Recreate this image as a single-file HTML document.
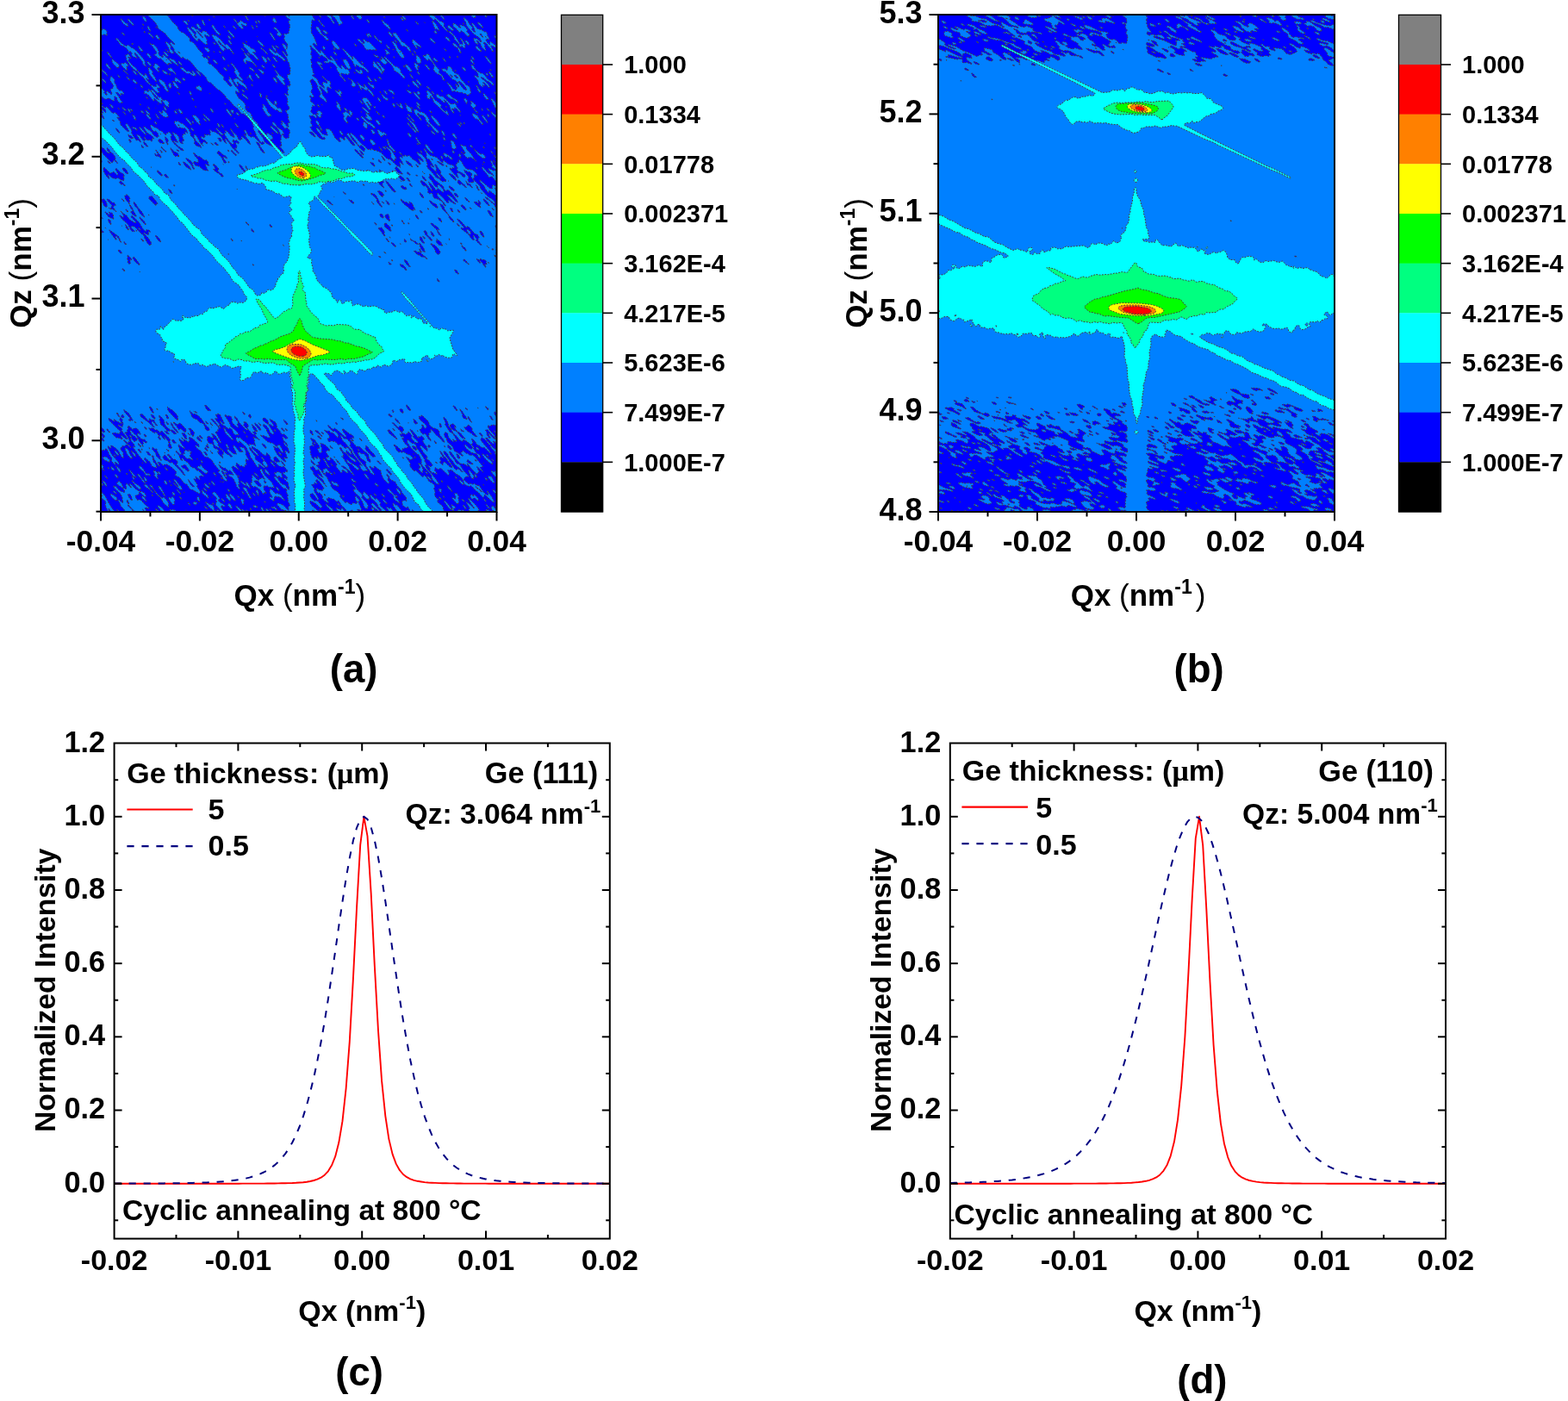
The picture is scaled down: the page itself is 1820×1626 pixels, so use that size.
<!DOCTYPE html><html><head><meta charset="utf-8"><style>html,body{margin:0;padding:0;background:#fff;}svg{display:block;}</style></head><body>
<svg width="1820" height="1626" viewBox="0 0 1820 1626">
<rect width="1820" height="1626" fill="#fff"/>
<rect x="117" y="17" width="459.5" height="577" fill="#0000FF"/>
<path fill="#0080FF" fill-rule="evenodd" stroke="#4a3c36" stroke-width="1" stroke-dasharray="1.8 1.5" d="M515.2 593.9l-33 .1-3.4-2.3-.8 .5 0 1.6-1.4 0-3.4-5.7-.4-.1-.6 1.5-.4 .1-4.2-2.8-.6-1.6-.2-3.9 1.4 0 1-.9 2.6 1.4-.4-4.6-4.8-5.4-1.4-3.7-4.4-4.7-2-4.2-5-2.2-1.2-1.2-1.4-3.7-2.4-1.9-.2 1 2.3 3-.1 1-1.1 .6 2.3 4.4-.8 1.1-1-.3-5.1-5.2-2.5-5.6-.6-4-3.9-2.4-2.9-2.7-1 .1 .1 2-1.1 .3-4.4-2.7-.3 .4 6.4 9.6-1.1 .1-4-2.5-.4-1.6-3.8-5-1.2-3 .5-2-1.1-1.6-5.3-3.4-3.8-6.6 2.5-.1 3 2 1-.6 1.2 .3 3 3.4 .8 3.7 2 2 1.6 .4 .6-1.1-2.3-4-.2-3-1.5-2-5.3-4-2.3-2.6-2.6-1.5-2.4 .3-7.3-8.2-.3-1.2 1.8 1.2 1.2 1.9 1 .4-.3-1.7-2.2-3 3.1 .5-.3-1.5-2.6-2.6-1.7-.3-7.4-5.8-1.5-.3 .8 3 3.8 5-.1 1.1-1 .4-10.6-9.2-2-1.2-1.4 1.3-1-.3-4.6-4.3-.6 .2 .6 1.6 5 5.1 2.6 .1 2.4 2 1.2 1.6 .1 2.6-.2 1-.5 0-5-5.2-3-.7-2-1.8-2 .3-3-1.4 .2 1.2 3.8 3.4 1.6 3.2-.1 1.4-2.2 1 .7 2.2 1.4 1.5 .6 .1 1-1.2 5 .8 1.4 .9 2.6 2.9 1 .1 .4-1 1 .1 6 5.2 .8-.6-.2-1.4 2.2 1 2.9 4 1.4 3.4-1.2 0-4.9-4.4-.7 1.4 .7 1.9 3.4 3.1 4.6 2.9 3.2 2.7 .1 1-1.7 .1-5-3.4-4.6-5.7-4.2-3-2.2-4.2-1-.6-.2 2.2 3.8 5.6-.1 3.4-.5 .3-1-.8-.1 .5 2.1 1.9 2.8 4.7 3.3 4 1.7 4.4 4.4 6-.2 .5-.6-.3-5-5.4-2.4-1.4-2.4-2.8-3.6-1.3-.5 .3 .3 .4 1.5 1.6 4.5 2.4 1.4 3-.2 .6-1 .1-5-3.7-.8 .6 .3 2.4-1.5 .3-5.2-6.3-.7-1.4 .1-.6 1.2-.4-.3-1-4.4-5.6-2.3-1.6-1.4-.4 1 2.6-2.6 .8-1.2-.8-1.8-2.6 .6-.5 3 .1-.4-1.6-2.3-3-.8-2 1.5-1.5 3.2 .5-1.5-3-4.7-4.1-4.6-1.9 .4 4 1.1 2.6-.7 1.4 .8 2.6-2.6 1.1-1.6-2.1-1.2-3.6 1.8 .8 .7-2.2-.5-1.6-3.6-4.3-1.5-2.7-1.5-.2-2.6-1.6-.4 .1-.2 .7 2.3 3.6-.3 2.4 1.9 2.6-.3 .4-2-1.4-2.1 1-.6 1 .1 2 .9 2-.4 2.4 2 6 2.7 2.6 .5-.6-.7-1.4 .2-1.3 1 .1 2 1.8 1-.1-.9-3.1 2.9 2.4 .9 2.2-.2 1.4-.3 .6-2 .4 0 .6 1.1 3-2.5-.2-.3 1.2 5.5 5.4 1.5 3 5.3 4.9 .8 2.7 3.3 5 .2 2.4 1.1 1.7 2.6 2.5 3.4 1.8 3.3 3.6 .5 1-.4 2 6.2 6.7 1 .3-.1-1 .5-.5 4.6 3.2 1.4-.1 1.6-1.9 3 1 1.4-.5 .7-.8-2.3-3.4-.5-3.6 1.1-.1 1.8 1.7 2.4 3-.1 1-1.1 0-.3 1 3.6 8-.2 1.4-.5 .3-3.9-1.7-.2 .4 1.2 2-.1 .7-4.6 .1-3-2-1.4 .6-1 1.4-3-.2-2.8-4-3.8-3.4-2.4-4.4-1.6-.8-1.4 1.1-3.6-3.2-2.4-.2-3-1.4-1 .2 0 1.1-.6 .2-1-.2-.1 1 2.3 3-.2 1-4.6-2.6-2.5-3 .7-2-1.6-2.1-2.4-2.4-1.6 .7-1.8-2.6-.2-3 .6-.3 2.4 2 2 .1 1.6 1 .6-.4-.2-1.5 2-.9-5.7-8-2.7-2.3-1 .6-.2 .7 1.6 4-3-1.6-.4 .1 0 2-2.6-.3-.5 .8 3.3 4.4-.4 2.6 4.8 8 .4 2.4-1.1 0-3.5-5.1-2.4-2.5-2.6 1-.6 1.2 2 3.4 2 2 1.6 1.2 2.6-.3 1.7 1.1 4.4 5.6-.1 1-1.6 .7-1-.4-4.3-4.3-4.7-2.7-2-.6-.7 1.3 2.5 4 6.5 5.4 .3 1.6-2 .1-3.6-2.1-.6 .4-.1 1.6-.7 .2-27 0-1.6-.9-6.6-1.9-4.8-5.3 0-1.7 2-.1 5.4 2.5 5 5.4 1.1 .2-.8-4 1.7-1.3 .3-1.1-2.4-4 .4-2-1-3 .9-2-1.8-3 .2-3.7-1-1-2-.2-1.8-1.1-8.5-9.6-1.5-2.4 .2-.6 1-.1 2.6 1.5 4.2 6.2 2.8 1.6 2.1 .4 2.9 4.6 1.9 .8-.2-3-1-2.4 .3-2-4.8-4.6-.5-1 .7-.5 3 1.8 .2-2.3-.9-1.4-3.7-3-.6-1 .6-.6 1.4 .6 1.6-1.8 2 .8-.4-2-3.6-4.2-1.6-.4-1 .9-4-1.7-4.4-4.5-3.6-1.9-1.1-1.2-.7-3.6-3.2-3.1-1-.4-.2 .5 .2 2.3-2-.1-2.4-1.4-4.6-4.4-7.4-4.3-.7 .5 .1 1.1 5.8 5.3 2.3 3.6-1.2 0-4.9-4.3-3.4-4.9-1-.4-.2 2 6.8 8.6-.3 2.4 .5 1 5.6 4.3 5.2 4.7-.2 .6-1 .1-5.4-4.2-.8 .5 .8 2.6-1.6 .4-1.4-1.2-4.4-7.2-2.8-3.6-1.2-4.4-1.8-2.6-1.8-4.1-7.6-7-.4-.3-.3 .4 .3 1.8-1.6-.5-2.1-2.7-.1-3 .8-.6 2 1 1.6-.4 3.4 3.2 3 2 4.4 4.6 0-1.8 .6-.6 2.4 1 1.6-.6 2.4 1.8 .7-.2-1.5-3.4 0-2.6-1.6-4.4 2.4 1.6 2.6 .7 1.4 1.3 1.1-.2-2.1-1.6-3-3.8 1.5-1.6-1.5-2.8-2.9 .8 2 2.6 .1 .4-.6 .1-2-.8-4.9-5.3-.8-2 1.3-1.4 0-1-2.2-3.3-3-1.3 .3 2.6-.8 1.4 1.1 1.8 3.8 3.2-.8 1.1-1.8-1.1-7-7.4-2.8-5.2-3-2.6-.4 .2 1.3 2.6 3.3 4-.1 1.4-1.1 1 1.6 3.6-.2 .4-2.4-1.2-3.4-3.1-1.2-1.7-.5-1 .4-2-1.1-3.4-2.2-1.2-1.4 .4-3.6-1.5-.6 .3 5.8 9 1.7 4.4 3.7 2.8 4.2 4.2 1.2 3-2.4-.7-1.7 .3-2.5-2.6-.7-3-1.5-1.4-1.6-1.1-1.6 1.1-4-3.2-4.2-2.4-2.1-3.4 1.5 .4 2.8 2.7 1-.1 .1-.6-4.9-10-2.6-1.2-.6 1.5-2.2-.3 2.4 4-.1 1-2.1-1-.5 .6 1.1 2.1 3.7 3.9 .1 2.4 1.6 2.6-1 0-5.7-7.6-2.7-2.7-1.6-.5-.1 .8 7.5 8 1.3 2-.1 1.4-1.2 .6 .7 2-3.1 .3-.3 .7 2 2.4 4.9 9.6-1 .1-1-.9-4.8-7.2-3.8-2.8-.5 .2 2.1 5-1 .2-5-2.4-.8 .8-.5 3 .6 2.4 1.4 2 1.3 .8 1.4-.3 1.7 1.1 1 1-.3 1.4 .9 1.6 1.3 1.1 1.6-.1 2.6 2.4 .3 1-1.5-.2-.5 .2 .2 .6 2 3 4.3 4 .2-.6-1.5-3.4 .3-.6 1.5 0 .1-2.4-3.2-3.9-2-1.3-3.4-1.2-2.2-2.2-1.5-5 .7-1.1 1.4 0 1.8 1.1 2.4 4-.4 1.6 .5 1 9.7 9.2 2.6 1.1 2.4 2.3 1-.1 .2-1.1-5.2-5.3-.7-2.1 1.7-.2 5.6 4.8 3.4 .9-.3-2.5-2.8-5-.3-2.6 1-.1 2 1.9 4.4 5.8 1.6-.6 2 .6 .2-.6-3.2-3.8-.8-1.6 4.8 .8 1.1 1.2 1.6 4-.4 2.4 3.7 6.6-.6 .5-2.4-1.4-.7 .3 .9 6.6-1.8-.1 0 2.1-1 .3-3-1.5-1.4 .3-3.4-3.1-1.2-.1-.1 3.1 3.1 3.8 0 .7-6.4-4.2-1 0-.8 1.1 2.1 5 4.3 5 2 5-.4 2.6 1.3 2-1.5 .4-.3 1 1.9 3.6-.2 1-1.4-.8-2.2-2.2-.7-3-2.7-5.7-2.4-2.5-2.6-.6-1.5-2.2 4.1-.1 2 .8 .1-.7-1.9-3-2.2-2-1.6 1-4-3.7-2 .2-5.3-4.1 1.3 2.7 3 3.4 1.6 .9 1.4-.1 2.2 2.1-.1 1-1.5-1-.7 .6 2.3 4-.1 1-.5 .1-1.4-1.1-1-3.6-.9-1.4-1.3-1.2-1 .1-.2 .5 6.4 9.6-.2 1.7-2.1-.7-2.1-2-1.2-3.2-4.6-4.7 0-.7 1.6 0 .2-1-6.2-7.3-2.6-4.3-1.8-1.8-3.6-2.3-2.6-.1-2.7-2.6-2-4-4.7-3.3-2.1-2.7 .1-.7 1-.4 2.4 1.7 1-.1-.4-2.2-6.6-6.6-3.4-1.9-1-.1-.8 .7 1.3 2.6-1.1 1-.4 1.7-3-2.4-2.4-.9-2.6-2.5-.6 .1 2.4 2.4 .8 1.6-.6 .9-5-3.7-.1 .8 3.4 6.4 2.9 3 .7 1.6-2.9-1.4-4.6-3.4-.5 .8 1.7 4 .2 2.4 1.8 2.6-.1 1.4-1.5 .2-3-3.2-1.9-1 .3 1.2 3.2 3.4 2.2 5.4 1.2 1.3 .8 .3-.6-2.6 .2-.7 .6 .1 3 3.4 3.2 1.8 3.2 4.5 2.6 1.6 2 .1 2.4 2.9 2.2 .3 6.1 6 .2 .6-.5 .2-3-1-1.4 .6-.3 1.6 .7 2.6-.4 .3-4.6-4-.4 .1 1 3-2.6-.5-.2 .5 4.3 6.6-.7 2 3.8 5.4-.6 3.1-8-4.7-3.2-.8-3.8-5.7-3-1.1-5-6.5-5.6-3-.2-.7 1.2-.9 .6-1.7-1.6-2.2-4.4-3.9-5-3.1-3 0-1 1.4-3.4-3.2-2.6-1.2-.6 .8 2.3 4-.3 .4-1.6-1-5-8-.3-1 .4-1-1.5-1.6-.4-.3-.3 .5 1.6 7.4 2.4 2 1.4 4-.1 1.1-5.2-2.1-2.6-5-5.8-5-.7 .6 .1 1.4 2.3 3 .2 1.6-.9-.3-4.2-4.3-4.8-5.8-5.6-8.2-.3-1 1.9 .6 .6-.6-1.9-3.4-2.3-2.6-1.1-2.4 .6-1.6-1.9-3 .6-.5 2 1.9-.3 2.2 3.3 3.7 1 0 1-1.3 1.7-.4-.1-1-2.6-3.1-4-2.3-2.1-4.6 .5-.3 1.7 .7 3.3 3.8 2.1 1.2 3.3 7 3.4 4 .8 2.5 .4-.1-.7-2.4 1-1.4-.8-3 4.1 2.5 .7-.5-.1-1-3-3-1.6 .2-1.6-.6-4.6-4.2-.4-2 1.6-.1 2 1.2 .5-.5-1.9-3.6-2.6-3.1-3.6 0-1 1.4-.4-.1-3-3.3-2-.7-.7 .4 .7 3-1.3 1.4 .3 2.6-2.6-.3-.1 .7 3.8 6 2 4.6-1.7-.1-.4 1.1-1 .1-3-2.8-1.6-.7 0 .4 2.4 3 4.2 2.7 2.4 2.7-1 .2-3-3-1.4-.8-1.6 1.9-2.4 .3-1-.5-.3 1.9-1.8 .6 .7 2.4 2.5 3 .4 6.6-2.1-1.4-3.8-7.2-3-3-4.6-3.1-1 .1-.1 .6 .5 2.2-1-.1-2.4-2-1 .3 5.3 10 7.3 8 .6 2-.2 1.3-4-3.4-.4 .1 .5 3-.7 .2-3-3.5-1-1.7 .8-1.4-.1-1-3.3-4.6-.7-2.4-2.1-3.8-1-.3-1 1.7-4.7-.2 0-11.4 .1-.5 .6 .2 2.4 1.8 .8-.5-1.8-3.3-2-1.3 0-2.9 2.6 3.6 1.4 0 .3-1.1-.7-1.7-3.8-3.9 .2-1.2 3 2 1-.2 .3-1-.7-1.7-3.6-3.9-.2-1 0-224 .2-1 2.6 1 .5-1-3.1-3.3-.2-1.1 .1-11.6 2.2 .6-2.2-3-.1-1 0-61 .2-.8 1 .3 .6-.5-1.8-2.6 .2-9.9 3.3 4.5 8.6 8.4 1.7 .6 .9-2.6 .5-.2 1 .5 2.6 2.9 .9-.2-3.1-4 .4-2.4-1.1-2-2.7-3.3-2.5-1.3-.3-1.4-2.2-2.8-1-.2-.1 1.4 1.1 2.2 1.6 1.4 .4 1.4-3.1-1.4-3.7-4.6-3.4-2 .1-34.4 .7-.2 2 1.8 1.4 .4-3.2-6 .2-.6 1.3 0 .1-.4-1.6-3.6 .9 0 3.3 3.2 .6 .1 .2-1.3-1-2.4-4.7-4 1.9 .3 2 1.8 1 .3 1.6-1.5 6.4 7.2 1 .5 2-.8 1 .4 4.2 4.8-.1 1-1.5-1.1-.6 .1-.1 1 3.7 5-.3 2 .5 1 6.8 6.7 2.4 1.5 .6-.8-4.3-7.4 1.3-1.2 1.4 .6 4.6 7-.2 3 5 8 1.6 1.1 1-1 2.6 2.6 .7-.1-.1-1-4.7-7 .1-.6 3.4 1.3 2.6 3.9 2 2 1.1-.2 1.2-1.4-2.1-2-.1-1 1.6 1 1.7 2.6 1.6 .6 1.4-.7 3 1.8 .8-.9-.8-2.4 2.7 0-2.7-3.3-5.7-3.7-3.9-6 .2-.6 1.4 0 3.4 3 2.6 1.3 2 2.1 2 3.2 3 2.1 1.6 .6 .4-.8 1-.2-.8-3.3-1.4-2-1.2-1-2.6 .2-2.1-2.6-1.6-3.6 .3-1 1-.2 3 2.4 4 1.7 2.4 2.3 2.7 .8 3.9 4.2 1 .1 .2-1.7 1.8-.3 .4-1.3 1.6 .3 2.6 3.3-.1 1-1.1 .4-.1 1 1 3.6 2.7 3.6 7.8 7.4 1.6 1 2-.2-.8-1.4-5.2-3.2-5.6-5.8 .2-1 4 2.2 .7-.2-6.3-11.4 .6-.1 4.7 2.5 2.4 3.6 .1 3.4 .7 2 3.1 1.8 .5-.2-1.1-3 2 .1 .4-.7-2.3-5.4 1-.6 .5-2 2.4 .5-.4-3 2.4 1.6 .6 0 0-.5-1.4-3-2.2-2.2-2.4 .3-3-1.1-1.6 .6-1.4-.9-3.2-4.3 0-2.4 .6-.4 2 .6 1.6-.4 3 2.3 2.4 .7 6.8 6.2 1.9 4.4 .2 3 3.4 3 1.4 2.6-.3 4 2.6 2.6 3 .7 2 1.4 .6-.3-.9-2-1.4-2-3.7-3.3-2.7-4.7 0-3 1.1-.2 2.3 2.2 4.6 8.6 2.9 2.4-1.4-2 1.6-3 4 2.6 .8 0-.1-.6-3-3.4-2.9-1-1.4-1.6-.4-1.4 1-.2 3 1.5 .8-1.3-.8-2.8 3 1 1.6-.8 2 .8 .4-.2-.2-4.6-.7-1.4 .5-.3 3 2.4 2.4 0 4 2.6 3.8 3.3 1.8 3.6 2.4 3.1 1.6 1-1.8-4.7 .2-.8 .6 .1 4 4.4 3.2 5.3 7.8 7.5 .5-.5-.4-1-4.6-5 2.6 0 .1-2-1.4-3 .1-1 1.1-.2 2 1.2 .7-.6-.1-1-2.6-2.5-2 .6-2.6-1.3-.1 2.2 1.3 2-.5 1-1.7-.3-2.4-1.9-5.2-7.2-1.4-3 .1-.6 2 0-1.4-3.4 3.3 2.2 3.9 4.8 4.1 2-.8-3.6-3.3-5-.8-2 .5-.1 3.2 4.7 3.8 3.3 1.8 4.1 1.2 1.3 1 .3 .4-1.1 1.8 .1-.9-2.6 .1-.7 .6 .1 4.4 3.4 3.3 4.2 1.7 1.3 .6-.3-1.9-4-5.9-7.4 1.9 1.4 .9 0 .1-1-2.3-4-.1-1 .7-.5 1.7 1.5 1.7 4 2 2 2.2 1.1 1.4-.8 2 .6 8 8.2 2.6 .2 .7-.7-.3-1.2-1.4-1.3-1 1.2-1.1-.3-5.1-7.4-1.2-4-2.7-4.6 .8-2-1.5-3.4 .2-1-3.7-5-6.7-5.7-2.6-.1-4.2-5.8-4.5-3.4-4.7-5.8-4-3-1.3-2.8-5.7-5.7-3.6-2-7.8-7.7-2.4-.6-1.9-2.4-.6-2.6-5.7-5.7-3.6-1.9-9-11.1-4-2.8-1.4 .2-1-.5-2.6-2.2-.4 .1-.4 1.5-.6 0-7.8-7.6-.9-1.4-.2-2-4.4-6 .2-1.6 1.1-.1 3.4 2.9 .6-.8-.6-1.1-7.2-6.9-3.2-4.2-8.5-6.2 0-1.6-3.1-5.1-8.6-8.3 .2-.7 20-.1 2.1 .8 1.9 1.4 4.2 6 6 5.6 .6 2.4 1.6 2.3 2.6 1.9 2.6 .8 6.6 6 .5 1-.7 2.2 4 1.7 2.7 2.7 4.3 6.1 4.6 4.3 .1 1-.8 1 1.1 1.8 1.4 1.2 1-1 3 2.9 .7 1.1-.4 2 .7 1.7 1 .7 1-.4 .6 .3 7.2 6.7 2.8 3.8 4.4 3.5 1 1.7-1 1 .3 1 3 2.6 3.3 4.2 2.4 1.5 .8-.7-.1-1.6-4-5 .1-.4 1.7-1-.9-2.9 2 1.6 4.3 8.3 4.3 5 1.6 3.4-.2 .5-4-2-.6 .5 .4 1.6 3.6 6.1 4.6 3.6 2.6 3.3 .6 2.4-.4 2.6 2 3 1.5 1.4 1.7 .4 1.4 1.5 2.4 6.1 5.4 5 .6 1-.4 1.6 .3 .4 8.7 9.8 1.4 .8 .1-2 1.1-.2 5 3 1.1 3.6-2.1 .4-.9 .6 .2 .6 8.4 9.4 6.7 5.6 .8-.6-1.1-2.4-4.4-5 .3-.5 1.4 .7 .6-.2-.4-4.6-1.2-2 1.3-1.4-.5-3 1.2-.5-.1-.5-2-2.6-.7-2.4-1.6-2.7-1.6-2-4.2-3.3-1-2 .8-1.1 1 .3 2 2.1 2 3.5 5.7 3.6 2.3 4-.6 .6-1-.7-1 .1 3 4.8 2 1 .6-.5 2.4-.6 .3-1.7-.5-2 .8-.4 .7-3-.6-2-3.1-3-1.6 1.4-1-.4-4.2-5.6 .2-.4 1.6 .7 .5-.3-1.7-2.4 .2-1 3.7 3.4 2.5 3.6 1.2 .6 .6-.2 .2-1-1-3 .2-.5 2-.4 .1-.5-1.8-3.6-.1-5-3.2-5 2 .1 2.6-2.1 .2-1-2.9-5 .9-2-.6-5-3.2-4.4 1-.2 2 1.8 1.6 .3-1.2-3.9 .9-2.6-.9-5 .6-.1 2 1.2 .7-1.5-.5-3.6-2.9-6 .4-3 1.9 .8 .7-.8 .5-7-1-3-.1-2.4-2.3-3.6-.2-2-5.9-8.4 .3-.6 1.4 .8 3.6 4.9 1 .3 .1-1.4-2-4-.1-1.6-2.7-3.4-1.6-3.6 .7-.8 2.8 1.8 1.4 2 .3 2.6 .5 .2 0-2.2 .7-2.6-.7-1.6-2.1-2.4-1.5-3.4 .9-2.6-1-2.4 .3-.8 2.4 .5 2.7-.7 1.8-9-1.6-3.6-.1-2 1.7-1-.8-1.4-1.7-.4-1.7-1.6-1.3-2.6 2.6 .4 2 1.7 .5-.1-.1-2 .6-.2 25 .2 3.7 6-.3 .8-2.4-1-1.2 .8 .3 2.4-.9 7 .5 2.6-.5 1.4 3.4 5.6 3.9 10-.7 0-3.4-2.8-1.2 .8 .6 1.4 2.9 4 4.7 4.8 .9 .2 .2-.4-.8-2 1.7 .3 7.6 8.9 2 1.4 2 0 1.8 .8-3-3.4-.5-1.6 1.7 .4 3.6 4.2 3.4 5.6 4 4.1 1 .2-.8-2.9 .2-1 .6-.1 4.4 4.7 2-.4 2.2 2.8 .5 1.4-2.1 2.8-2.6-1.4-1.4 .6-2-1.1-2.1 .1-.2 1 .6 1.6 4.8 5.4 .2 1.6-.3 .1-3.2-4.1-3.4-3 .2-2-3.3-4.6-.4-1 .4-1.4-1.6-2.6-3.3-3.1-3.4-1.4-.6 .1-.4 1.2-5.2-.2-.6-1 .2-.6 4.1-.4 .1-1-1.4-2-6.2-4.1-.6 .1 0 1.4-.4 .2-5.8-7.2-3.9-3-1.3-2.1-1-.6 1.7 7.3-1 2.4 1.5 3.6-.1 2-1.4 1.4 1.7 5.6-1.2 1.4 2.1 5-.2 2 2.1 3-.2 .6-2-.2-.2 1.2 5.4 4 2.2 5.6 6 4.9 .6-.5-2.2-4 .1-2.6 1.1-.1 3 1.4 1-.3 .2-1-.8-1.3-5.4-5.1 1-.2 4.6 4.6 3.4 1 1.2 3.6-1.2 .7-.2 .7 2 3-.1 .6-.7 .1-2.6-1.8-1.6 .1-.1 2 1 3 0 1.6-.7 .5-8-7.8-1-.3-.3 .6 2.9 5 .7 4 4.3 5.4 .9 3-.5 .6-4.4-4-3.3-2-.4-1.6 1.2-1 .2-2.4-3.5-6 .3-2-2.7-4.7-3.4-3.5-1 .1-.6 1.3-1.6 .2 2.3 5.6 .6 3.4-.2 1.6-1.2 1.4 0 1.6 3.2 5-.1 .5-2 .4-2.4-2.2-.2 1.3 1.4 3-.9 2.4 4.1 3.3 1.3 1.7-.2 1-.5 .1-2-1.3 0 1.8-1.3 1 .5 2.4-1.3 1-.1 1 3.2 3.7 2-.2 .4 .3 1.6 3.2-.6 .6-1-.4-3-2.3-2 .5-2-.4-.1 1 2.4 4.6-1 1.4 .1 1 1.9 3.6-.3 1-2 .4-.2 .6 3.5 5 4.5 4 1.2 2 3 2.1 2.6 1 1.4 0 1.6-1.1-1.6-1.6-1.4 .5-1.3-.9-2.7-4.2-2.7-2.8-1-2.6 .1-1.2 3.3 2.2 2.3 3.7 1.8 1.9 5.2 1.5 .5-.5-2.3-6.6 .8-.7 3.4 .6 2.7 2.1 4.1 8 4.8 4.2 1 .4 .7-.6-1.6-3.4 .2-1 1.7-.2 4.4 3.4-.3-3.8 .1-.4 .8-.2 1.4 1 5.8 7.6 3.2 2.1 .6-.5-.4-1.6-8.8-11 .5-1.4 1.1-.2 1.7 1.6 2.6 5.6 6.1 6 2.5 3.4 4.7 4.3 1 .2 1-2.5-1-1.6-2.6-2.5-1-.4-2 .7-2.3-2.2-1.7-3.1-5.6-6.9-1.1-2.4 .7-.6 4.8 4 5.5 6.6 3.3 3.2 2.4 1.5 3.6 4 2-.3 1.4 .8 .6-.2-.1-1.6 .5 0 2.6 2.2 2.4 .2 6 2.5 5.9 6.1 2.1 1.4 3 .5 7.4 7.1 4.2 2.1-1-6.5 4.3 3.4-1.2-3.4-2.8-4-.1-1.6 .2-.4 3 1.5-.4-2.5 3 .7 0-1.7 .4-.1 2.6 2.1 1.4-1.5 1 .3 4.6 4.9 2.1 .7 4.7 4.6 1.9 0-3.1-7 5.4 3.7 .4 .1 .4-.8-2.6-3.6-3.9-3.4-1.1-2.6 .2-.8 .6 .2 1.4 1.3 3 1.1 4.7 5.2 2.4 7-1.1 1.6 2.3 3.4 2.7 2.4 6.6 7.9 2.4 .6 3.4 3.1 1.6 .8 1-.6 2.6-.1 .1-1.1-6.3-7-.4-1 .7-2-3.3-4-2.4-4-1-.5-.5 .5 1.7 3.6-.2 4.8-6.1-5.8-.7-2.6 3.8 3.1 .6-.5-5.5-9-2.1-.4-1.1-1.2-.2-5.4-2.8-4.6 .1-.9 1.6 1.3 2.2 3.6 3.1 3 7.7 2.4 6 5.8 1.5 .4 0-2.6 .5-.1 5.4 4.3 6 1.6 1.6 2.8-2.6-.1-.4 1.3-2.6-.8-.5 .6 9.1 10.2 1 .3 .2-.5-1.7-4 .5-1.1 1-.2 2.6 1.3 3.4 3.7 1 .3 1.4-1.6-.7-1.4-5.3-3.2-1.4-.2-2.7-2.6 .1-.8 1.1-.8-2.6-4.4 1.6-.6 .5-2 2.2 0-.6-2 .1-.4 .7-.2 2.6 2 2.3 4.6 3 3.6 1.7 .7 5 .6 2.1 1.1 3.1 3 .9 1.6-.1 1.1-3-1.1-.6 .4 .7 2.6-1.4 1 .4 2 7.1 7 .6 2.4 1.2 1.7 5.7 6.3 2.1 2 4.8 3 2.5 2.6 .6 2-.7 .6-5-3.8-3.4-3.4-2.2-.4 1.4 2 3 1.4 3 3 2.6 1.7 3.3 5.9 0 18-.3 .8-1.4 .6-.1 .6 .5 1 1.1 .4 .2 1-.3 32.7-2.8-2.1 1.4 2.2 1.4 .4 .3 1.4 0 178-.3 1.2-2-1-.8 .8 1.2 3 1.9 2 0 9-.7 .8-4.6-.6-2.4 1.5-2.6-.5-.2 .8 2.2 4.1 5.6 6.2 1.1 2.7 1.4 1 .1 5-.6 .1-3-2.1-.3 .4 1 2.6-.7 .5-2.8-2.1-4.8-5.2-1.5-.2 1.1 3.3 4.2 4.1 1.5 2.6 3.1 3 1.6 .3 1.2 1.1-.2 6.3-1.7-1.7-.1-2.6-4.2-4.3-1.3-3.1-2.9-2.6-1.4-2.4-2.4-2.3-3-1.7-1.3 2 .7 2 9.2 10.8 2.8 5.2-8.7-8.6-2.7 .2-3.4-2.7-2.2-.5-2.4-4.1-3-2.9-.5 0-.2 1 1.5 3.6-1.3 1.4-.1 1 2.7 3-.9 1 2.8 4.7 1.6 1.5 2 .6 1.6 2.2-.2 2.8-1.4-1.1-2.7-4.1-6-1.6-5.9-4.8-2.2-3.6 .8-.6 1 .4 3.8 3.6 2.6 1.1 1.5-1.5-2.4-4-5.5-4.2-2.6-1-1-.1 0 1.7-.4 .1-3.6-1.8-2.7-3.7-4.7-4.2-2.3-4.8-2.9-3.6-.5-3-2.3-4.6-2.6-2.4-.7 .6 2.6 5.4-.5 2.6 5.4 8.4 3 1.6 1.2 1.2 3.7 6.2-.1 2.5-4-2.9-.2 1 1.5 2-2.3-.9-3.7-3.7-1-2-.2-2.4-1.1-1.6-2-.5-1.2 1.5 .5 3.6 2.3 2.4 .2 2 1 2 5.6 4.9 2 4.8 1.6 1.6 1.4 .2 7 5 .2-.9-2.8-3.6 1.6-.4 1-2 3.9 3.4 2.1 .4 2 1.9 2.6-.5 1.4 .6 2 1.5 9.2 11.1-.2 .5-2.4 .4-.4 .7 3 4 .4 1.3-7-6.6-.2 .7 2.7 5.6-1.6 .4-.5 1.6-1 .1-6.2-6.1-4.2-5.7-.7 .1 1 3-.3 .1-3.6-2.7-5-.6-4.4-4.6-6.3-8.6-.7-.7-1 .1-.2 1 1.5 3 4.3 5 1.8 3.7 2 1.5 1.6 .1 1.2 1.3 4.2 6.6 6.1 6.4-.1 .5-3.4-.3-2.2 2.2 0 2 5.6 4.7 2-.8 2.6 1.2 1.4-1.1 3.6 2.2 2.4 .2 4.8 7.2 3.2 3.1 2 .6 .8-1.3-1.8-3 0-.5 .7 .1 5 7 3.1 6-1.9 0-8.9-8.2-1-.1-.4 1.9-1 .8-.6-.2-5-5.5-3.4-2.5-3.3-3.8-2.3-1.6-1.4 1-4.7-1.8-1.7-2-.5-3-1.9-3-2.8-2.7-3.6-1.9-5.8-5-1.6 .6-2-.4-.6 .4 1.8 3.4-.6 2-.6 .3-8.4-8.1-3.6 1.4-3-2.3-.8 3.3 3 4-.2 .6-4-1.8-2-.1-2.5-3.3 .7-1.4-3.2-3.6 0-.3 4 1.8 1.7-1.5 0-1-3.7-4.7-3.6-2.3-.3-.4 1.5-.6 .1-1.4-4.1-4.4-4.4-7.2 .4-.9 1.4 .3 6.6 5.8 .6-.2-1.5-5.4-2.3-2.6-2-3.4 .5-1 1.6-1-.5-1.2-3-2.9-1.4 1.3-2-.2 .6 1.4-.6 .2-7.3-8.6-2.3-1.7-.1 1.1 4.2 6.6-1.2 1 5.4 5 .9 2-.6 .3-3-.7-4.2-4.6-.1-2 .7-1-3.4-4.3-.9-.3-.1 1-2.6 2-3.4-1.3-1.3-1.1 1.9-2 .1-1.6-.6-1.4-1.7-1.8-2.4-.4-1.6 1.7-4.8-5.1-1.6-1-.6 .6 10.8 11 .7 2.4-2.5-.5 .4 1.5 1.6 2 1-1.3 1.2 1.3 .4 1.8-2-1.1 .3 1.9 2.7 4.6 4 3.8-.1 .6-1.9 1.1-2-.2-1 1.3-1.6-.5-.2 2.3-.8 .5-5.4-5.3-3.6-2.2-.1 1 2.3 3 .2 2 3.2 3.1 2-.4 2 .8 1.4-1.1 5 3.2 2.6 .6 3 3.1 .4 1.7-1.4-.2-1 1.2-3.6-2.7-1.4-.8-.3 .5 4.4 6.4 .3 1-.6 2.6 3.2 4.1 1.4 1.5 2.7-.2 7.3 7.2 1-.1 1-1.5 .7 0 2 2 2.9 4.7 2 1.4 1.6 .3 2.8 2.9 .5 1.7-1.1 2.4 1.4 3-.4 5 2 3 2.8 1.6-.1 .4-1.6 .6-.1 1 1.4 2 3.8 2.7 1.6 2.3 .2 2.4 1 2-.4 .7zM288.8 23.3l-1 .1-1.6-1.5-2.2-4.7 .8 0 4 6.1zM307.8 18.5l-1.3-1.3 .9 0 .4 1.3zM388.2 27.3l-1 .1-.7-.6-3.3-5.2-3.5-2.8-.7-1.6 1.8-.1 3.7 2.1 .7 1.6-.1 1.4 2.8 3.6 .3 1.5zM393.8 29.7l-.9-2.5-4-6.4-3.8-3 .1-.7 6.6-.1 1.6 1.2 1.5 2.6-.3 1.4 .5 1 1.8 2 .6 1.6-.3 .5-2 .7-1.4 1.7zM410.8 22.7l-2.2-1.9-1.4-3.6 1.1 0 2.6 4.6-.1 .9zM418.8 22.3l-1 .1-3.3-2.6-.7-1.6 .4-.7 3-.5 1.8 1.2 1.3 2.6-1.5 1.5zM519.8 36.9l-3-2.4-10.6-11.5-1.4-.8-.6 0-.4 1.5-.6-.2-4.7-4.7-.5-1.6 1.2-.2 1.6 .9 2.4 .2 7.4 6.7 2.2 .3 1.4 .9 1.6 1.8-.8 1.4 .6 1.6 4.3 5.4-.1 .7zM515.2 22.8l-3.6-4-.2-1.6 .8 .3 2.7 2.7 .9 2-.6 .6zM551.8 20.3l-2.6 .1-2.2-2.2-.3-1 4.1-.1 1.1 1.1-.1 2.1zM564.8 20l-1.6-.6-1-2.2 1-.2 1 .6 .7 1.2-.1 1.2zM372.2 20.3l-1.6-1.5 .2-1.5 2 2.5-.6 .5zM223.8 19.1l-.8-.9 .8 .9zM471.2 22.8l-1 .1-1.8-1.1-1.3-2 .1-1.6 3.3 2.6 .7 2zM248.8 20.3l-1.1-1.1 .1-.9 1.3 1.9-.3 .1zM169.8 25.3l-1-.3-1.7-1.8-1.5-2.4 .2-1.6 1.6 0 2 2.6 .6 1.4-.2 2.1zM446.8 20.8l-1.3-.6-.1-1 1.1 .6 .3 1zM468.2 24l-1-.2-1.6-2-.4-2 2.6 2.1 .4 2.1zM320.8 26.4l-2.6-.5-1.6-2.1 0-1.6 1.2-1.9 1.1 .9 2 3.6 .3 1-.4 .6zM572.2 59.9l-1.4-1-1.4-2.7-3.2-3.3-1-1.8-3-2-1 .1 0 .6 1.7 3-.4 1.4 1.4 3-.1 1.8-4.6-4.1-1.3-3.7-3.4-4-1.4 0 1.8 3.6-.1 1-3-1.9-1.7-3.1-.3-2.6 4 .9 4.4 4 .7-.3-.5-2-2-3-6.2-4-7-7.9-2.1-3.1-.2-2.6-1.8-2.4-1.1-3 .8-.2 1.6 1.2 2.8 2.8 1.6 3.3 3.6 3.9-.8 2.4 3.2 3.3 .4 .2 .3-.5-.1-1-1.5-4.4-2.3-4 .2-1.1 1 .3 2.4 2.5 3 3.9 4.6 1.2 3.4 2.3 1.6-.2 .7 .5 .9 1.6 .2 2 2.4 4-.2 1-2.6-.7-1 .5-.1 1.2 1 2 3.1 3.1 .5-.1-.2-3 .7-.6 6.2 4.6 0 1.4-1.2 .8-2.4-1.8-2.1 0 2.7 5.6-.2 1.1zM148.2 30.8l-4.1-2.6-2.1-2-1.9-4 .1-.8 5.4 5.4 1.2 .6 1.4-.2-.1 1.6 .7 1.4-.6 .6zM282.2 33.3l-1.4 .1-4.3-3.6-1.9-3.6-2.5-2.4-.9-1.6 .2-.4 2.1 1.4 2.3 3.8 .4 0 .6-1.3 1.5-.5 .4-1.4 .5-.3 4.6 3.4 2.4 .2 0 3.2-3.4-.9-1.6-1.3-1-.1-.1 .8 2.3 3.4-.2 1.1zM154.8 29.3l-1.6-.8-4.5-4.7-.5-1.6 1.6 .3 4.7 4.7 .8 1.6-.5 .5zM243.2 23.9l-.9-1.7 1 .6 .4 1-.5 .1zM376.2 31.3l-2.4-1.9-1.7-2.6-2.5-2.6-.2-1.4 1.1 .4 1.9 3 4.1 4 .3 .9-.6 .2zM428.8 26.5l-1.6-.6-1.6-2.7 .2-.7 1.4 .6 1.7 2.7-.1 .7zM219.2 25.3l-1.4-1.4 0-.7 1.5 .6 .5 1-.6 .5zM238.2 29.3l-1 .1-1.1-1.2-1-1.4-.9-3.6 1-.1 .7 .7 2.3 5.5zM452.8 34.4l-7.3-6.2-2.7-5 1.4 .5 2.6 2.8 3.7 2.3 2.4 4 .2 1.4-.3 .2zM301.8 27l-2.6-2.1 0-1.4 1.7 .7 1 1.6-.1 1.2zM218.2 29l-1-.1-4-3.4-.5-1.3 3.1 0 2.6 4-.2 .8zM298.2 27.4l-1.6-1.2-.4-2 1 .4 1.2 1.6-.2 1.2zM509.8 35.5l-3-1.9-1.6 .5-.4-.6-3.5-9.3 1.6 .6 2.9 2.8 3.6 6.2 .4 1.7zM485.2 28.3l-1.4-.9-1.6-2.2 0-.5 3.3 2.5 .3 .9-.6 .2zM493.2 26.5l-.7-.7 .7 .7zM560.2 32.4l-5.2-4.6-.7-2 1.5 .3 2.7 2.1 1.9 3 .3 1-.5 .2zM538.8 28l-.6 .2-1.3-2 1.9 1.8zM544.2 42.3l-2.1-.5-3.9-4.3-3-1.8-.5 .1-.5 2-1-.3-4.4-5-2.6-1.6-.4-4.1 .4-.1 2.6 1.4 5 4.3 1-.1 0-.5-1.2-2 .2-1.1 5.4 1.8 3.6 4.3-1.1 1.4 .5 1.2 2.6 2.4-.6 2.5zM166.8 29.8l-1.6-1.6 0-.7 2 1.6-.4 .7zM232.8 33.8l-2-.9-1.8-1.7-1.2-3 1.4-.7 1.3 .7 2.8 5-.5 .6zM255.8 40.3l-1 .1-3.1-1.6-5.6-7.6-.3-2 1.4-.1 .8 .7 2.8 4.6 4.2 4.4 .8 1.5zM298.8 31.8l-1.6-.9-.3-1.7 1.9 1.4 0 1.2zM525.8 35.4l-1 0-5-3.5-.3-1.1 .8-.6 .5-1.2 5.6 5.2 .2 .6-.8 .6zM261.2 32.3l-1.4-1.4-.4-1.1 1.4 .8 .8 1.6-.4 .1zM273.8 33.9l-3.3-2.7-.3-1.5 1 .3 2.3 2.2 .6 1-.3 .7zM294.2 33.8l-1.1-1-1.3-3.4 .4-.1 1.2 1.5 1.1 2.4-.3 .6zM174.2 36.3l-2.6-3.1-.4-2.4 .6-.5 1 .8 1.1 2.1 .9 2.6-.6 .5zM182.2 32.2l-1.1-.4-.3-.9 1 .1 .4 1.2zM240.8 51.3l-2 .2-2-1.1-6-5.7-.8 .5-.2 2.6-1.7-.6-3.6-3.4-3.3-5.2-2.4-2.7-1.8-4.1 .8-.2 1.6 1.2 3.1 3 3.4 4-.4 1.4 .6 1.6 2.1 1.5 .2-1.1-1.9-3 1.3-1.4-.8-1.6-5.2-4.8 .4-1.3 2.6 .5 3 2.6 1.4-.5 3 3.3 1.6 .9 1-.1 .4-2.1 4.2 1.1 4.1 5-.7 .7-5-2.1-.7 .4 3.3 5.4-.6 2 1 3.1zM380.8 46.9l-2.2-.7-3.4-4.2-3.7-2.8-4.4-6-.3-1.4 .4-.8 1.6 .1 1.4 1.5 1.7 2.6 .7 2.6 2.2 2.7 3.4 1.6 1.8 1.7 1.3 2-.5 1.1zM165.8 33.3l-.9-1.1 .9 .6 0 .5zM324.8 42.3l-2-.9-1.6-1.5 0-.7 1.6-1.4-2-2.8-2.8-1.8-.3-1 1.5-.4 1.2 .4 5.5 6.6 1.1 2-2.2 1.5zM124.2 41.3l-3-1.5-1.4 .7-1.6-.1-1.1-1.2-.1-3 1.2-.7 1-1.9 2.6 .5 2.1 2.1 .4 1-.6 1.6 .7 1.4-.2 1.1zM473.2 36.3l-2-2.4 2 1.2 .4 1.1-.4 .1zM380.2 38.9l-2 .3-1.4-.9-1.7-2.1-.3-1.4 3.6 1.4 2 2-.2 .7zM271.8 44.2l-6-6.3-1.6-3.1 1.6 .7 4.4 4.6 1.7 2.1-.1 2zM235.5 43.2l-3-4-3.3-3.2-.8-.2 .4 1.1 3.7 4.3 2.3 2.2 .4 .3 .3-.5zM507.2 38.8l-1 .1-2-1.1-.1-1.6 .7-.7 1 .1 1.4 3.2zM168.2 38.2l-1.2-1-.2-1 1.4 .4 0 1.6zM539.8 55.8l-1.6-.4-2.4-2.3-.6 1.7-1.4-.8-.7-.8-.2-2-5.3-5.4-.8-3.2-1.9-2.4-3.4-2.4-.4-1 .7-.5 1.1 .5 5.6 5.4 5.7 9.1 3-.1-.3-2-2.7-4.4 0-.8 2 1.5 3.7 5.7-.1 4.6zM455.2 42.8l-3.4-2.9-1-2.7 1-.1 2 1.5 2 3.6-.6 .6zM144.8 40.8l-1.6-.3-2-2.6 .6-.2 2 1.3 1 1.8zM177.8 44.2l-5.3-5-.7-1.4 1.6 .4 3.1 3 1.4 2-.1 1zM319.2 46.8l-1-.5-1.6-2.1-3.5-5.4 .1-1.1 1 .3 2.2 2.8 3 5-.2 1zM476.8 60.3l-3.3-2.5-1.7-3.1-3-1.3-2 0-1.3-1.2-1.7-3.1-6.7-7.9-1-1.4 .1-1.6 3.2 0 7.3 10.6 2.7 1 3.2 3.4 2.6 1.9 1.2 2.7 .4 2.5zM560.8 43.2l-2-3.6-1.6-.8-.1 1 1.7 2.1 1.4 1.4 .6-.1zM427.8 43.3l-1.7-1.5-.7-2.6 1.4 .5 1-.9 1 .3 2.5 3.7-1.1 .1-2-1.8-.4 .1 .4 2-.4 .1zM271.2 62.8l-5.4-6.2-1.6 .8-3-3.4-3.4-2-3.6-4.5-1-.3-.1 1 1.9 3 3.8 2.8 3 3.2-.1 .6-1.6 0-.3 1.7-1-.5-2.6-2.6-2.8-4.6-5.8-7.6-1.5-3 .1-1 4.6 1.4 4.6 3.6 5.8 6.8 .6 .2 1-1 1.4 .8 3.2 3.8 3.5 5.4 .3 1.6zM185.2 46l-2.4-1.1-2-2-.2-1.1 .6-1.1 1.6 .1 2.6 4.4-.2 .8zM267.8 45.9l-2.7-2.1-.6-1.6 .3-1 1 .3 2.1 2.7-.1 1.7zM442.8 50.5l-7.3-6.3-1.4-2.4 .1-.8 1.8 1.2 2.5 3.6 1.7 1.1 2.3 .3 .5 1-.2 2.3zM576.2 44.5l-1.4-.6-1-2.2 1-.1 1.2 1.2 .5 1-.3 .7zM298.8 42.8l-.4-.6 .4 0 0 .6zM564.3 43.2l-1.4-1 .9 1.1 .5-.1zM522.2 48.3l-2.6-1.5-2.1-2-.5-1 .2-1.1 1.6 .4 2 1.5 1.6 2.6-.2 1.1zM504.8 50.3l-4.8-3.5-.9-1.6 .1-1 1.2 0 3.6 3.6 1.3 2-.5 .5zM169.2 77.3l-3.4-2.9-.3-2.6-7.7-9.8-1.6-.5-.2 .7 2.9 4.6-.1 1-2.6-1.7-1.4-.2-1.3-1.1-.8-1.6 .6-1.4-2.1-2.3-1-.2 .5 1.5-.9 0-1.9-3.6-1.7-1.7-3-1.9-3-1.1-3.4-4.9-1.7-1.4-.3-1.6 .4-.3 1.2 .5 3.6 4.4 4.8 3.7 1.4 .6 2.6-1.2 .4 .2 3.6 2.9 2.1 .8 3.9 3.3 8.1 9.3 1.5 3-.3 2.4 1.7 2.6-.6 .5zM436.8 58.5l-2.6-1-1.4 .5-4.6-.5-2.4 .5-2.2-2.2-2.6-4.6-3.2-2.2-2.6-2.6-.2-1.2 2.2 .4 3 3.4 2 1.4 1-.1 .1-.5-1.7-3 .1-1 .5-.3 4 3.3 1.6-.2 1 .5 6.4 6.5 1.7 2.2-.1 .7zM483.8 56.8l-5.2-7.6 .2-3.2 1 .1 2.1 1.7 7 6.4-.1 .8-.6 .1-5.4-2.9 1.5 4-.5 .6zM268.8 51.5l-1-.2-2.3-2.5-.7-2.1 1-.1 1.4 1 1.7 3.2-.1 .7zM306.8 53.8l-1 .1-2.6-1.4-4-4.1 0-1.6 1 .2 4 3.5 2.6 3.3zM460.8 49.8l-2.6-2.4 0-1.1 2 1.8 .6 1.7zM544.2 52.3l-1-.3-1.4-1.6-1.7-2.2-.3-1.4 2.4 .8 1.6 1.5 .9 2.1-.5 1.1zM286.2 49.3l-1.2-2.1 1.8 1.6-.6 .5zM393.8 57.4l-1 0-4-1.9-3.2-4.7-.4-3.1 2-.2 1 .6 5.7 7.1 .3 1.6-.4 .6zM468.2 67.4l-2-.5-2.1-2.1-3.5-5-1.7-4.6-4.1-7 2 .4 3.1 2.6 2.2 5 3.7 3.4 3.1 5.2 .4 1.4-1.1 1.2zM201.8 61.8l-2.6 .3-2-1.7-1.3-4.6-3.3-5.6-.4-1.5 1-.1 4 3.3 1.2 2.3-.7 2 3.5 3.9 .6 1.7zM250.2 51.4l-1.6-.2-1.4-2 2.2 .6 1 1-.2 .6zM299.8 69.8l-2.6-1.8-4-4.5-2-.6-2.2-1.7-2.5-4-3.4-3-.2-2-1.5-3 8.4 4.9 2 2.3 2 .2 1.7 1.2 1.4 2-.1 1-1 .1-2-1-.4 .9 5 5.4 1.9 3-.5 .6zM195.2 75.4l-3.4-2.4-5.6-5.4-2 .4-3-3-2.1-1.2-.3-.6 1.4-.1 1.6-1.3 .1-1-4.7-6.7-3.8-4.3 2.8 1.6 2 .2 3.6 3.5 2.6 4.7-.5 2.4 1.3 2.3 4 2.4 .4-.7-1.1-2 .3-.5 1-.1 7.8 7.2 1.9 3-.3 .5-4-1.3 .5 2.2-.5 .2zM154.2 51.8l-1.9-1 1.9-.6 .5 .6-.5 1zM535.2 61.5l-1-.1-1.1-1.2-2.2-5-3.1-1.3-1.3-1.1-.9-1.6 .2-1.1 1-.2 2.1 1.3 5.1 6 1.2 4.3zM413.8 53.5l-1.8-.7-.8-2 .7 0 1.6 1.4 .3 1.3zM452.2 57l-2.4-1.6-1.7-2.6 .1-1 3.6 3.3 .9 1.7-.5 .2zM330.8 71l-1.6-.6-2.8-2.6-4.6-3.2-2.6-.2-4.1-3.2-2.5-3-.4-2 1.7 .6 5.3 4.6 1.6 0 .4-1.2-3.4-2.8-2.3-4.2 .3-.5 1.1 .5 3 3.6 1.4 4 8.9 7.3 .8 1.7-.2 1.2zM323.2 56l-3.4-2.2-.1-1 2.1 .7 1.6 1.7 .3 .6-.5 .2zM165.8 59.4l-1.6 0-1.7-1.2-2.3-4.5 1-.1 1.8 1.6 2.9 3.6-.1 .6zM376.8 58l-1-.6-1.2-2.2 .2-1.5 1-.1 1.6 1.6-.6 2.8zM558.8 59.7l-3-.8-2.6-2.1-1.1-1.6 .1-1.1 1-.6 1 .5 4.3 4.8 .3 .9zM242.2 60.5l-1 0-2.7-2.7-1.3-2 .1-.6 3.9 .7 1 .7 1.3 2.2-1.3 1.7zM310.2 63l-2.2-1.8-2.2-2.8-2.7-1.6-.8-1.6 1.6 .6 5.3 4.7 1.5 2.3-.5 .2zM388.8 58l-1.8-1.2-.2-1 2 .7 0 1.5zM283.2 60l-3.4-3.8 1-.1 1.2 1.1 1.3 2-.1 .8zM517.8 59.2l-2-1.8-.4-1.2 2.4 1.9 0 1.1zM427.8 84l-1.2-.2-4.4-4.2-4.4-1.7-4-2.7-.8 .6 .3 2-1.1-.4-3.3-6.6-6.1-6.9-2.6-3.8-2.6-2.9 .2-.9 5.2 4.5 4.8 5.3 2 3.1-.8-3.4 .2-.6 1 .3 9 9.5 2.2 1.2 4.9 4.6 1.6 2-.1 1.2zM456.8 58l-1-.6 0-.7 1.1 .5 .3 .6-.4 .2zM195.8 61.3l-3.9-4.1 3.9 2.9 .3 1.1-.3 .1zM449.2 63.4l-1.1-.6 .3-2-1.7-3 .2-.6 2 1 3.5 3.6-.2 .6-2 .2-1 .8zM119.2 59.3l-.8-1.1 .9 .6-.1 .5zM482.2 61.8l-2.2-3 1.4 .4 1 1.6 .2 1-.4 0zM256.2 61.9l-1.6-1.1-.4-1.8 2.2 1.8-.2 1.1zM209 62.2l-1-2-1.1-.4 .6 1.4 1.5 1zM248.8 60.9l-1-1.4 .4-.2 .6 1.6zM129.8 66.8l-1.6-.8-3.4-4.1-.6-1.9 2.6 2.1 3 4.7zM195.2 65.3l-1 .1-2-1.4-2.4-3.8 1-.1 2.4 1.4 2.2 2.7-.2 1.1zM390.8 64.3l-2.3-1.1-1.5-3 .8-.1 1.7 1.1 1.4 2-.1 1.1zM465 60.8l-.8-.8-.4 .2 1 1 .2-.4zM297.8 77.8l-4-4.3-2-1.4-6-1.9-.5 .6 .9 3.4-.6 0-1.6-1.4-1.4-2-.1-1.6 1.1-1.4 1.7-.6 .2-1-2.3-5 .7 0 6.6 6.6 6.3 7.8 1.3 2.2-.3 0zM289.8 65l-2.8-2.2-.2-1.1 1-.1 .7 .6 1.3 2 0 .8zM175.2 67.8l-1-.3-2.7-2.7-1.2-2 .3-.6 1.6-.1 1.8 1.7 1.4 3-.2 1zM479.8 64.3l-1.7-1.5 .1-1 1.7 1.4 .2 1-.3 .1zM184.8 107.8l-2.6-.3-3.7-3.7-3.7-4.9-4.6-3.7-3.9-5.4-3.6-2.6-2.9-4.3-4.6-2.4-4.2-4.7-3.9-6-1.3-6.1 1.4 .3 1-1.5 1.6 1.1 2.5 4.2-.5 0-3-2.3-.1 .7 1.4 2.6-1.4 1.4 5.1 5.8 3.7 2.8 2.9 4 6.8 5.1 1.1-.1-.1-2.5 1 .3 3.7 6.6-.7 .4-2-1.5-1 .1 6 7.4 4 1.8 2 .1 .6-.7-.8-2 .8-.2 2.7 2.2 1.3 2.3-2.6-.4-.7 1.5 2.4 3.6-.1 1zM516.2 93.3l-2.4-.9-.9-3.2-2.1-2.2-3.6-1.6-2.6-2.2-1.6-3 1.4-3.4-2.4-4.6-4.2-3.6-.7 .2-.2 1.4-1.1-.2-4-4.1-.8-1.7 .2-.4 3 1.5 .5-2.1 1.1-.6 2 1 2.8 5.2 5.5 8 4.2 5-1.1 1 .4 1.4 4.2 3.9 2.4 5.2zM439.2 66.8l-2.6-.6-1.9-1.4-.9-1.9 2.4 1.5 2.2 .4 1.2 2-.4 0zM486.2 73.4l-1.5-.2-1.6-3 .1-6.7 3.3 2.7 1.9 3 .4 3.6-2.6 .6zM243.2 67.8l-1.7-1-1-2 2.3 .8 .4 2.2zM569.8 74.3l-3-2.9-3.2-4.6-.7-2 3.1 2.4 3.2 4.4 1.1 2.2-.5 .5zM261.2 70l-1.1-.2-1.9-2.4-.4-2.2 1 .3 1.4 1.6 1.2 1.7-.2 1.2zM308.8 73.3l-2.2-2.1-2.9-5.4 .1-.8 2.4 1.1 2.7 2.1 1.1 2.6-.8 2.4-.4 .1zM522.8 67.4l-1.6-1 0-1.2 1.7 1-.1 1.2zM531.8 66.8l-1.6-.8-.2-.8 1.2 0 .6 1.6zM550.2 69.8l-2.1-1.6-1-2 .1-1.2 2.2 1.8 1 2-.2 1zM322.2 71.8l-1 .1-2.2-2.1-2.4-3 .2-1.1 2.2 1.1 3.2 5zM446.8 74.8l-1-.3-3.6-3.5-1.8-2.8 2.8 1.3 .2-1.3-1.1-2.4 .9 .2 6.2 6.2-.5 1.6-2.1 1zM469.8 90.8l-1.2 0-6.2-6-5.2-3.3-.3-2.3-1.7-2.6-2-2.6-3.7-3.2-3.4-4-.1-1 1.2 .2 10.9 10.8 2.7 .8 3 2.2 1.1 1.4 .2 2.6 4.8 5.4-.1 1.6zM457.8 67.3l-1.2-1.1 .2-.9 1.1 .9 .2 1-.3 .1zM370.8 67.5l-1-.6 0-.7 1 .4 0 .9zM313.8 71l-2.6-2.1-1.1-1.7 .1-.7 1 .1 1 1 1.7 2.6-.1 .8zM517.2 71.7l-2-1.8-1.7-3.1 3.3 2.8 .7 1.6-.3 .5zM206.8 76.4l-9-6.3-1.2-1.9 .1-1 3.1 1.7 2.4 .6 4.7 6.3-.1 .6zM507.8 71.8l-3.3-1.6-1.4-1.4 .1-1.6 1-.1 .8 .7 2.8 2.8 0 1.2zM396.8 68.3l0-.6 0 .6zM137.2 78.8l-1.6-.6-4.5-4.4-1.1-2.6 .2-2.8 7.7 6.4 .4 1.4-1.1 2.6zM391.2 69.8l-1-1.3 1.1 .7-.1 .6zM407.2 79.8l-2 .2-2-.9-2.1-2.9-3.3-6.4 2.4-1.1 2 .9 2.7 4.2 2.3 6zM550.2 74.8l-4.1-4 .1-2.1 1 .3 1.2 1.2 2.2 4.6-.4 0zM193.5 69.8l-.7-.8 .7 .8zM252.2 74.3l-2.4-1.3-2.3-2.2-.3-1 1.6-.2 1.4 .9 2.2 2.7-.2 1.1zM210.8 75.8l-3.3-2.6-.7-2.2 1 .1 2.2 2.1 1.3 2-.5 .6zM443.8 86l-2.3-1.8-3.3-4.2-5-3.1 0-5.9 1.3 .8 8.1 10 1.3 3-.1 1.2zM175.2 76.5l-1.1-.3-3.1-3-.2-1.5 1-.1 2.7 2.2 .9 1.4-.2 1.3zM374.8 80.8l-1.6-.9-2.3-3.7-2.8-3-.3-1.5 1.4-.1 3.6 1.5 1.2 1.1 .2 .9-.4 .2-2-.8-.2 1.3 3.3 4-.1 1zM421.8 74.5l-1.3-.7-1.3-2.1 1.1 .1 1.5 2 0 .7zM445.2 83.7l-2.3-1.9-1-3.6-3.8-4.4-1-1.6 .1-.7 3 1.5 2.8 4.2 3.4 3 .1 1-.8 .6-.5 1.9zM147.8 81.3l-1 .1-4.3-3.6-1.9-3 .2-1.2 3 .2 1-1.1 1-.1 2.7 2.6 .5 1.6-2.2 .4 1 4.1zM485.2 81.8l-1.2-.6-2.4-3.4-.8-5.1 3.4 1.8 2.6 3.3-.6 .5-1.4-1.1-.6 .1 1.2 2.9-.2 1.6zM282.2 93.8l-1 .1-2.7-1.7-3.9-4-.7-2-2.2-3 1.3-1.4-.6-2-1.2-2.3-2.6-2.7-.2-1.6 2.6 2 4.9 6.6 2.4 4-1.1 1.4 4 4.4 1 2.2zM128.2 80.4l-1.6-.6-2.8-2.9-.8-1.7 .2-1.7 1.6 1.1 3.6 5.2-.2 .6zM184.8 83.3l-1.6-.3-5.5-5.8 .1-.4 1.5 0-.1-2.6 1.6-.2 1.4 .6 3.2 3.2-.2 1.1-2-.4-.7 .7 2.3 4.1zM319.2 78.8l-1.6-1-1.5-2.6 .1-.9 3.2 2.9-.2 1.6zM477.8 82.9l-.6 .3-2-.8-2.2-2.2-2.4-4-.3-1.4 2.5 .8 2.2 2.2 2.9 4-.1 1.1zM498.8 80.9l-.6 .3-1.2-1-3.8-4.8 .1-.6 1.9 .8 3.6 4.5 0 .8zM567.8 101.9l-5-5.4-2-1.2-.2 .9 1.8 2 .2 1.6-2.4-1.1 .6 2.1-.6 .5-3.4-2.9-1.2-1.6-.2-2-1-2-3.7-4 .1-.7 1-.4 3.4 2.3-.3-4.2-2.7-3.9-4.1-2.1-1.3-5 2.2 1 4.2 6.3 4.6 2.8 2.6 .3 3.1 3 2.7 3.8 3.7 2.2 2.3 2.4 1.1 1.6-.5 .8-1.7-.8-3.2-3-2.7-1.3-4-3.3-2-1-1 .2 .8 1.4 2.8 1.8 5 5.1 1.1 1.7 .2 2-.3 .1zM266.2 77.2l-1.4-.7-.6-1.3 1 .3 1 1.7zM307.2 79.3l-3.2-2.1-.2-1.7 1 .1 2.2 2.2 .2 1.5zM470.2 78.1l-1.4-.6-.8-1.3 1.2 .3 1 1.6zM543.2 111l-3-2.4-2.4-.1-2-1.8-1.6 .8-4-1.2-1.4 .1-2-1.4-1 1.3-1.6-.9-1.3-3.6-4.2-6 .7 0 3.8 3.2 2.4 3.8 3.2 1.6 1-.5 .7-1.7-2.1-5 1.6 1 2.2 3.1 .6-.5-.9-3-1.3-2.6-2.8-2.5-2-.2-9.6-9.9-1 .4-1-.5-1.5-2.3 .1-.5 1.4 .5 1.6-.7 3 2 .7-.7 .3-3.8 2 .1 2.2 1.7 1.2 3.1 3 3.1 4.3 1.8 3 6 2.3 1.8 3 3.9 3.4 1.5 1.7 2.8-.3 1.4 1.2 3-1.4 2-1.7 .6-.5 1.2zM227.2 87.8l-3.4 .1-4-2.8-2.6 .3-5.4-3.9-1.7-1.7-.9-1.9 3 .7 4.6 4.3 1 .1 1-.8 5 3.7 .2-.7-1-2.4 .2-.8 .6 .1 3.1 3.7 .3 2zM384.2 79.1l-.5-.3 .1-1 .8 .4-.4 .9zM181.2 94.8l-3.7-3.6-3.9-5-1.8-8 2 .8 3.1 3.8 .5 1-.1 .4-.6 0-.1 1 3.3 4.6 1.9 4.4-.6 .6zM263.2 82.3l-2.2-1.1-1.4-2 .2-1 2.2 1 1.4 2-.2 1.1zM295.2 83.3l-5-3.3-.6-.8 .1-1 3.1 1.3 2.1 2.3 .3 1.5zM540.2 82.3l-1-.3-2.2-2.2-.8-2 2.6 .8 1.2 1.2 .7 1.4-.5 1.1zM204.2 86.7l-4-3.6-2.4-.1-2.6-2.6-.2-1.2 2.2 .2 .6-.8 1 .4 5.4 6.6 0 1.1zM305.8 86.2l-3-2.2-3-3.8 1-.1 5 2.9 .4 .8-.4 2.4zM420.8 85.3l-3 .3-1.6-.7-3.4-3-.1-1.7 5.1 3.3-.2-2.3 1.2-.5 2.1 2.1-.1 2.5zM569.8 81.8l-1.1-1 .1-.6 1.5 1-.5 .6zM124.8 88.3l-6.3-6.1-.3-1.4 4.3 3 1.4 2 1.2 2.4-.3 .1zM194.8 86.3l-4-1-2.2-3.1 .1-1 5.1 2.8 1 2.3zM330.8 98.4l-.6 .3-1.4-.7-7.7-8.8-.8-1.4 1.9-.5 .1-.5-3.5-5.6 1.4 .3 4 5.5 5.7 4.2 .5 1.6-1.6 .4-.1 .6 2.2 3-.1 1.6zM529.2 83l-1.2-.8-.2-1 1 0 .4 1.8zM149.2 87l-6.4-5.2 1-.2 2.4 1.9 3 3.5zM159.2 87l-2.4-1-3.1-4.2 2.5 .7 3 3.6 0 .9zM232.8 88.3l-4-3.9-1.1-1.6 .2-.6 2.2 1 1.1 1.4 1.7 2.6 .2 1-.3 .1zM572.2 89.9l-1.4-.6-1.2-1.5-2-3.6-.2-1.4 1.6 1 2.9 4 .7 1.4-.4 .7zM486.8 86.8l-2.2-2-.4-1.6 1-.1 .7 .7 1.4 2.4-.5 .6zM411.8 85l-1-1.6 1.1 .8 .3 .6-.4 .2zM301.2 90.8l-1 .2-1.2-.8-2.4-3.4-.4-2.1 1 .3 1.8 1.8 1.9 2.4 .3 1.6zM566.2 87.9l-1-.5-1.1-1.6 .1-1.1 .7 .1 1.5 1.4-.2 1.7zM197.8 87l-1.1-.2-.7-1.6 1.5 .6 .3 1.2zM479.2 91.2l-2.4-2.8-1.4-2.6 1.4 .7 2 2.6 .7 1.7-.3 .4zM293.2 94.3l-5-5.5 .8-1 .2-1.3 1.2 .3 1.4 2-.2 1.4 1.8 3 .2 1-.4 .1zM525.3 89.2l-.8-1.4-1.7-1.3-.1 .7 1.1 1.7 1 .6 .5-.3zM531.3 90.8l.1-1-2.2-2.3-2-.7 .4 1.4 1.9 2 .7 .7 1.1-.1zM138.8 90.1l-1.7-1.3-.3-2 2.1 2 .3 1-.4 .3zM431.2 95l-2-1.5-2-2.6-.8-2.7 2.8 2.4 2.2 3.2-.2 1.2zM141.8 119.3l-1-.3-1.6 .5-1-.5-2.5-3.2 .5-1.7-3-2.4-.5 .5 .3 4.6-1.8 .2-4.4-2.9-2.6 .4-1.4 .8-2.2-1.1-3.5-3.4 .1-8.8 4 3.6 .3 1.2-.8 1 3.1 3 .5-.6-.8-2.4 .3-2.1 1 .3 4 3.4 1 0 .4-.6-2.2-5 3.2-1.5-.1-1.5 .9-1-3.9-6-.4-2 1.1-3.1 1 .3 3.1 3.2 .3 1-.6 1.6 .5 1.4 1.8 2.6 .7 3 1.2 1.6 2.4 2.3 1-.8 1 .2 2.7 3.1-.1 1-.6 .1-2.9-1.1 .5 2.6-.6 0-4-3.7-1.5 .1 .4 1.6 2.1 2.3 2.9 5.1 2.2 2.6-.5 .5zM150.2 93.3l-2.4-2.4-1.1-1.7 .2-.4 2.3 1.8 1.6 2.2-.6 .5zM442.8 92.2l-3-1.7-.6-1.5 2.6 1 1 2.2zM287.2 90.8l-.5-.6 .5-.5 .6 .5-.6 .6zM321.8 96.3l-1.3-.5-2.9-3.6-.6-1.4 .2-1.1 2 .9 1.7 1.6 .9 4.1zM210.2 96.5l-1-.1-3.4-2.2-1.6 .8-.6-.2-.8-1.6 .4-3 1-.1 2 1.4 3.8 3.7 .2 1.3zM214.8 93.3l-1 .2-1.6-.7-.5-2 1.1-.3 1.4 .7 .7 1-.1 1.1zM410.2 100.8l-1.2-.6-1.4-2 1.4-2-1.1-2.4-1.1-1.5-2.2-.5-.6-1 .2-.5 2 1.9 2 .3 4.2 4.7 .6 1.6-.2 1-2.6 1zM287.2 104.5l-4.4-4.5-3.7-1.8-3.9-3.5-.2 .5 1.4 3.6-.2 1.4-1-.2-4.1-6.2-.3-1.7 1.4-.2 1-.8 2.7 .1 8.6 7 1.4 2 1.3 4.3zM437.2 94.5l-1-.1-1.2-1.2-.8-1.9 .7-.1 2.1 2 .2 1.3zM122.8 96.4l-3-2.5-1.2-1.7 .2-.7 1.1 .3 2.3 2.3 .9 1.7-.3 .6zM159.2 96.8l-1.4 .1-2.7-1.7-1-1.4 .1-1.2 .6-.4 1 .3 2.7 2.7 .7 1.6zM195.2 106.3l-1.4-.4-2.3-2.1-1.7-3.7-3.6-3.2-2.1-3.7 .5-1 1.2-.1 5 3.5 4.6 9.6-.2 1.1zM304.2 93l-.2-.2 .2 .2zM488.8 99.3l-1-.3-3.8-3.8-1.2-2.5 1.4-.1 2.3 2.2 1.9 2.4 .4 2.1zM207.2 102.8l-1.4-.4-4-3.5-1.4-5.1 .8 .2 3 3.1 2.7 3.7 .3 2zM485.8 102.3l-5.6-4.4-1.6-2.7 .2-1.5 1.4 .3 4.6 5.1 1.5 2.7-.5 .5zM544.2 95.7l-1.3-1.9 1.3 .8 0 1.1zM540.9 104.8l.9-1.6-4.3-5.4-3.7-3.2-2.6 .1 7.3 9.1 2.4 1zM433.8 112.2l-7.6-8.5-.7 1.1-.7 .1-5-3.5-.5 .4 .6 2.4-.7 .2-4.8-9.2 4.8 4.2 4 2 .5-.2-.3-1-1.5-2.4 1.9 .7 3.2 4.3 3.2 2.4 1.6 1.9 2.1 3.7-.1 1.4zM434.2 102.8l-2.1-1-4.3-4.3-.7-.7 .1-1 1 .2 3 2.8 1-.6 1 .4 1.3 2.6-.3 1.6zM198.8 101.8l-1 .4-1-.4-1.2-2 0-1.6 1.2-1.6 1 0 .6 .6 .4 4.6zM293.2 100.2l-1.6-1.4 .2-1.1 1.6 1.1-.2 1.4zM165.8 102l-1.8-.8-1.2-2.5 1-.1 .7 .6 1.4 2-.1 .8zM474.8 100.8l-1.6-2.1 1-.1 .7 .6 .4 1-.5 .6zM557.8 107.5l-1.6-.5-2-2.8 .2-2-2.2-3 .2-.4 2.5 2 .7 2 2.3 3-.1 1.7zM233.8 105.8l-5.6-2.5-.7-1.5 .2-1 3.5-1.3 1 .5 2.2 2.8-.6 3zM499.2 103.8l-2.4-1.3-1.6-1.7 0-.8 2 1 2.2 2.2-.2 .6zM157.2 102.5l-.4-.5 .4 .5zM195.8 124.3l-3.3-1.5-4.7-6.8-.6 0-.2 .8 1 3-.8 .5-3.1-1.5-4.9-4.7-.6 .1 .4 2.6-.9 .4-5.7-7-3.2-1.6-1.4 .2-.6-.4 .5-3.2 1.1-.1 4 1.7 .1-1.6-.9-1.4 .2-.5 .6 .3 2.3 2.2 3.9 6 3.1 3 2 1 .2-.6-1.3-2-7.6-7.4-.2-1.6 1.7 0 2.6 2.6 4.6 6 1.1 .2 1-.4 2.6 3.3 1.4 .6 2-.6 3.3 2.3 .9 1.6-.9 2 .8 2-.5 .5zM283.8 106.8l-1.6-.3-1.1-1.3-.3-1.4 .4-.1 1 .8 1.6 1.6 0 .7zM395.8 112.3l-1.8-1.1-4.8-5.8 0-.7 4 2.3 .6-.2-1-2.9 3 2.2 1.3 2.1-.1 .6-1.2-.1-.3 .5 .3 3.1zM457.8 109.9l-5.6-3.9-1.1-1.2 .1-1 4.6 1.7 2.1 3.3-.1 1.1zM477.2 108.4l-1 .2-2.1-1.4-2.3-2.8 4.1 1.4 1.5 1.4-.2 1.2zM449.8 109.3l-1 .1-2.3-2.2-.9-1.4 .1-1 2.3 1.4 1.8 3.1zM513.8 106.7l-1.7-1.5 .1-.9 1.7 1.5-.1 .9zM520.2 133.8l-6.4-4.8-2.8-3.2-7.5-7-1.1-4-2.6-3.6-.7 0 .1 3.6-1 .1-2-1-1-2.7 1.2-2-1.3-2.4 .1-1.1 1-.6 1 .4 4 4.1 1.4 3.2 2.4 3.4 3.9 2.6 3.1 3 .4 1-1.2 1 .4 1 4.2 4.2 1.4 .7 .6-1.7 1 .6 2 4.6-.6 .6zM221.8 110.3l-1.7-1.5-.3-3.3 1.2 .7 .9 1.6 .4 2-.5 .5zM314.8 106.3l-.3-.5 .3 .5zM441.8 107.8l-1.4-2 .9 .4 .8 1.6-.3 0zM503.8 109.7l-2-1.8-1-2.1 1 .3 2 2.5 0 1.1zM486.8 109.9l-1 0-1.2-1.1-.6-1.6 .8-1.2 1 0 1.1 1.2 .6 1.6-.7 1.1zM416.8 107.3l-.5-.5 .5-.3 .4 .3-.4 .5zM487.2 115.4l-1-.4-4.7-4.8-1.7-3.5 1.1 .1 3.6 3.4 2.4 3 .7 1.6-.4 .6zM576.2 109.5l-1-.3-1.5-2 .2-.4 2.1 1.4 .2 1.3zM208.2 109.8l-2.4-2.9 2.2 1.3 .6 1.6-.4 0zM303.8 112.8l-1 .1-1.2-1.1-.2-4 1.9 1.4 .5 3.6zM566.8 115.3l-1.6 .2-1.2-.7-2.4-3.6-.7-3 .9 .3 3.7 3.7 1.4 2-.1 1.1zM243.8 108.9l-.6-.4 .6-.2 0 .6zM287.8 115.2l-5.7-4-1.6-2 1.3-.1 4.6 3.1 1.6 2-.2 1zM450.2 116.3l-1 .1-3.4-1.9-1.2-1.3-1.8-4 1 .3 3.4 3.4 2 .6 1.2 1.3-.2 1.5zM526.8 131.3l-1-.3-1.7-2.2-1.5-3-.7-3-4.4-5.6-2.1-1.4-.2 .4 1.7 2.6-1.7 .1-5.3-4.7-1.7-.2-2.1-2.8 .7-2 1.4 .4 3 2.3 2-.2 1.6 .9 8 7.8 2 .6 3-1 1.2 .8 1.1 3 3.8 4.4 .5 2-.6 .2-4-4.4-2-1.1-.6 2.2-2.4-1.4-.6 .5 2.7 4-.1 1.1zM531.2 119.4l-4.4-3.8-4-1.2-4.2-3.2-.6-1 1.2 0 1-1.2 1.6 .7 3.3 3.5 4.7 2.4 1.6 2.6 .3 1-.5 .2zM310.2 112.5l-1.4-.6 0-1.2 1.2 .5 .2 1.3zM171.8 114.6l-1.8-.8-.6-1.6 1.4 .8 1 1.6zM456.8 114.2l-1.2-1 .2-.9 1.1 .9-.1 1zM327.2 130.5l-2.4-.8-.8 .5-1.2-2.2-3.6-.6-5-3.9-2.6-3.3-3.4-6.9 .6-.2 2.4 1.9 5.4 5.8 2.2 .6 3.4 4.1 1 .3 1-.6 1.6 .8 1.6 2.8-.2 1.7zM441.2 118.3l-2.6-3.1-.4-2 1 .3 2.2 2.3 .4 2-.6 .5zM224.8 116.5l-1.8-1.3-.8-1.5 .6-.2 1 .6 1 1.7 0 .7zM430.2 127.3l-2-.1-6.6-9.4-1.1-2 .7-2.1 3-.2 1.6 .6 3.1 3.7 2.9 5-2.2 0-3.1-4.6-.7-.5-.6 .5 4.7 7.6 .3 1.5zM541.8 120.7l-3.2-4.9 .2-1.6 1.6 0 2 2.6-.6 3.9zM396.8 115.3l-.3-.5 .3 .5zM576.2 125.8l-1.6-1-4.8-10.1 1-.1 1.4 .9 4.2 4.7-.2 5.6zM395.2 117l-.2-.2 .2 .2zM421.2 121l-3-2.6-.7-1.6 .3-.5 2.4 2.3 1.1 1.6-.1 .8zM320.8 121.8l-2-1.3-.6-2.8 1.6-.6 1.1 .7 .4 3.4-.5 .6zM554.2 131.3l-3.2-3.1-.9-2-3.5-3.4-.5-1.6 1.4-1-1.6-3 1.9 .8 4 3.2 1 1.6-2 1.8-.4 1.6 3.4 3.4 .8 1.6-.4 .1zM395.8 128.5l-1.6-.5-3.6-4.2 0-1.6 1-1-1.4-3 .6-.2 1 .6 2.6 3.6 1.4 6.3zM487.2 122.9l-1 0-1-.7-1.6-2-.4-1.5 1-.1 2.8 2.6 .6 1-.4 .7zM118.8 120.8l-1.3-1.6 1.3 1 0 .6zM261.8 121.3l-1.2-1.1 .2-.9 1.5 1.5-.5 .5zM458.2 124.3l-1-.4-1.6-2.7 .2-1.5 1 .3 1.6 2.2-.2 2.1zM467.8 125.8l-1 .1-4-2.6-2.2-2.5-.4-1.4 3.6 3.6 .4 0 .3-.8-.7-2.4 1.6 .4 1.5 2.6 .9 3zM478.2 130.5l-4-1.1-1-1-1.8-3.6 .1-2.6-1.3-2 0-.9 1.7 2.5 4.9 3.6 1.1 2.4 .3 2.7zM163.2 122l-.5-.2-.5-1.7 1.1 1.1-.1 .8zM183.8 121l-.6-.5 .6 .5zM131.2 125.5l-1.1-.3-1.9-2.3-.7-1.7 .3-.4 3 2.3 .6 1.1-.2 1.3zM312.2 135.3l-1-.3-2-2.1-4.6-7.1-.1-1 1.3-.6-1-3 1-.1 1 1 3.1 4.7 .7 3 4.3 4-.1 1-1.6-.5-1 1zM374.2 122.2l-.9-1 .9 0 0 1zM370.2 124.3l-2.2-2.5 1.2-.2 .8 .6 .8 1.6-.6 .5zM487.2 126.8l-3-2.9-.7-1.7 1.3 .2 2.4 2.7 .6 1.1-.6 .6zM192.8 128.3l-1.7-1.1-1.3-4.2 2.6 2.2 1 2-.6 1.1zM227.8 124.9l-2-1.7 1.4 .3 .7 .7-.1 .7zM518.2 124.7l-1.4-1.5 1.1 0 .6 1-.3 .5zM173.8 127l-2-1.6-.4-1.6 2.4 1.8 0 1.4zM435.2 125.8l-1.8-2 1.8-.5 .5 .5 .1 1.4-.6 .6zM288.2 124.8l-.4-.8 .5 .2-.1 .6zM146.2 128.5l-2.1-.7-2.6-3 .7-.2 2.7 1.6 1.5 1.6-.2 .7zM428.8 131.8l-2-.2-7-6.8 1.4-.2 2.2 1.2 4.6 4 .8 2zM478.8 126.1l-1.8-1.3 .2-.5 1.6 1.8zM138.8 127.1l-2.4-1.9 1.5 .6 .9 1.3zM180.8 125.3l0-.4 0 .4zM403.8 128.8l-1 .1-2.2-1.1-1.4-2.6 2.2 .6 2.4 3zM247.8 130.3l-1 .1-1.6-1.5-1.1-2.1 .1-1.1 1 .3 1.6 1.6 1 2.7zM560.2 128.4l-1.1-.6-.3-2 .4-.1 1.2 1.5-.2 1.2zM568.2 129.2l-3-2.3 0-1.6 2.6 2.3 .4 1.6zM151.2 130.9l-2.6-2.7-.4-2 1-.1 1.3 1.1 1.2 3.6-.5 .1zM211.8 131.8l-2-.4-1.6-1.5-1.1-2.1 .1-1.6 1 .3 2.6 2.6 1.1 1.7-.1 1zM153.8 129.2l-2.8-2 .2-.6 1-.1 1.3 1.3 .3 1.4zM268.8 134.9l-1.6-.9-3.4-4.1-1.2-2.1 .2-1.2 1-.1 1.4 1.6 3.2 4.7 .7 1.4-.3 .7zM205.2 127.9l-.5-.1 .1-1 .6 .4-.2 .7zM508.8 154.3l-1.6-.4-3.4-2.9-4.3-5.8-4-3.4-1.4-2.6-.2-2-1.7-2.2-2.4-1.4-2-.2-2-1.8-1.5-.4 .8 2.6 2.7 2.8 1.5 2.6-.2 .6-.9-.3-2.7-3.7-2.5-2-1.4-2-1.4-4.6 3-.3 3.6 3 2.4 .2 3.6 1.4 2.4 2.6 3.2 4.7-.7 2 .9 1.4 10.2 9.9 .6 1.1-.6 1.1zM173.8 133.3l-2.6-1.2-1.2-1.3-1.2-3 1 .2 4.2 4.2 .2 .9-.4 .2zM195.2 135.8l-4 .1-1-.5-4-3.4-2-2.8 1-.1 2.6 2.3 1 .1-.3-3.3 .7-.5 4 3.4 1.7 2.7 .3 2zM270.8 132l-2.7-2.2-.3-2.1 2.4-.1 1 1-.4 3.4zM408.8 133.8l-1.3 0-1.7-1.7-.6-4.4 1 .3 2.7 2.8-.1 3zM371.8 136.4l-1.2-.2-3.5-3.4 .1-.6 1-.1 1.6 .9-2.1-3.2 .5-.6 1 .3 .6-1.3 2.1 1 2.2 2.6-.3 .9-1 0-.5 .5 .5 2.6-1 .6zM501.2 131l-2.1-1.2-.9-1.6 1.6 .3 1.4 2.5zM167.2 131.5l-3-1.1-1-1.6 1-.3 1.6 .6 1.4 2.4zM205.2 132.3l-2.2-1.5-.8-2.1 1-.1 1.6 1 .7 1.6-.3 1.1zM419.8 130.5l-.9-1.3 1 .6 .3 .4-.4 .3zM440.8 133.1l-1.6-.6-3-3.5 2 1 2.6 3.1zM145.8 133.3l-3.3-3.5 .9 0 2.1 2 .6 1.4-.3 .1zM403.8 142.8l-1.6-.3-3.7-4.7 1-2.6-1.8-4 3.5-1.6 2 .9 3.4 3.3 .7 1.4-.5 .6-3.6-1.7-.3 2.1-1.4 1 2.3 5.6zM576.2 137.5l-5.2-5.3-1.2-2.4 2.1 1 2.3 2.5 1-.4 1.1 .3-.1 4.3zM277.8 133.8l-1 .1-1.7-1.1-1-1-.1-1 1.9 0 1.9 3zM431.2 139.4l-3.4-.5-3.3-2.7-.3-1.2 2 .2-1.6-3 .2-1 1 .2 5 5.2 .9 2.2-.5 .6zM560.8 144.3l-1.6-.1-4.8-6-1.6 0-2-1.3-2.7-3.7 .7-1.8 5.5 2.8 2.3 4.6 3.9 4.4 .3 1.1zM184.2 137.8l-2.1-2-1.7-3.6 .8 .4 2.7 3.2 .9 1.4-.6 .6zM480.8 141.5l-1.8-1.3-1.9-3-2.9-2.8-1-1.6 .2-.6 1.6 1 1.9 3 2.9 2.9 1 1.7 0 .7zM175.2 138.3l-1 .1-1.4-.9-3.2-3.7-.1-1 1.7-.3 3.7 4.3 .3 1.5zM243.8 140.3l-1.6-.4-1.7-1.7-4.3-4.8 0-1.1 7.3 6.5 .3 1.5zM567.8 135.8l-1-.3-1.2-1.7 0-1 .6-.5 1.7 1.9-.1 1.6zM157.2 139.4l-1.6-1.6-1.8-4.6 3.2 2 .7 4-.5 .2zM232.8 144.8l-1.2 0-3.8-3.9-4.2-6.1 .1-1 3.1 .3 4 4 .7 1.7 .1 2.4 1.2 2.6zM446.2 136.8l-2.4-1.9 .3-1.1 1.3 .4 1 1.6-.2 1zM534.2 134.3l-.5-.5 .5-.5 .4 .9-.4 .1zM565.8 142.8l-5.2-6-1-2 .2-1.1 1.2 .5 2.9 3.6 2.4 4.4-.5 .6zM510.8 146.3l-2.6-.9-1.7-1.6-5.4-7-.9-2.6 1.2 0 6.1 5.6 2.9 4.4 .6 1.6-.2 .5zM435.2 148.8l-1 .1-4.8-4.1-2.2-.8-7.2-6.8-.9-1.4 .1-1 1 .2 6.9 6.2 2.1 .9 4.6 3.4 1.6 2.3-.2 1zM485.8 153.5l-2.4-1.7-4.6-7.2-6.6-7.7 .2-.7 .8 .3 3.6 4 4 3.1 1.6 2.2 3.5 7-.1 .7zM221.8 145.3l-4.7-5.1-1.5-2.4 .2-1.1 1.2 .5 4.4 5 .9 2.6-.5 .5zM416.8 139.8l-1 .1-1.6-1.4-.6-.7 .2-1.1 2 .5 1 2.6zM272.2 138.3l-.5-.5 .5-.6 .6 .6-.6 .5zM239.2 140.8l-1.4-.8-2-2.2 1-.2 2 1.4 1 1.2-.6 .6zM132.9 140.8l-1.7-1.7-.9 .1 1.5 1.7 1.1-.1zM441.2 144.9l-1.4 0-1.8-1.7-1.9-3 .1-1 2 .4 1.8 1.6 1.4 2.6-.2 1.1zM373.8 151.7l-1.6-1.3-1.3-3.2-3.8-4.4-.6-2 .7-1 2.2 1.4 1 2 .2 2 3.3 5.6-.1 .9zM224.8 143.3l-1.2-.5-.6-1.6 .2-.9 1.2 .9 .4 2.1zM181.8 144.3l-2-1.4-.6-1.9 1.6 .6 1.1 1.6-.1 1.1zM425.8 149.3l-1-.3-3.2-2.8-.1-2.4 .7-2.6 1 .3 2.7 2.7 .5 2-.6 3.1zM539.2 143.9l-1.1-.7-.2-1.4 1.5 1-.2 1.1zM483.2 154l-1-.1-1.7-1.7-2.3-3.3-5-5-.4-1.6 1 .2 3.4 4.7 5.9 5 .1 1.8zM536.2 144.3l-1.4-.3-1.2-1.2 .2-.8 1.4 .5 1 1.8zM534.8 146.9l-1.6-.9-2.8-3.2 3.4 1.7 1.1 1.3 .3 1-.4 .1zM255.2 147.3l-1 .1-.7-.6-1.7-3.6 1-.1 1.7 1.7 .9 1.4-.2 1.1zM276.8 148l-1.8-.8-2.7-4 .9-.1 1.8 1.7 1.9 2.4-.1 .8zM208.1 146.2l-.3-1.1-1.3-.9 .7 1.7 .9 .3zM259.8 147.8l-.6 .1-1.4-1.5-.9-2.2 1.3 .9 1.6 2.7zM497.8 147.3l-2.2-2.1 .1-1 1.7 1 .9 1.6-.5 .5zM322.8 155l-1-.1-3.6-2.9-4-4.1-.4-1.6 1.6 .5 4.8 4.2 2.7 3.2-.1 .8zM159.2 151.5l-3-1.9-1.6-.4-1.4-1.8 4 .7 1.7 1.7 .3 1.7zM169.2 156.7l-5-4.8-2.6-3.7 .2-1 1.2 .6 4.8 5.3 1.6 2.7-.2 .9zM224.8 151.9l-2.1-1.1-1.1-1.6 .2-.7 1 .1 1.7 1.6 .6 1-.3 .7zM258.8 156.8l-1.6-.4-2.2-1.6-4.2-5.4 0-.7 1 0 1.8 2.5 4.4 3.6 .9 1-.1 1zM138.6 154.2l.2-.4-1.4-2.6-2.6-2.4 0 1.6 3 3.6 .8 .2zM434.2 155.5l-1 0-1.1-1.3-1.5-3 .2-1 1.4 .4 2.2 2.2 .9 1.4-1.1 1.3zM443.2 159l-2.4-2-1.2-1.8-1.5-4 .7-1 5 3.8 .4 .2 1-1 3.2 2.6 .4 1-.6 .2-2.4-1-.6 1.3-1.5-.1-.5 1.8zM316 169.2l-3.2-4.6-8.4-8.8-2.4-3.6-1.2-1.2-1 .1-.2 1.7 5.8 7.4 1.8 4.6 4 2.6 4 2 .8-.2zM398.2 157l-1.4-.6-1.6-1.5-1.1-1.7 .1-1.5 1.6 .5 2.1 3 .3 1.8zM504.8 156.4l-3.8-2.6-.7-2 1.6 .4 2.6 2.6 .6 1-.3 .6zM516.2 157.8l-1-.4-1.6-2.2-1.6-3.4 1.8 .3 1.4 1.5 1.2 3.2-.2 1zM365.8 159.2l.1-1.4-2.7-3.8-3-1.2-1 .4 .6 1.6 6 4.4zM316.8 155.3l-1.6-1.9 1.6 1.4 0 .5zM291.2 155.7l-1-1.8 .6-.1 .4 .8 0 1.1zM476.8 159l-.6 .2-1-.8-2.1-3.2 .1-.7 2 .6 2 2 .2 1.1-.6 .8zM529.8 161.3l-3.7-3.1-1.1-2 .2-1.5 1.6 .4 1.6 1.7 1.9 4-.5 .5zM187 156.2l-1.2-1.2 1.2 1.2zM569.8 157.5l-1.6-1.1-.2-1.2 1.2 .4 .6 1.9zM304.2 156.8l-.4 .1-.6-.7 .6-.1 .4 .7zM154.3 160.8l.1-1-2-2-3.6-1.3 .3 1.7 2.5 2.6 2.7 0zM422.8 163.3l-1-.3-3.6-4.1-.6-1.1 .5-1 1.1-.2 1.2 .6 2.4 2.9 0 3.2zM195 167.8l-.5-2.6 .9-2.4-.9-1.6-2.7-2.4-.2 2 2 6 .6 1 .8 0zM487.8 167.3l-1.6-.8-3.6-5.7 .2-1.6 1 .4 .8 2.2 3.7 5-.5 .5zM516.8 162.8l-.7 0-1.5-1.6-.4-2 1 .3 1.6 1.6 0 1.7zM256.8 164.2l.2-2-.8-1.2-1.4-.9-2 .1 2.2 3.6 .8 .6 1-.2zM151.4 165.2l.9-1-.4-1.4-2.5-1.6 1.3 4 .7 0zM458.8 176.5l-2-1-4.7-4.7-2-4-1.3-5.5 .4-.1 1.2 1.6 1.7 5 6.1 6.8 .6 1.9zM190.3 166.8l.1-1-3.2-3.8-2.4-.4-1 .5 .3 2.1 1.5 1.6 4.7 1zM433.8 168.8l-1-.3-2.7-3.3-.7-2.4 .8-1.1 2 .8 3.7 4.3-.1 .7-1.6 .2-.4 1.1zM546.2 162l-.4 .2 0-.9 .4 .7zM526.2 172.9l-1-.5-1.1-2.2-.1-3-1.1-4.4 3.6 1.4 2.9 6-.2 2.1-3 .6zM172 170.2l-2.5-3.4-1.7-1.8-1-.3-.3 1.1 .5 1 3.2 3.1 1.8 .3zM307 177.8l-.6-2-4.3-5.6-.9-3.2-1.4-1.4-2-.9 .3 2.1 1.8 2 2.7 5.4 3.2 3.3 1.2 .3zM253.2 168.8l-.2-1-2.2-2.3-1.7-.3-.3 .6 1.3 2 3.1 1zM247.4 168.2l-1.2-1.7-1.3-.7 1.3 2.2 1.2 .2zM485.2 167.8l-1.1-.6-.3-1 1.7 .6 .4 .4-.7 .6zM562.8 166.7l0-.9 0 .9zM503.2 178.1l-3-1.2-2.5-2.1-3.1-3.6-.8-2 0-1.5 1-.1 2.2 2.2 2.2 3.6 3.8 3.8 .2 .9zM552.8 187.3l-2.7-2.5-3.9-2.2-2.4 .1-.6 1.5-4.7-4.4-.7-1.4 2 .4 .1-2-4.8-7.6-.3-1.4 .4-.1 2.6 1.7 3 .4 .8 3.4 5.2 5.4 3.6 5.6 2.4 2.6 0 .5zM166.3 171.8l.1-1-1-1.6-1.5-1 .7 2.6 1.7 1zM515.2 169.7l-.8-1.5 .9 .6-.1 .9zM548.8 170.8l-1 .1-2.5-1.1-.1-.6 1.6-1 2 2.6zM458.2 186.9l-2.7-2.1-1.4-2-.5-1 .4-2.6-1.1-3.4-4.7-4.9-1.2-.7-.2-.9 6.2 3.9 2.4 2.6 4.9 8.4-2.1-.2 0 2.9zM192.8 176.2l-.3-1-3.1-2.4-1.4-2-1.3-.6 .3 1 4.5 4.6 1.3 .4zM443.2 175.3l-3.7-5.1 3.3 2.9 .8 2.1-.4 .1zM447.8 173.7l-3-2.2-.6-1.4 2.3 .7 1.4 2-.1 .9zM562.2 172l-1.6-1.2 .2-1 1.4 1.3 0 .9zM575.8 172.8l-.6 .2-1.2-.8-.3-1.4 1.3 .4 .8 1.6zM207.7 181.8l-.3-2-.9-1.6-1.3-1.1-2.6-.9-4.8-4.7-.1 .7 4.3 8 1.8 1.6 1.4-.9 2.5 .9zM562.2 183.9l-2-.5-5.4-3.9-4.9-6.7 6.9 5.6 1.4 .6 2-.4 2 1.6 1.5 2.6-1.5 1.1zM207.3 175.8l.1-1-.6-.8-1.6-.3 .8 1.5 1.3 .6zM421.8 183.2l-1.8-3-2.8-2.2-3.4-4-1-.5-1.1 .3 .3 1 8.2 8.2 1.6 .2zM186.9 182.8l-.5-2.6-2.2-1.8-2.4-3.8-.9-.4-.2 .6 1.3 1.4 1.1 3-.1 .6-.8 .1-2.4-1.6-.4 .5 .7 1.4 1.7 1.2 2-.2 2.4 1.9 .7-.3zM188.1 177.2l-.3-1.6-1.9-1.4 1.3 2.7 .9 .3zM265.8 175.2l-1-1.1-1 .1 1 1.2 1 .2 0-.4zM274.3 180.2l-.3-1-2.2-1.7-2-2.5-1.6-.8 0 1.2 4.3 4.4 .7 .6 1.1-.2zM421.8 179.8l.1-1-1.1-1.7-3-2.6-.2 .7 1.6 2.7 1.6 1.6 1 .3zM489.8 177.3l-1-.4-1.1-1.7 .2-.4 1.9 1.3 0 1.2zM527.2 177.8l-1 .1-.6-.7-.6-1.4 .2-1.1 1.1 .1 1.1 2-.2 1zM262 189.2l.8-1-3.2-4-.6-2 1.2-.1 3 2.1 0-1.6-1.4-1.5-3-1.6-4.6-4.3-2 1-.1 1.6 4.7 4.4 3.4 6.7 1 .6 .8-.3zM571.8 178.4l-2.1-2.6 .1-.8 .6 .2 1.4 2 .4 1-.4 .2zM536.8 177.3l-1 0-.8-1.5 1.8 1.5zM465.8 179.4l-2.5-2.6 .9-.2 1.3 1.2 .7 1.4-.4 .2zM241.5 198.2l-3.4-7.4 .7-.2 3 1.8 1-.1-1.2-2.5-.1-2-2.3-2.2-2 .3-5-3.8-1-.5-1.4 .2-4.6-4.3-.8-.3 1.7 3.6 3.9 4.4 .2 3.6-4-1.3-1.5 .3-.1 1 1.6 2.6 1.6 1 3.4 .7 5 4.3 5.3 .8zM525.2 184.8l-1 .2-1.4-.6-3-2.8-1 .1-.6 1.1-.6 0-2.5-3-.3-2.3 2 .6 6.4 4 1.8 1.7 .2 1zM534.8 183.3l-2.2-2.1 .2-2.5 1-.1 1.1 1.2-.3 2 .5 1.4-.3 .1zM576.2 184.5l-3.3-4.7 3.5 3-.2 1.7zM446.9 186.2l-.5-1.4-3.2-4-.1 1 2 3.4 1.1 1.2 .7-.2zM513.8 185.1l-1.7-1.9-.3-2 1-.1 .6 .7 .5 1-.1 2.3zM225.4 196.2l0-1-1.3-2-.7-4-2.2-2.7-5-3.1-.4 .4 .4 1.1 5.6 6.2 2.2 4.7 .8 .6 .6-.2zM433.6 185.2l.2-.6-1.6-1.3 0 1.1 1.4 .8zM502.1 185.8l.2-.6-.9-1-1.1 0 1.8 1.6zM442.7 188.8l-1.5-2.3-2-1.3-.2 1 .8 1.3 2 1.4 .9-.1zM574.2 188.3l-2.2-2.5 2.3 2-.1 .5zM478.7 193.8l-1.3-3-1.2-1.3-3.4-2.4-1.6-.3 .4 1.4 2 2.6 5.1 3zM515 192.2l-.1-1-1.1-1.1-6.4-3.3 .7 1.4 4 3 2.1 1.2 .8-.2zM576.2 197l-5.2-3.2-.3-.6 .7-1 0-1.4-2.2-4.1 1.6 .1 1.1 1.4 .2 2 4.3 4.6-.2 2.2zM128.3 189.8l-1.1-1.8-2-1.2-.1 1 1.1 1.2 2.1 .8zM265.9 188.8l0-1-1.1-.8 .4 1.8 .7 0zM562.2 189l-1-.6-.3-1.2 1.3 .9 0 .9zM221.6 197.2l-.7-2.4-1.9-2.6-5.2-4.2-1-.2 .3 2 2.4 3.4 6.1 4zM209.7 191.8l-.8-2-1.7-1.8-.1 1.2 1 2 1.1 .9 .5-.3zM435 192.8l-.6-2-1.6-1.8-2.8-.8 .1 1 2.1 2.3 2 1.4 .8-.1zM453.2 191.2l.1-.4-1.1-1.8-1.7-.2 1.1 2 1.6 .4zM576.2 191.2l-.9-1.4 1 .4-.1 1zM258.9 205.2l.2-1-1.3-2.1-3-1.7-1.7-1.6-.4-1.6 1.5-.4-.2-.6-3.8-4.5-2.9-1.5 .3 1.6 2.3 3.4-.7 1.2-1.4-.1-.2 .5 3.5 3 3.7 2.2 2.8 3.2 1.3 0zM259.3 190.8l-.5-.3 .5 .3zM485.5 193.8l-.5-1.6-2.1-1.4-.2 .4 1.3 2 1.2 1 .3-.4zM560.8 191.3l-.6-.8 .6 .3 0 .5zM284.9 199.2l-.1-1-2-1.8-2.3-3.6-1.3-1.2-1.4-.4-.2 1 2.9 4 3.3 3.3 1.1-.3zM519 193.2l-.8-1.2-1-.1 1 1.5 .6 .3 .2-.5zM287.6 196.8l-1.7-3.6-1-.4-.2 .4 1.4 2.6 1.5 1zM175.6 194.2l-.6-.4 .6 .4zM467.2 202.2l-.2-1-5-6-1.8-1.6-1.1 .2-.5 2 1.8 3 1.8 1.6 5 1.8zM143.3 209.8l1-2.6-1.7-3 1.6 .2 .2-1.2-2.2-2.1-2-.6-4.8-4.7-1.2-.2-.3 .6 3 5.6-.1 1.5-1.6-.8-3.4-3.3-3 1.7-1 0-6.6-6.4-1-.3-.1 4 2.5 5 3.2 3.7 1 .4 .2-.5-1.8-4 .6-.3 4.4 3.9 3.6 1 3.4-.8 2.6 1.8 3.5 1.4zM553.8 196.3l-1.6-1.4 0-.7 1.1 0 1 1.6-.5 .5zM576.2 210.5l-1.2-.7-3.8-4.7-2-.1-1 1-.7-.2-2.3-3.7-5-5.7-.9-2.2 .5-.4 1.1 .4 4.9 5.8 2 1.4 2.4 .7 2.6 2.1 0-1.1-5-5.2-1.1-2.1 1.1-.2 5.4 2.7 1.6-.6 1.4 1 0 11.8zM148.3 201.8l.1-1.6-2.2-3.6-2-1.5-1.4-.4-.5 1.5 .5 1.2 4.3 4.4 1.2 0zM442.1 199.2l-.2-1.4-1.5-1 .2 1.4 1.5 1zM426.9 197.8l-.4-.6-.2 .6 .6 0zM548.5 211.8l1.7-1-.6-2-2.5-3-.3-2.5 1.4-.1 .1-.4-.9-1.6-2.2-1.6-2-.2-4.4-2.2 .3 2 4.8 6 .1 1.6-1 1.4 .6 2.6 1.2 1 3.7 0zM188.3 203.8l-.5-1.7-3.3-3.3-1.7-1.1-.6 .1 .9 2.4 2.9 3 1.2 .8 1.1-.2zM456.3 199.2l-.3-1-.8-.2 0 1.2 1.1 0zM437.7 199.2l-1.5-.7 .6 .8 .9-.1zM493 201.8l-2.8-2.8 2.8 2.8zM475.8 203.2l.1-1-.7-.7-1.4-1.4-1.5-.3-.1 .4 1.3 2 2.3 1zM451.4 200.2l-.6 0 .6 0zM511.2 206.9l-2.6-2.1-2-3 .2-1.4 3.6 3.8 1.2 2-.4 .7zM529.3 209.2l-.4-2.4-2.1-2.8-2-1.4-3.9-1.4 2.3 3.3 5 4.5 1.1 .2zM195.4 206.2l-1.4-2.4-1.8-1.8-1 .1-.4 1.1 .8 1.6 2.6 1.6 1.2-.2zM517.3 238.8l-1.3-2.6-8.2-8.8-.5-3.2 .9-.2 6 5.5 5 5.9 1 .1 .8-.7-1-2 .2-.7 8 4.9 .6-.2-.3-1-3.3-2.3-6-6.7 0-.8 .6 .1 4.4 2.5 5 5.4 2 .8-.3-1.6-6.7-9.2-3.4-3.4-1.6 0-1.4 .8-1-.4-1.2-1.2-1.1-3.6-9.7-7.2-2.6-3.9-3-3-.7 .1 .2 2-1 2 3.5 3.9 3 5.3 3 2.1 .8-.7-.2-2.6 2.1 .6 4.5 5 .6 1.4-.2 2.1-1-.3-5-4.1-1 .1-1 1.8-.7 0-3.9-5.2-4-4.1-.8-.3 1.2 3.6 2.8 5 .4 2.4-8-9.7-3.6-2.4-2-.6-.1 1.3 1.9 3.4 1.8 1.7 2-.3 1.6 1.6 1.5 3-.4 2.6 .7 1.2 1.6 1.1 .4-.1 .6-1.3 1 .3 1.6 1.8 .7 3 1.1 1.2 4 1.1 3.9 2.1 1.7 1.7 1.7 3.3 .7 .7 1.1-.1zM484.8 204.2l-1-1.1-1.4-.3 1.4 1.6 1-.2zM469.4 209.8l.5-1-1-1.6-4.1-3.1-1.6 .5 0 1.3 3 3.1 1.6 .9 1.6-.1zM494.7 209.8l.1-.6-2.6-3.6-2-1.4-.2 1 .8 1.7 2.3 2.3 1.6 .6zM476 210.8l-1-2.6-2.1-2-.9 0 .1 1 2.4 3 1.5 .6zM541.5 217.8l-2-3-2.7-2-3.6-3.8-1-.2-1.3 2.4 1.9 2.8 1 .3 2-.7 4.8 4.2 .9 0zM576.2 227.5l-8-6.3-.7 .6 .3 1.5-1 .1-.8-.6-2.9-4-.9-2.7-5.1-5.3-.3-2.3 10.8 9.3 2.2 1.1 1.6-.1 .1-3.6 .7-.7 4.1 2.3-.1 1.7-2.1-.3 2.4 4-.3 5.3zM466 210.8l-1.2-1.4 1.2 1.4zM548.4 217.8l-1.9-3-1.3-1.2-2-.6-2.8-3.2 1.2 2 .4 2.4 3.2 1.4 2.6 2.3 .6-.1zM145.1 215.8l-.1-1-4.2-4.3-1-.4-1.1 .7-.1 1 1.6 2.2 1.6-.2 3.3 2zM445.7 217.8l-2.2-4 1.9-2.6-.4-1-.8-.3-4.4 1.3-.2 1 .9 1.6 4.7 4.1 .5-.1zM459.2 222.8l-.4-1.2-8.8-10.4-2.2-1.4 .3 1.4 3 4.6 4.9 6 2.2 1.3 1-.3zM520.8 210.2l-.6-.2 .6 .2zM478.1 216.8l.2-.6-1.5-2.6-1.6-.6 .6 1.9 2.3 1.9zM423.2 215.2l-2-1.9 .3 1.5 .7 .6 1-.2zM202.9 215.8l-.7-1.3-1-.1 1 1.5 .7-.1zM556.3 220.8l-2.4-5-1.5-1 1.7 4.4 1.1 1.6 1.1 0zM470.5 219.8l1.7-.5-1-1.8-2-.6-2.4-1.7-1 .4-.2 1.6 1.2 1.3 2.4 1.4 1.3-.1zM527.2 221.2l-.3-1.4-1.7-1.8-3-1.9-1.4-.2 1 2 2.4 2.6 2 1.1 1-.4zM275.6 219.8l-.6-.6 .6 .6zM199.8 224.8l-.6-2.2-1.4-1.9-2-1.2-.1 .7 2.1 3.7 2 .9zM448.3 222.2l-.9-1.4-.6 .1 .4 1.1 1.1 .2zM444.1 228.8l.1-1.8 1.6-.2-1.6-2.7-1.4-1.5-4-1.4-.2 1 2.6 4.2 2.9 2.4zM401.7 225.2l-2.8-2.4-.7 .1 1.6 2 1.9 .3zM559.5 224.8l-1.6-1.6 1.6 1.6zM491.4 229.8l.3-.6-.8-2.4-3.7-3.5-.1 1.5 1 2 2.1 2.7 1.2 .3zM443.3 240.2l-.4-1.4-2.3-3-1.2-3.6-3.2-5.6-2-1.5-4-.9 .6 1.3 2.1 1.3 2.9 2.8 1.7 2.2-.3 2.1 5 6 1.1 .3zM531.4 228.8l.5-1-.9-1.6-2.2-2.1-1.2 .1-.5 1 .9 1.6 2.8 2 .6 0zM158.2 251.2l-.3-1.4-2.8-4.6-1.2-3.4-4.1-5.6 .9-2.4-1-2.6 .1-.4 1 0 .1-1-2.7-3.3-1.5-.7-.5 1.2-1.4 .2 .3 2.6 1.1 2.1 3.3 3.9 2.1 5.4 2.4 3 .1 .6-1.9 .4-.1 1.6 1.1 1.5 3.6 2.6 1.4 .3zM181.1 238.2l.1-1.4 1.6 0 .2-.6-1.8-2.6-5-6-3 .6-.6 1.6 .6 1.1 7 7.1 .9 .2zM388 228.8l-.2-.3 .2 .3zM576.2 230.7l-1.1-.9 .1-1.3 1.2 .7-.2 1.5zM545 234.2l-3.8-4.2-1.4-.7 .3 1.5 2.1 2.2 2 1.3 .8-.1zM123.3 240.2l1.2-1-1.1-5-2.5-3-2.1-.5-.7 1.1 0 1.4 3.1 6.2 2.1 .8zM144 233.2l-1.8-2.2-1-.2 2 2.6 .6 .3 .2-.5zM479.6 244.8l.2-2.3 2 1.3 .2-.6-2.4-4-.7-2.4-1.7-1.8-2.2-.8 .3 2-.5 .6-3-2.2-2-.2-4.9-3.6 1.3 3.1 4.6 4.6 2.1 1.3 3.3 3.1 3.4 1.9zM135 245.8l-3.8-5.6 1.6-1.8 1.6-.2-1.2-2.1-1-1-2-.2-3-2.8-2-1-1 .1 .6 1.7 5.5 5.9-1.1 1-.4 2.1-2.6-.7 1.6 1.6 1.4-.3 3 1.1 2.8 2.2zM568.3 238.8l-2.1-3.8-3.8-3.8-1.4 0 .1 1 2.7 3.3 2.4 2.4 2.1 .9zM410.7 235.8l-.5-1.2-1.8-1.8-3.5-1 3.3 3.6 2 .8 .5-.4zM386.3 237.8l-4.1-4.3-2.5-1.3-.1 1 1.2 1.3 4 2.9 1.5 .4zM451.4 237.8l.5-.6-.1-1.1-3-3.1-1-.2 2.3 4.4 1.3 .6zM507.9 241.2l0-1.4-2.1-3.3-2.6-.6-3.8-3.1-.8 0 .5 2 3.1 3.2 4.6 3.4 1.1-.2zM557.9 240.8l-1.2-3.6 1.5-.4 .1-.6-2.1-3.2-1-.3-.2 .5 .8 3-3.6-2.1-1.5 .1 .1 1.2 3 3.1 3.4 2.4 .7-.1zM445.6 236.2l-.1-1-2.1-1.4 .6 1.4 1.6 1zM434.3 237.2l-3.1-3.2 1.6 2.4 1 .9 .5-.1zM167.8 251.8l-3-5.7-4.6-5.2-3-4.8-2-1.8-.1 1.5 1.5 3.4 2.8 2.6 2.8 5.6 2.9 2.8 2.1 1.6 .6 0zM458.1 237.2l-.9-1.4 0 1 .9 .4zM526.8 257.8l-.4-2-5.5-6-4.8-7-1.3-3.7-2.6-2-1.7-.3 3.3 6.1 6.8 6.9 .5 2.4 1.1 1.7 3.6 3.6 1 .3zM540.8 243.8l.1-1.6-.9-1.4-2.8-2.7-2-.4-.1 1.1 .9 1.4 3.1 3 1.7 .6zM547.3 242.8l-1.4-2-.9 0 1.8 2 .5 0zM525.8 246.2l-.9-4-2.1-1-.2 1 1.5 3 1.7 1zM497.8 242.8l-1.6-1.5-.2 .5 .6 1 1.2 .3 0-.3zM573.4 243.8l-2.2-2.5 .3 1.5 1.3 1.1 .6-.1zM148.5 245.8l-.3-1.2-2-1.8-.1 1 1.1 1.6 1.3 .4zM533.8 246.8l-.6-2.2-1.4-1-1 .1 1 1.8 2 1.3zM572.2 251.8l.1-.6-3.1-5.6-2-1.5-1 .1-.1 1 2.7 4.7 3.4 1.9zM174.3 284.2l1.5-1-.4-2-2.9-4.4-6.2-6.6 .9-.1 3 1.8 2.6 .5-.8-3.2 .8-.5 1.9 .5-.5-1.1-2-1.3-2-.1-.4 .1 0 1.7-1-.1-3-3-4.3-7.2-7.3-7.2-1.4-.5-.6 .3-.1 1 5.9 6 .2 .8-2-.2-6-3.6-3.2-4.6-4-2.4-3-3 2.9 4.4 .9 3-1.6-.3-2.4-1.8-.8 .1 .1 .6 2.7 3.7 6.4 5.6 3.8 7.1 1.8 1.6 2.4-.1-.2-.9-3.2-2.9-.8-1.7 .2-.5 1.6-.2 2.6 .7 7.4 7.8 3.2 2.2 .6 2.6 3.5 6.4 2.1 2.2 1.1-.2zM490.2 247.2l-1-2.5-2.2 .1 1.6 2 1.6 .4zM131.8 254.2l-.4-5-1.6-2.2-3.5-.8 1 2.6-.5 .5-4-3.2-1 .1 4.3 5.6 5.7 2.4zM444.9 252.8l.1-1.6-.8-1.6-1.4-1.5-1.2 .1-.9 1 .5 1.7 2.6 2.1 1.1-.2zM452.4 256.2l-1-6.4-1.6-1.5-3 1.9-.1 .6 1.5 2.6 2.6 2.6 1 .6 .6-.4zM173.3 249.8l-.9-.6 .4 1 .5-.4zM486 254.2l-.8-2.1-2-2.6-.8-.3 .2 2 1.2 1.7 1.4 1.5 .8-.2zM169.1 260.8l-.2-1.6-1.7-2.6-5.4-5.1 .3 1.7 2.1 2.7 3.6 4.1 1.3 .8zM512.6 257.8l-.2-2-1.6-2.6-2-.5 .4 2.2 2.6 2.6 .8 .3zM475.5 254.2l-.5-.4 .5 .4zM558.9 284.2l-4.2-5.4 .4-2 1-1-1.1-2.6-1.8-1.5-2-.2-7.4-8.4-1.6-.4-.1 1.5-.9-.2-6-7-3-2.4-1.4-.4 .2 1 7.8 9-.6 .6-3-.3-.4 .3 .7 1 8.1 6 3.4 5 2.8 2.2 .5-.8-1.3-5 .2-.4 .6 .3 3.5 4.1-.8 1.6 .5 1 4.6 4.4 1.2 .5 .1-.5zM128.9 260.2l-.5-4-1.6-1.6-1 0-.4 1.2 1.2 2.4 1.6 2.2 .7-.2zM469.4 259.8l-2.2-3.7-1-.6-.4 .2 2.8 4.1 .8 0zM288.8 261.2l-.6-1.2-3.2-2.8 1 2 2.1 2 .7 0zM437 260.8l-1.2-2.2-1-.3 .7 1.9 1.3 1 .2-.4zM454 268.2l-1.2-4.6-4.4-4.4-1.6-.5-.8 2.5 .8 2.2 5 4 1.4 1 .8-.2zM474.9 259.8l-.7-1.2-1 .1 1 1.2 .7-.1zM511.6 273.8l.2-.6-4.3-6.4 .7-.6 1.6 .5-.6-1.6-2.3-2.3-2.7-1.4-2.4-2.3-1.6 0 0 1.1 6.9 6.6 1.7 4.6 2.8 2.4zM533.1 262.8l-.2-1.6-2.1-1.8-.5 .4 .3 1 2.5 2zM149.3 266.8l-.4-2-2.7-3.7-.8-.3 1.2 4 1.6 1.7 1.1 .3zM315.7 263.8l-.7-2-1.2-1.1-.7 .1-.3 .4 .7 1.6 2.2 1zM455.6 262.2l-.1-1-1.3-.7 .3 1.3 1.1 .4zM141.5 262.2l-.5-.4 .5 .4zM446.9 273.8l-1.1-3.6 .5-1.4-2.5-3.7-1.6-1.4-1 1.1-2-.6-.1 1 3.1 3.4 2.6 3.8 1.4 1.5 .7-.1zM123 265.2l-1-1 1 1zM162.8 267.3l-2.2-2.1 .2-1 1.6 1 .9 1.6-.5 .5zM294.7 269.2l-.9-2.1-2-1.6-.2 1.3 .6 1.1 1.6 1.6 .9-.3zM140.6 281.2l-2.8-6.6-10.9-7.8-.2 .4 1.4 2.6 5.4 7.4 1.7 1.3 .2-.7-1.7-3 .5-.8 1 .1 2.7 3.1 1.3 3.2 1.4 .8zM545.8 272.3l-1.9-1.1-2.6-4.4 1.9-.5 2.6 2.3 .8 2.2-.8 1.5zM158.6 268.2l.2-.4-1-1-.2 1 1 .4zM501.3 279.2l.1-1-1.2-1.6-4.1-3.8-.9-3.7-2-1.5-1 .1-.1 1.1 1.7 3.6 3.7 3.4 2.1 3 1.7 .4zM561.8 275.2l-.4-2.4-1.6-3.2-2-1.5-1 .1 1 3.2 3 3.6 1 .2zM503.8 274.2l.1-1-1.1-2.1-2.6-2.5-.4 .2 1.4 4.1 1 1 1.6 .3zM475.6 272.8l-.4-1.1-.9 .1 1.3 1zM186.5 280.8l-.7-2.7-4-4.6-1-.3-.2 1 2.6 4.2 2.4 2.4 .9 0zM493.4 276.8l-.6-1.3-2-1.5 .7 2.2 1.3 .9 .6-.3zM492.4 282.2l0-1-2.2-3 .2-1.4-2.6-2.4-.6 2.4 .4 1.4 2.6 3.3 1.6 .9 .6-.2zM453.1 276.2l-.9-1.4 0 1 .9 .4zM451.7 280.8l-1.7-3-2.2-1.6 1.2 2.6 2.2 2.1 .5-.1zM485.4 283.2l-3.2-3.1-2.4-.5-3.8-2.8 1.2 2.2 2.6 .9 3.3 3.3 2.1 .4 .2-.4zM166.8 280.2l-1-2.1-2-.9-.1 .6 .8 1 1.7 1.5 .6-.1zM270.1 279.8l-.2-1.6-1.7-1.4 .4 2 1.5 1zM513.9 285.2l-2.4-4.4-4.7-3.6 .9 2-1.5 0-.2 .6 1 2 2.8 2.6 4.1 .8zM521.9 278.2l-.7-1.4-.4 .1 .4 1.5 .7-.2zM471.3 281.2l.1-2-1.2-1.2-1-.3-.1 2.1 1.5 1.4 .7 0zM125.6 278.2l-.4-.3 .4 .3zM280.8 279.8l-.9-.6 .3 .6 .6 0zM146.8 283.8l-1.6-2.3-1-.8-.4 .1 .3 1.4 1.1 1.3 1.6 .3zM459.3 286.2l-.4-1.4-2.1-2.3-1.6-.9-1 .2 .3 1 3.3 3.2 1.5 .2zM541.1 291.2l-.8-3-4-3-.5-2.7-.6-.8-1 0 2 3.1 0 1.6 3.6 4.1 1.3 .7zM493.1 292.8l-.2-2-1.5-3.6-4.6-5.4-.2 1.4 2 5.6 2.2 2.7 2.3 1.3zM465.3 283.2l-.9-.4 .4 .5 .5-.1zM509.4 295.2l1.9-2.4-3.1-4.7-3-3-5-2.5-.7 .2 4.9 6 1.4 4.1 2.4 2.5 1.2-.2zM518.6 283.8l-1.1-1 1.1 1zM329.5 285.2l-1.5-1.4 1.5 1.4zM567.5 287.8l-2.5-2.6 2.5 2.6zM572.8 290.2l-.6-1.6-1-.4 0 1.7 1.6 .3zM489.2 292.8l-1-2.8-1-.9-.7 .1 1.3 2.8 1 1 .4-.2zM141.3 294.2l-.5-2.1-1.9-1.9-1.1-.4-.5 .4 .5 1.7 2 2 1.5 .3zM495.6 300.8l.2-.7-2.3-2.3-2.4-1.6-3.3-3.2-1.6-.8-1.4 .6-2.6-1.7-1.9 .1 3.9 4.2 2.6 .7 3 2.3 2-.3 1 .5 2.8 2.2zM448.1 294.2l-2.3-2.3 .8 1.9 1.5 .4zM265.3 295.2l-.1-.7 0 1.1 .1-.4zM150.5 306.2l1-1-1-4 2.3 .2 .3-.6-4.9-4.8-.5 .2 .6 2-.6 1.6 .8 3-.3 2 1.4 1.4 .9 0zM441.8 299.2l-.3-1.4-1.7-.8 .2 1.2 1.8 1zM162 307.2l-.1-1-4.7-6.1-1.8-1.9-.8 0-.5 1 2.1 3.7 2.9 2.9 2.1 1.6 .8-.2zM557.4 305.2l-.8-3-3.2-2 .4 1.7 3 3.5 .6-.2zM564 309.8l-1.5-3 2.7 .3-1-2.3 .3-1.6-1.7-1.6-3-.2-2.7-1.2-.2 2 2.9 2.9 2.2 3.7 1.8 1.4 .2-.4zM455.8 302.8l-.9-1.6-.7 0 .6 1.3 1 .3zM544.3 306.8l-4.5-5.3-1-.5-1.1 .2 .1 1.1 6 4.5 .5 0zM476.2 309.8l.1-.6-1.7-2-1.6-3.4-1.8-1.7-2-.4 .4 1.5 1.9 3 3.1 3 1.6 .6zM453.8 307.2l.1-1-.7-.7-2-1.3-.4 .2 1.4 2.6 1.6 .2zM567.7 305.2l-1.5-.8 .6 .9 .9-.1zM294.5 307.8l-1.3-1.5 0 1.1 1 .8 .3-.4zM471.9 313.8l-.7-2.7-3.7-3.9-3.3-.4 .4 1.4 1.9 2 1.7 .3 3 3.4 .7-.1zM144.9 314.2l-1.7-2.2-1-.2-.1 1 1.1 1.2 1 .6 .7-.4zM532.4 317.8l-2-3.6-1.6-1.1-1.1 .1 .9 2.6 1.2 1.2 2 1.1 .6-.3zM162.5 315.8l-.5-.6 .5 .6zM510 327.2l-.5-2-1.7-1.6-.8 .2 1.5 3 1.5 .4zM244.3 476.8l-.1-1.2-4.4-4.6-1-.9-1 .1 .8 3 1.9 2.6 .7 .6 3.1 .4zM476.4 476.2l.1-1-2.5-3.4-1.8-1.7-1 .1 1.8 4 2.2 2.2 1.2-.2zM530.8 476.2l-1.8-3.4-1.8-1.7-1-.1-.1 .8 2.9 4 .8 .6 1-.2zM178.4 479.2l-2-5.4-2.6-2.3-.2 1.7 2 4 2.2 2.2 .6-.2zM566.9 475.2l-.4-1.4-3.3-2.4 2 3.5 1 .7 .7-.4zM206.4 487.2l0-4-2.2-3.1-4.3-4.3-2.1-.9-3.4-2.7 .2 3 1.6 2.7 8 8.6 1.6 1 .6-.3zM542.3 475.8l-.1-1.2-1.8-1.4 .4 1.7 1.5 .9zM555.3 473.8l-.8-.6 .3 .6 .5 0zM183.3 475.2l-2.1-1.3 .6 .9 1.5 .4zM467.9 479.2l.1-2-.6-1.4-1.2-1.2-1.4-.1-.8 1.3 .6 1.4 2.2 2.2 1.1-.2zM541.8 486.8l.1-1-1-2-2.8-3.6-1.2-2.4-2.7-2.8-.8-.2 3 5.4 .8 4.2 1 1 3.6 1.4zM151.3 488.8l.5-1.4 2 .9 .5-.5-4.8-8-5.7-4.3-.2 .7 1.6 2.7 5.7 6.3 .3 1.1-1.9 .5 .7 1.4 1.3 .6zM456.4 478.8l.6-1-.7-2-.5-.1-.8 1.1 1.4 2zM242.4 499.8l.6-1-.1-1.6-4.1-3.8-4.8-7.2-3.8-3.6-3.4-2-2.6-.2-4-3.6-.1 1 1.3 2 1.4 4.1 3 2 2.4 .7 4 3.8 3.6 1.1 1.6 2.7 1.1 4 2.3 1.7 1.6-.1zM228.5 479.2l-1.3-1.7-1-.2-.2 .5 1.8 1.6 .4 .3 .3-.5zM225.3 477.8l-.5-.3 .5 .3zM284.3 480.8l-.3-1-2.2-1.8 .2 1.8 1.2 1.1 1.1-.1zM138.7 483.8l-1.3-3-1.2-1.7-.8-.3 .7 2.4 1.7 2.2 .9 .4zM179.2 495.8l-3.1-4.6-.1-1.4 .8-1 2.2 2 2.2 3 1.5 .4-.5-1.1-2.1-2.3-1.3-3.3-1-.5-2 .4-1.6-1.3-1-.1 .1 2.2-1.1 .2-6-6.9-2-1.3-1 .4-.6 1.6 1.2 1.8 8.1 5.8 6.2 6 1.1 0zM455 483.8l-.1-1-1-1-2.7-1.6-.4 .1 .3 1.5 1.5 1.4 1.2 .7 1.2-.1zM143 484.8l.9-.6 .1-1-1.6-2-1.2 0 .2 1-1.2 1 1.6 1.7 1.2-.1zM179.8 486.2l.2-1.4-.5-1-2.3-2.2-2-.4 .4 1.6 1.9 2.4 2.3 1zM195.4 485.8l.1-1.6-.6-1.4-1.7-1.7-1-.1 1.4 4.2 1.2 1 .6-.4zM291 484.8l.4-2-.5-1-.7-.7-1.4-.1-.2 2.2 1.6 1.8 .6 .2 .2-.4zM204.3 503.8l-.1-1.2-3.3-3.4-3.1-.1-4.8-3.9-1.9-3-.7-4.4-3.6-4.3-2.4-1.3-.2 .6 1.7 3-1 1.4 1 2 .3 3 4.8 4 2.8 3.8 2 .5 2-1 3.4 3.4 1.6 1 1.5-.1zM515.8 513.2l-.4-2-5.3-7-.2-3-1.1-2.1-2.6-1.5-4-1.2-2.4-1.9-1.2-1.3-1.4-4.1-7.4-7-.6-.2-.4 1.6-2.6-.3 .4 2.6 1.2 1.6 6.2 5.4 1.3 2.4-1.5 2.2-1.7-1.6-1.3-2.7-1-.6 .1 4.3-2.9 2 2.2 3.7 2 1.8 1.6-1 1.6 .9 2.8 5.2 3 2.4 .2-1-3.2-4.6 .8-1.4-.3-2 2.7-1.6-.7-2.4 .5-.6 2.8 2.6 2.6 3.4 6.4 5.6 2.1 3 1.7 .4zM572.1 487.8l-.2-1.6-1.7-2.6-1-1-.7 .2 1.7 3.6 1.9 1.4zM547.5 490.2l-3.1-6-1.6-.7 .3 1.7 3.1 4.2 1.3 .8zM147.9 509.8l0-1-7.1-9.6 1-.4 .1-1-2-2-1.7-.8-1.2-1.8 .2-.4 .6 .1 3 2 1.6 .3 .1-2.4 .9-.6-1.7-3.4 .6-1-.3-1-2.1-2-.8 0 0 3 2.5 4-.4 0-6.4-3.4-2-1.8-.5 .2 .7 2-.2 .5-6-3.7-.8 .2 .5 2 10.3 10.2 3.5 2.8-1.2 1-.3 1.4-.6 .3-4.4-1.2-3 .3-.3 1.2 4.7 4.5 2-.2 5 1.8 .2-.7-2.2-3.4 .6-.6 5.4 4.2 1.7 .4zM311.5 491.8l-.3-3.2-2.8-2.8-2.2-1.1-1.4 2.1 .4 1.1 5 4 1 .3 .3-.4zM398.4 486.8l-1-1.6-1.7-.4 1.4 2 1.1 .4 .2-.4zM464.1 491.8l-1.6-3-3.7-3.4-.4 .8 1.6 2.6 4.1 3zM331.8 535.8l-2.3-4.6 .3-.5 3 1.6 .7-.5-2.8-8.6 1.1-.1 3.4 2.8 1.1-.1-2.4-6.6-3.7-2.8-1-3.1 1 .1 3 4 .6-.6-.4-1-.9-1.6-3.4-3-1.4-4 .5-.5 4 2.9 1.9-1.4-.2-.4-3.7-3.8-2.4-.1-1.6-1-1.4-2.8-3.7-3.9 .3-2.4-1.6-3.7-6.6-3.9 .4 2 3.3 4 .9 2.5-1.6-.3-3-2.2-1.4 .6 .1 .4 5.5 8.6 .5 2-1.1 .3-2-1.1-1.7-1.8-1.2-3.4-1.9-2.6-1.8-1.6-2.4-1.1-.6 .7 .9 2 3.3 3.6 .2 1.4 3.9 7-.7 .8-1-.1-6-2.3-2.6 0-1.3-.8 8.7 8 4.2 1.4 1.4-.1 5 4.3 .5-.2 .1-1.2 2.4-.8 .8 .6 2.9 5.4 .9 3-.6 .3-1.2-.7-3.6-5-1.2-.5-1 .8-3.8-2.3 1 2 .2 2 3.6 6.1 6.6 6.6 2 1.4 1-.1zM484.3 491.8l.1-1-1.4-2-1.8-1.7-1.4-.6 1.2 4.7 1.2 .8 2.1-.2zM333.9 492.8l-.4-2-4.3-3.8 .4 1.8 3.2 4.1 1.1-.1zM368 489.2l-.8-1.5-.9 .1 1.7 1.4zM158 490.8l-1.8-2 .3 1.4 1.5 .6zM165.6 491.8l-.8-2-.9-.6 .8 2 .9 .6zM241.7 492.2l-.7-1.4-2.2-2-.2 1 1.2 1.6 1.9 .8zM195.8 492.8l-1-2.1-1.6-1-.4 .2 1.4 2.6 1.6 .3zM215.4 501.2l.7-2-.2-1-6.1-6.7-1.6-.5-.4 .8-2 1-4.6-3.3 .4 1.7 3.2 3.4 2.8 4.2 .6 0 .6-1.1 1-.1 4.4 3.8 1.2-.2zM390.8 492.8l.4-.1 .2-.9-1.1-1.6-.5 .1-.2 .9 1.2 1.6zM206.9 502.2l-1.1-2.1-4.7-5.3-.9-2.7-2-1.4 .4 2.1 3.2 5.1 4.4 4.5 .7-.2zM247 494.2l-1.5-2.4-1.7-1.4 .7 1.8 2.5 2zM474.3 490.8l-.6 0 .6 0zM302.8 499.2l-.4-2-2.4-3-3.6-3-.9 0 .7 1.7 4.8 5.9 .8 .6 1-.2zM302.8 493.8l-.3-1-2.3-2 .3 1.4 1.7 1.6 .6 0zM511.8 496.2l.6-1 0-1.4-1.2-2.2-1-.6-.1 3.8 1.7 1.4zM540 509.2l-5.8-6.7-2.8-1.3-1.2-1.1-3-4.3 .6-.6 1.4 1 .2-1-3.2-3.2-2 0-1 1.3-1.5-.1 2.2 4 1.9 1.7 4.4 2 4.9 6.3 1.7 1.2 3.2 .8zM298.8 500.8l-2-4.2-3.6-3.6-.9-.2 1.5 4.6 2.4 2.7 2.6 .7zM553.8 506.8l-5.7-7-.2-3-3-3-1.7-.6-2 2.6-2.4-.1 .7 1.5 3.6 3.6 4.1 2.3 2.6 2.3 3 1.5 1-.1zM170.2 498.2l-.7-2-1.7-.7-.2 .7 1.1 1.6 1.5 .4zM245.5 495.8l-.3-.3 .3 .3zM270.2 510.8l-1.4-.8-7-7.1-2.4-6.7 1.6 1 1.8 3.2 3.4 3.7 4.6 6.1-.6 .6zM199.1 520.2l.3-1-2.6-6.4 .7-1.6-.6-2-8.7-8.7-1.6-.3-.5 1 .3 1-.6 .1-3-3.2-2.6-.2-3-2.3-1.4 .6-3.1-.4 1.4 2.4 5.1 3.6 .6-.1 0-1.5 2 .9 2.7 3.7-1 1.4 .1 1 2.2 2.2 1-.2-2-4 .9-1.4 1.1 0 2 3.1 2.4 2.3 .2-1.4-1.2-2.7 5.2 6.1 .6 2-.9 3 .5 1.6 1.6 1.6 1.9-.2zM224.4 506.2l1.3-3.4-.3-1-3.5-4-2.7-1.1-.1 1.1 1.8 2.4 .2 2.6 1 2 1.5 1.4 .8 0zM330.4 500.2l-2.6-3.2-1.6-.2 .3 1 2.3 2.2 1 .6 .6-.4zM333.4 499.8l-.9-2-1.3-.6 .3 1.6 1.3 1.1 .6-.1zM458.3 499.8l-1.5-2.3-1-.2 1 2.2 1.5 .3zM127.7 501.8l-3.5-4.5-.1 1.5 .7 1.1 2 2 .9-.1zM538.5 500.8l-4.1-3 1.7 3 2.4 0zM320.2 500.7l-1.6-.9-.3-1 .5-.4 1.1 .8 .3 1.5zM460.6 509.8l.2-.6-1-1.6-5.8-6.8-1.8-1.7-2-.4-.1 1.1 1.7 3.1 8.8 6.9zM574.9 509.8l-.4-2-4.5-4-3.8-4.8-1-.5-1.7 .7 1.8 3-.6 1.6 2.9 4.4 1.2 .6 .5-.6-2.6-5 .5-.5 6.6 6.8 1.1 .3zM363.3 504.8l-.9-4-2.2-1.8-.5 2.8 2.5 2.7 1.1 .3zM374 506.2l-5.2-6-1-.6-2 .3 .3 .9 3.9 2.4 3.2 3.2 .6 .3 .2-.5zM576.2 503l-2.7-2.2-.1-1 2.6 2 .2 1.2zM196.3 503.8l-2.5-3.4-2.8-.2 2.2 2.7 2.6 1.1 .5-.2zM284.8 503.3l-2-1.9-.6-1.5 2.6 2.2 .3 1.1-.3 .1zM485.1 500.8l-.3-1-.6 .2 .9 .8zM375.3 503.8l-.1-1.2-1.8-1.4-.2 .6 1 1.6 1.1 .4zM560.3 506.2l-1.1-2.2-1.4-1.4-1.5-.4-.1 .6 1.6 2.2 1.4 1.4 1.1-.2zM216.8 509.8l-.4-3.6-1.6-2.6-1.6-1-2 .1 .4 1.5 3.6 5.2 1.6 .4zM220.5 505.2l-1.3-2.1-1-.6 .3 1.3 2 1.4zM169.9 506.8l-1-2.6-1.7 0-.1 1 1.1 1.3 1 .6 .7-.3zM235.2 508.8l-2-2.8-2-.8-.1 1 1.1 1.3 2 1.4 1-.1zM426.2 546.8l-2-.8-2 .9-3-2.5-2-4.6 1-.2 2 1.2 .1-.6-10.2-13-1-1.4-.9-3.2-4.2-4.4-2.5-3.4-3.7-3.4-3-6.2 1.4 .3 3 3.4 1.6 .6 1.4-.4 4.3 4.1 .4 1-.8 3 .5 1 2.3 2.6 2.2 5 5.5 8 7.3 8 2.5 4-.2 1zM287.2 507.8l-1.5-1.6 .1-.7 1.1 .7 .3 1.6zM372.8 509.8l-.3-1.6-2.6-2.4-1.1-.3 .2 1.7 3.8 2.6zM233.8 512.8l.1-1-3.7-4.8-.4-.2-1.6 1 1.4 2.4 4.2 2.6zM420 511.2l-1.8-2.2-1-.1 2 2.5 .6 .3 .2-.5zM204.4 514.2l-2.5-3.4-1.1-.7-1 .5 .3 2.2 1 1 1.7 .7 1.6-.3zM509.2 562.3l-2.6-1.1-4.1-4-1.4-2.4-.2-2.6-1.5-2.4-9.3-9.6-1.1-3 .4-3-3-6-3.2-2.2-6.4-6.6-4.2-6.2 .2-2.7 1.1 .3 4.3 3.6 3 .7 1.6 1.5 .6 3.2 3 3.4 6.5 10 .2 2.6 2 3 0 .4-1.5 .6 .5 2 2.4 3.4 3.5 3.6 6.2 7.8 3.2 4.6-.2 1.1zM506.3 514.8l-.4-2-1.7-1.1 .4 2.1 1.7 1zM366.2 516l-1.4-1-.8-1.2 .8-.3 1 .6 .4 1.9zM163.4 518.2l-.6-1.6-2.6-2.3-.2 .5 .8 1.6 2 2.1 .4 .2 .2-.5zM242.4 519.8l-2.2-5.5 0 .9 1 1-.2 .6-1.8 .4-.1 1 2.1 1.7 1.2-.1zM308.8 520.2l.1-1.4-.9-1.6-1.8-1.6-2-.6 0 .9 3.3 3.9 1.3 .4zM265.8 520.3l-1 .1-1.6-1.5-1.1-2.1 .1-1.1 1-.1 1 1 1.6 3.7zM498.3 519.2l1.2-1-.2-1-1.5-.6-1.3 .6 .5 1.6 1.3 .4zM523.5 521.8l.8-.6-.3-1-2.8-3.2-1.4-.3-.3 2.1 2.7 2.7 1.3 .3zM386.1 520.8l-.1-1-3.1-2.6-.2 .6 1.1 1.6 2.3 1.4zM435.3 530.2l.1-1-1.2-2.1-4-3.7-3.7-5.2-1.7-1-.8 3.6 .8 1.6 7.8 7.8 2.7 0zM516.6 518.8l-.4-1.2-.8-.4 .1 1 1.1 .6zM483.3 522.2l-.2-2.4-2.9-2.2-1.5 .2-.1 1 1.6 2.2 2 1.4 1.1-.2zM187.5 534.2l-1.4-2.4-.2-2-3.7-6.6 0-1.6-1.4-1.1-.6 1.3-2.4-2.3-1-.3-.2 2 4.3 5 .1 2.6 5.8 5.6 .4 .3 .3-.5zM241.2 523.2l-1.2-2.4-1.6-1.6-.6 0-.2 1 .9 1.6 1.3 1.1 1.4 .3zM555.8 522.4l-2.6-.9-.8-1.3 .2-1 1.2-.1 1.4 .9 1 1.8-.4 .6zM153.2 532.3l-2-.8-3.6-4.3-2.5-6 .1-1.5 1.7 .5 2.5 2.6 1.2 4 2.8 4-.2 1.5zM173.6 520.8l.2-.6-1-.9-.2 .9 1 .6zM165.1 522.2l-.3-1.1-.9-.3 .3 1.1 .9 .3zM416.8 523.3l-1.6-1.4-.3-1.1 1.9 1.3 .3 1.1-.3 .1zM164 525.2l-1.5-3-1.3-1.1-1-.1-.1 .8 1.4 2 1.7 1.6 .8-.2zM196 523.8l-.6-1.6-2.2-.8 1.6 2.1 1.2 .3zM223.2 533.9l-3-1.8-3.4 .2-4.6-4.9 .1-.6 2.1 0-.7-2.6 1.1-1 .4-1.3 4 2.3-.4-2.5 3.5 3.1-.1 .3-1.6-.3 .7 2.4-1.1 1.6 .8 1.4 1.9 1.6 .8 2-.5 .1zM137.8 528.3l-1 .1-2.6-2.5-1.1-2.1 .1-1.3 1.6 1 3 3.6 0 1.2zM157.8 529.8l-1 .1-1.8-1.7-3-5.4 5 4 .8 3zM247.2 526.2l-3-3 .8 2 1.2 1.2 1-.2zM174.8 528.2l-2-3.2-2.6-1.2-.1 1 1.9 3 1.2 .7 1.6-.3zM524.8 542.2l-1.4-3-3.6-4.3-2-3.4-2.3-1.7-3.3-5.2-1.4-1.1 .3 1.7 4.2 7-3.1-1.6-1.4 .1-.2 1.5 1.2 3-.1 .6-1.5 0 .3 1 2.1 2 1.6 .7 .2-2.3 1.4-1.5 6.8 6.5 1.6 .5 .6-.5zM537.2 547.8l-3.4-4.3-2.2-1.3-4.4-3.8-1-2.3-5.1-5.9-1.6-3.4-3.1-3-1.2-.1-.2 1.5 .6 1.6 4.8 6 2.2 4 5.4 7.4 1.8 1.3 1.4-1.3 1-.1 3.9 3.7 1.1 0zM240.3 528.8l-.1-2.2-2-2-1.4-.4-.1 .6 2.1 3.1 1.5 .9zM326.8 528.6l-2.3-1.4-1.3-2.8 .6-.1 2.2 2.5 .8 1.8zM191.8 525.8l-.9-.6 .3 .6 .6 0zM480.2 527.4l-.4-.9 .4 .9zM533.8 531.8l-.4-2-2.2-2.8-1-.4-.2 1.2 1.1 3.4 1.1 1 1.6-.4zM571.8 538.8l-4.2-2-4.8-4.8-2.7-3.8-.3-1.4 1.6 .4 4.8 4.8 3.6 2.5 2.1 3.3-.1 1zM134.2 530l-1.7-1.2-.7-1.9 2.6 2.3 .3 .6-.5 .2zM214.8 551.8l-3-5.2-6.7-7.4-.1-1 1.5-1-1.1-2.4-2.6-1.7-2-.1-3.8-4.8-1.8-1.1-1 .1 0 .6 4 4.8 0 1.2-1 .1-2-1.4-3.4-4.4-1 .1-.6 1.1-1 .5-.2 1 .6 1.4 2.2 2.3 2 0 4 2.9 1.4-.9 .7 .3 8.6 8.4 4.5 5.6 1.2 1 .6 0zM566.8 530.4l-2.5-2.6 .9-.2 1.3 1.2 .6 1.4-.3 .2zM202.8 528.2l-.6-.2 .6 .2zM482.2 531.6l-1.4-1.2 .1-.6 .9 .3 .4 1.5zM127.2 536.5l-6-2.6-2-2.7 .6-.6 3.4-.5 4.2 3.7-.2 2.7zM310.8 541.8l-1.6 .2-1.4-.6-2.7-3.2-.4-1.4 1.5-2.6-2.6-2.4-.4-1.8 2.8 2.2 1 2.6 2.4 2.4 1.5 3.6-.1 1zM324.3 536.2l.1-1.4-3.6-4.3-1.6-.5-1 .6-.4 2.2 .3 1.4 1.1 1.4 1.6 .6 3.5 0zM388.6 531.2l-.8-1.4-.1 1 .9 .4zM468.4 531.8l-1.4-1.6 1.2 2 .2-.4zM229.2 533.3l-.4-1.2 .4 1.2zM382.2 542.8l-2.6-2-1.2-3-3.6-5.6 1.4 .5 2.2 2.5 2.2 4.6 1.8 2-.2 1zM572.8 535.3l-2-1.9 0-.9 2.4 2.1-.4 .7zM394.6 538.8l-1.6-3-3.1-2.6 1.6 3 3.1 2.6zM553.3 535.2l-.8-1.4-1.3-.5 .9 1.9 1.2 0zM416.2 545.3l-1 .1-3.1-2.2-3.9-4.1-4-1.6-1.1-1.3-.9-2.4 1-.2 3.4 3.2 6.6 3.7 3.5 3.3-.5 1.5zM549 538.8l-.8-1.3-4.8-3.7-1.2 0-.1 2 1 1 2.7 1.6 3.2 .4zM234.8 537.3l-1.2-1.1-.4-1.9 .6-.1 1.1 1.6 .4 1-.5 .5zM365.8 539.8l-.3-1.6-4.7-4.4 .3 2 1.9 2.4 2.8 1.6zM442.4 538.8l-3.2-3.8-1.4-.5 .4 1.5 3.6 2.9 .6-.1zM331 540.2l-2.5-3.4-2.3-2-.1 1 2.4 3 1.7 1.7 .6 .2 .2-.5zM319.2 542.3l-4.7-4.5-.7-2 1.4 .3 1.3 1.1 2.4 3.6 .3 1.5zM507.6 537.8l-1.4-1.8-.8-.2 .7 1.4 1.5 .6zM255.8 537.2l-.4-1-1.2-.2 .4 1.2 1.2 0zM165.8 538l-.9-1.2 .9 .3 0 .9zM490.2 548.8l-2.4-1.9-1.7-2.7 .1-1 1.6 .1 .2-.5-2.3-5 .2-.6 2.5 2 2.9 6-.8 1 .3 2-.6 .6zM386.2 540.8l-2-1.9-.3-1.1 1.3 .8 1 2.2zM561.8 538.1l-.6-.7 .6 .7zM120.8 546.3l-3.2-3.5-.4-3.6 1.7 .6 1 1.4-.3 2 1.2 3.1zM218.9 546.8l.5-1-.5-1-3.7-5.3-1-.3-1 .8-2.4 .4-.2 .8 1.2 1.8 2 .5 4 3.4 1.1-.1zM239.8 549.9l-3.6-2-4-3.3-2.1-.8-1-1 .1-1.2 1-.6 2 .3 .2-2.1 .8 .3 3.6 4.5 4.6 3.2-.1 1-1.1 .6-.4 1.1zM139.8 548l-1.2-.2-1.8-2.4-2.5-4.6 .5-.2 4.4 4 .8 2.2-.2 1.2zM174.2 552.3l-2.4-1-1.6 .7-1-.5-2.2-3.7-4.4-3.6-1-1.4 .1-2 1.5 .3 2.8 2.7 3.2 5.2 1.6 1 1.4-.3 1 .4 1.2 1.1-.2 1.1zM379.1 564.8l-1.2-1.6-3.1-6.4-4.3-3.6-1.9-3 .2-.5 4.3 3.5 2 1-5.1-9-1.2-.5-.6 1.1-1 .1-4-5.1-1 1.5-2.2-.1 .6 2 2.8 3 .2 2 1.4 2.6 7.8 6.2 6.3 6.8zM131.8 545.9l-1.6-.6-1.1-1.5-.3-2.3 1.1 .3 3 3 .1 .4-1.2 .7zM194.8 545.8l-1 .1-1.3-1.1-1.6-3 3.1 2.4 .8 1.6zM126.2 544.3l-1.1-1.1 .1-1.4 1.6 2-.6 .5zM385.8 551l-1.6-.6-2-1.8-1.4 .1-2-1.1-1.1 .6 .4 2.6-.3 .1-2.7-2.7 .1-4 2 .3 .6-.9 1-.1 3.4 4 3.3 2.3 .3 1.2zM306.2 573.5l-1-.3-2.8-4.4-5.2-3.7-2-.6-.4 1-.6-.1-2.4-2.5-1.1-2.1 .1-.6 1.4 .1 .3-.5-.2-4.6 .7-1.4-.7-2.6 1.9 .8 5 5.2 1.6-.3 1-1.3 1.4-.3 1-1.1 3 2.3 .1-.7-5.2-9-.2-1.6 .9-1.2 1.6 1.2 .2 1.6 2.6 4.6 8 8.2 3.3 6.2-.7 .5-2-.8-3.6-.1-2.4-1.8-1.6 .7-2-.6 0 4.1 3.3 5-2.7-1.3-.6 .3 0 1.7zM157.8 554.3l-3.6-2.2-4.7-7.3 2.3 1.7 3.7 4.3 2.4 3-.1 .5zM312.8 551.8l-5-3.9-.6-3.4 1.2 .3 2.8 2.8 2.1 3.6-.5 .6zM454.4 550.8l-.6-1.7-3.8-3.9-.8-.6-1 .1 .3 1.1 4 4.4 1.3 .9 .6-.3zM549.8 555.8l-2-.5-1.2-1.5-3-7.6 .2-.7 1.4 .6 4.8 6.1-.2 3.6zM183.2 555.9l-2.4-1.9-2.2-2.8 1.4-.4-.1-.6-1.8-3 .1-1 2 .4 3 2.2-.7 4 1.1 2.4-.4 .7zM280.2 547.3l-1-.4-.2-.7 .9 0 .3 1.1zM576.2 553.8l-1-.3-3-3.1-2.1-3.2 .1-1 2.6 1.3 1-.2 .4-.7 1 1 1.3 3.2-.3 3zM185.8 550.8l-2.5-1.6 .5-2 .6 0 1.5 1.6 .4 1.4-.5 .6zM495.8 550.3l-2.1-2.5 .1-.6 1.5 .6 1 2-.5 .5zM327.8 555l-4.6-2.9-.4 .1 .4 1.6-1 .1-3-3.5-1-2 2.6 .6 .4-1.3 1.6-.2 3.1 1.3 1 1 .9 5.2zM388.8 550.3l-1.8-2.5 1.9 1.4 .2 1-.3 .1zM250.8 552.5l-2.7-2.3-.3-2 .6 0 1.5 1.6 .9 2.7zM299.8 553.8l-4.3-3.6-.3-1.5 2.8 1.5 2.1 3.6-.3 0zM147.8 550.8l-1.6-1 0-.8 1.8 .8 .2 .8-.4 .2zM427.8 556.4l-3.6-3.5-1.5-2.7 .1-.4 1.4 .3 1.6 1.5 2.1 3.6 .3 1-.4 .2zM553.8 553.8l-1.6 .1-1.2-1.1-.2-3.1 1.4 .8 1.6 3.3zM168.8 561.3l-3.6-2.9-1.3-2.6-3.8-4-.3-1.8 1 .1 1.4 1.5 2.4 3.6 2.8 3 1.7 3-.3 .1zM137.2 554.4l-.4 .3-1.6-.7-1.6-1.8-.4-1.4 1-.2 2 1.4 1 2.4zM124.8 555.5l-1.6-1.1-2-3 2.6 2.2 1 1.9zM277.2 553l-.9-1.2 1.1 .4 .3 .6-.5 .2zM156.2 556.3l-1 .1-.7-.6-1.2-3 .9 .1 1.3 1.3 .7 2.1zM500.2 557.8l-3.4-2.9-.7-1.1 .1-1.1 1 .3 3 3.1 .6 1.1-.6 .6zM573.8 560.3l-1 .1-1.8-1.2-3.8-4.3-1-2.2 2.6-.2 2 1.1 3.1 5.6-.1 1.1zM529.8 555.8l-2-2.6 1-.1 1 1 .5 1.1-.5 .6zM170.2 558.8l-1-.3-1.4-1.6-1-3.4 1.1 .3 2.5 2.4-.2 2.6zM258.2 555.8l-1-.4-1-1.9 1.7 1.3 .3 1zM565.2 557.5l-1.7-1.3-.7-1.5 .4-.2 1.6 .7 .6 1-.2 1.3zM412.8 559.8l-3-.8-1.7-1.8-.3-1.7 1 .1 2.3 2.2 1.7 .7 .5 .7-.5 .6zM211.2 568.4l-2.6-.6-6.8-6.4-.4-1.2 .4 0 4 4.4 1 .2 .1-1-4.8-6-.3-1.6 2.2 1 4 5.6 1.8 1.3 1.6 3.1-.2 1.2zM225.3 565.2l-.3-1.4-4-4-1.8-2.7-1-.4 3 5.7 2.6 2.5 1.5 .3zM163.2 567.8l-1.4 .2-3.8-3.2-4.9-6.6 .1-1 3.3 3.6 5.5 3.4 1.4 2-.2 1.6zM537.8 562.4l-1.2-.2-2.4-2.2-1.4-2.8 1-.1 4.3 3.7 .2 1-.5 .6zM123.8 564.4l-1.7-1.2-2.5-4-.4-1.5 1 .3 2.7 2.8 1 2.4-.1 1.2zM193.8 562.3l-1.6-.4-1.1-1.1-.6-2.6 .7-.9 2.2 1.9 .6 1.6-.2 1.5zM197.2 559.8l-1.1-1.6 .1-.9 1.7 1.5-.1 .9-.6 .1zM302 564.8l.9-.6 .5-1-3.6-4.7-1-.5-3.8-.2 .1 1 2.4 3 2.3 2.1 2.2 .9zM308.4 560.8l.5-1-.5-1-1.6-1.2-.6 1.2 1.4 2 .8 0zM513.8 559.5l-1.6-.5-.5-1.2 1.5 .2 .6 1.5zM169.2 593.8l-1-.3-2.4-2.3-.4 0 1 2-.6 .8-8.6-.1-3.8-3.1-4.6-5.2-.6 .6 .4 1 4.5 4 .9 2.6-8.4 0-1.6-2.6-3.9-4-.7-3-2.3-3.4 .1-.8 1 .1 3 2.8 2 .4-1.1-3.1-.2-3-2.1-4.1-7.3-6.9-1-2.4 3.4 1 2.1 3 2.8 2.1 4 1.5 1-.1 .1-1.1-2.1-3.8-5.2-3.2-2-2 .1-1 1.5-.4 .5-1.6 .5 0 3.2 3.6 1.5 4 2.3 1.6 1 .1 .8-.7-1-3 .8-2.6 1 .3 4 4.5 1 .2-2.2-4 .2-.9 2.4 1.7 4 4.4 5 3.1 2 0 3.2 1.3 2 3.4-.2 1.5-2.4-1.3-4.6-4.4-1 .8 .1 2-4.1 1.4-.2 1 2.1 4 3.7-.1 1 .5 4.4 4.9 4.2 3.3 .4 1.7-3-1.4-1.2 .1-.3 .6 1.1 3-.2 1zM256.8 559.5l-1.3-1.3 1.3 1.3zM290.8 566.8l-1-.3-3.6-3.3-1.4 .4-2.2-1.4-3.1-3-.3-.8 .6-.2 1.4 .9 4.6 3.6-.3-2.5 .3-.5 1 .3 1.6 1.8 2.4 5zM249.2 563.3l-1-.4-2.7-3.1-.3-1.3 1.2 .3 2.6 2.4 .5 1-.3 1.1zM259.2 559.9l-.5-.1 .1-1 .7 .4-.3 .7zM392.8 564.5l-5.7-1.7-2.5-3 .1-1 1.1-.2 2.4 1.8 2.2-.2 2.5 3-.1 1.3zM119.2 563.8l-1.6-2-.4-1.6 .6-.2 1.4 1.8 .4 2-.4 0zM244.2 562.3l-1.1-.1-.9-1.5 1.2 .1 .8 1.5zM438.8 564.3l-2-.8-1.8-1.7 .1-1 .7-.2 2.4 1.6 .7 1-.1 1.1zM243.2 566.9l-4-1.9-1.6-2.2-.4-1.8 1 .1 2.8 2.1 1.9 2 .3 1.7zM426.2 590.3l-2-.4-1.4-1.5-1.9-5.6-3.5-6-5.4-5-1.4-2-.4-1.6 2-.2 .7-.8-3.8-4.4 .1-1.3 3 2.6 2.3 4.1 4.9 4.6 1.5 3-1.4 1 .1 .4 5.4 5.6 1.9 3 .6 2-.8 .4 .1 2-.6 .1zM198.8 563.8l-.9-1.6 1.4 1-.5 .6zM561.8 563.1l-1-.3 .2-.6 .8 .9zM177.2 572l-4.4-4.5-3.6-2-2.2-2.7 3.2-.3 4.7 6.3 1.9 1.4 .9 1.6-.5 .2zM195.8 589l-5.8-4.8-3.9-7-4.1-3-3.9-6.4-4.1-4-.2-1.3 2.7 1.3 1.9 4 5.4 6.7 4.4 3.4 2-.8 2.3 2.1 2.9 4 .4 5.8zM525.2 571l-5-4.6-1-2.9 1.6 1 2.4 3.1 2 3.4zM192.2 576.3l-2.1-1.5-1.7-3.6-3.8-4.4-.8-2.6 1-.1 2.1 1.7 5.3 10.5zM555.3 567.2l-3.1-2.7 0 .7 1.6 1.8 1.5 .2zM323.8 570l-2.2-1.8-1-1.4-.1-1.6 .9 0 2 2 .6 1.6-.2 1.2zM291.2 579.2l-2.1-2-3.2-6-3.1-3.3-1-2.2 3 .4 1.6 1.1 .7 2.6 4.3 8-.2 1.4zM239.8 570.3l-3.3-2.5-.3-1.6 1 .3 2.8 2.7 .2 .9-.4 .2zM465.2 574l-1.4-.7-2.2-2.5-1.5-2.6 .1-1.5 1 .3 3.2 3.2 .8 3.8zM512.2 572.2l-2.1-2-.9-2.7 2-.4 1.6 1.7-.8 1 .2 2.4zM266.8 570.4l-1.6-.4-1.1-1.2-.1-1 .8-.2 1.4 1.1 .7 1.1-.1 .6zM318.2 581.3l-1 .1-3.4-2.5-1.1-1.7 .5-.5 2.6 .8 .5-.7-3.2-5 .1-4.2 2.2 .6 4.4 4.7 2-.5 4.1 1.8 4.8 6.6-.9 .1-4.6-3.8-6-1.1-.7 .2 .3 2-1.1 .6 .5 2.5zM464.2 584.3l-4.6-3.1-2.1-2-.8-1.4 .5-1.7-2.4-3.1-2.2-1.2-2.6-2.6-.3-1 .4-.4 1.7 .2 7.3 7.8 .5 2 2.8 3 1.8 3.5zM559.5 570.8l-2.3-2.8-1-.2 .3 1 2.3 2.1 .4 .3 .3-.4zM209.8 573.8l-3.3-3-1.7-2.6 .4-.2 1 .6 3.2 3.6 .4 1.6zM576.2 573l-1.6-.8-2.1-2-.7-2 1.6 .6 2.6 2.4 .2 1.8zM241.8 578.4l-6.8-5.6-.8-4.3 6.6 6.1 1.1 2.2 .2 1.4-.3 .2zM300.2 575.7l-3.1-5.5 .1-1.5 1-.1 1.7 1.6 .3 5.5zM134.8 573.3l-3.3-2.5-.2-1 1.5 .3 2.2 2.1 .2 .9-.4 .2zM283.2 573.3l-1-.1-1.5-2.4 .2-.6 1.3 .9 1 2.2zM428.2 579.5l-3.1-.7-3.5-4-.6-2 .8-.6 .4-1.7 4 3.5 2.2 2.8-.2 2.7zM132.8 593.9l-3.6-.1-3-3.6-.5 .6 1.3 3-1.3 0-2.6-5-.9-3.6 .8-1.4-.6-2-5.3-4.6 .1-1.2 1 .3 .6-.5-1.7-2.6 .1-2.2 3 2.5 2.2 2.7 3.7 7.6 4.7 7.1 2.1 2.3-.1 .7zM202.8 575.3l-1-.3-1.6-1.6-.4-2.2 1-.1 1.4 1 .8 1.7-.2 1.5zM213.8 571.8l-.4-.6 .4 0 0 .6zM259.8 593.8l-1.6 .2-1-.5-6.6-7.3-.4-1.4 1.3-2-1-3 1.4-1-1.4-2-3.9-3.6-.1-1 1.7-1 1-.1 .8 .7 4.4 5.4 .6 1.6-.8 1.1-1-.1 .6 1.6 2 2 3.6 1.8 1.9 2-.5 .8-3.6-1.3-.7 .5 .6 2 2.7 4.6zM295.8 575.8l-2.6-3 .6-1 2.1 2.4 .4 1-.5 .6zM436.2 575.3l-2-1.4 0-1.1 2.3 1.4 .3 .9-.6 .2zM531.8 584.8l-1.6-.3-5.5-6.3 .1-.5 1-.2 2.4 1.4 .7-.1 0-2.6-1.7-3.4 3-.2 2.4 3.6-.8 2 1 3.6-1 3zM135.8 580.3l-2 .1-2.6-1.9-2.1-2.3-1-2 .1-1 1.6 .4 5.6 3.6 .4 .6 0 2.5zM273.2 581.3l-2-.9-2.2-2.2-2.4-3.4-.1-1.6 .9 0 4.1 3.6 1.9 3.4-.2 1.1zM377.5 574.8l-.7-1.3-1-.1 1 1.5 .4 .3 .3-.4zM446.8 577l-1-.1-1.3-1.1-1.4-2 .1-1 3.3 3 .3 1.2zM153.3 580.8l.1-1.6-1.5-4.4-1.1-1.2-2-.1-.4 .7 .7 2 2.4 3.6 1.8 1zM267.2 581.4l-1-.4-3.1-3.2-1-3 .1-1.3 1.6 .5 3.6 4.2-.2 3.2zM554.8 581.3l-4-3.2-1 0-1 1.2-1-.3-1.7-1.8 .1-3 1-.1 2.6 1.9 .5-.2-.9-2 1.8 .7 3.7 3.7 .5 2.6-.6 .5zM177.2 575.7l-1.1-.9 .1-1 1.2 1-.2 .9zM448.2 593.9l-5-.1-1.4-3.2-3.1-2.8-.1-1.6-1.4-2.1-3.4-3.6-2.7-1.7-1.5-3 .1-1.6 1.5 .8 4.6 4.8 .4-.1 0-1.9 1.8 1.4 3.9 4.6 .1 .4-1.2 1 .8 2 6.4 5.6 .2 1.1zM461.2 577.2l-1.8-1.4-.1-1.6 1.6 1 .3 2zM277.8 577.8l-1.8-1-.8-1.9 2.3 1.9 .3 1zM399.2 577.3l-1.7-1.1-.2-1 2.1 .6-.2 1.5zM515.8 577.7l-1.7-1.5 .1-.9 1.7 1.5-.1 .9zM169.8 582l-4.3-3.2-1.2-2.6 1.9-.1 1.8 1.7 1.9 3.4-.1 .8zM210.8 579.5l-1.6-1.1-1-1.6 0-.8 1.6 1.1 1 1.7 0 .7zM231.2 582.3l-2.6-3.1 .6-3 1 .3 1.2 1.7 .4 3.6-.6 .5zM201.8 585.8l-1-.3-2.2-2.3-2.5-4-.3-2 1-.1 1.4 1.2 .6-.1 .4-1.5 1-.1 2.2 2.2 .6 2-.9 2 .3 2-.6 1zM246.2 577.3l0-.6 0 .6zM511.8 579.8l-2.2-2 .2-1.3 1.2 .7 1.3 2-.5 .6zM555.2 593.8l-9 .2-1.4-1.1-.8-1.7 1.3-1.4-4.4-7 .9-.1 5 3.8 3.3 3.7 .7-.4-4.2-5.6-3-5 .2-1.2 7.2 6.8 3.8 4.8 1.5 2.2-1.1 .5 0 1.5zM260.8 582.9l-3-2.5-1-1.6 1-.2 2.7 2.6 .7 1.6-.4 .1zM563.8 582.3l-2.2-2.1-.2-1.4 2.5 2 .4 1-.5 .5zM282.8 585.5l-1-.2-1.2-1.5-1.4-4.7 1.6-.3 2.6 2-.7 1.4 .1 3.3zM539.2 582.3l-2.2-1.1-.9-1 .1-1 1.8 1 1.4 1.6-.2 .5zM448.8 584.8l-3.8-3-.8-2.3 1.2 .3 3.1 3 .8 1.4-.5 .6zM149.8 584.8l-.4-2-1.6-2.6-.6 .1 .4 3.5 2.2 1zM524.2 591.9l-3.4-2.5-5.2-7.2-.1-1 .9 0 2.4 2.4 5.8 7.6 .1 .6-.5 .1zM307.8 583.3l-1.2-1.1 .2-.9 1.5 1.5-.5 .5zM249.2 593l-1-.1-5.2-4.1-4.2-5.4-.4-1.2 4.8 3.2 3 .6 1.7 1.8 1.3 5.2zM227.2 586.2l-2.6-1.4-.7-1 1.3-1.2 2.7 .2 1.3 1.4-1.4 .5-.6 1.5zM220.2 586.3l-1.4-1.4-.8-1.7 2.5 2 .3 .9-.6 .2zM248.2 585.5l-1.1-.3-.9-1.5 1.6 .3 .4 1.5zM269.2 590.3l-1.1-.1-3.5-3.4 0-1 1.2-1.8 2.1 1.8 1.5 3-.2 1.5zM394.2 586.6l-2.6-1.4 .2-1.3 2 1.2 .4 1.5zM440.8 593.9l-7-4.8-3-3.7-.1-.6 1.5-.7 1.6 .6 7 7.9 0 1.3zM466.2 593.9l-5-.1-4.6-6.6-.8-3.2 1 .1 2 1.8 2.2 .3 5.4 7-.2 .7zM386.8 593.8l-1.6-.3-6.2-6.3-.9-1.4 .1-1 7.3 5.4 1.4 2.6-.1 1zM568.2 590.5l-2.7-2.3-1.7-3 .4-.1 2.8 2.7 1.3 2-.1 .7zM526.8 592.3l-1 .1-.9-.6 .1-3-1.3-3 .5-.3 4.2 2.7 .1 1.6-1.8 .4 .1 2.1zM540.8 590.8l-1.6-1-2-3.6 1-.1 1 1 2.1 3.1-.5 .6zM190.8 593.9l-2 .1-1-.5-3.7-4.3-1-1.4 .1-1 1.6 .3 3.4 2.4 2.7 3.3-.1 1.1zM298.8 588.9l-3 0-1.6-.9-.6-1.2 3.2-.1 2.1 1.5-.1 .7zM280.2 593.8l-1.4 .1-1.3-1.1-3.9-5 .2-1 4.2 3 1.9 2.4 .3 1.6zM576.2 593.8l-1 .1-3.5-1.7-1.6-2.4 1.1-2.6 1.6 .4 3.6 5.2-.2 1zM240.8 590.9l-2.6-1.4-1-2.2 2.8 1.9 .9 1-.1 .7zM321.8 591.8l-1 .1-2.6-1.9-2-.1-1.1-1.1 .1-1 1.6 1.1 1.4-1.2 2.8 2.5 .8 1.6zM576.2 589l-1-.6 0-.9 1.1 .3-.1 1.2zM306.2 593.9l-2.1-1.7-1-1.4-.3-2.1 1-.1 1.6 1.6 1.2 3-.4 .7zM434.2 592.3l-1.4 .1-.8-.6-.9-1.6 .1-1.5 2.4 1.1 .8 1.4-.2 1.1zM455.8 593.9l-3.6 0-4-5.2 1-.1 2.6 1.3 2-.3 2.1 3.2-.1 1.1zM399.2 593.8l-6 .1-3.1-3.7 .1-1 5.6 2.8 .7-1.8-.2-1 .5-.1 2.1 2.7 .3 2zM291.2 591.8l-1.1-1.6 .1-.7 1 .6 .6 1.1-.6 .6zM183.8 593.8l-2.8-2-.3-1.6 3.3 2.6 .2 .8-.4 .2zM311.8 593.9l-1 0-1.8-1.7-.5-1 .3-1 2 .9 1.3 2.1-.3 .7zM315.2 593.5l-2.2-1.7-.2-1.3 2.2 1.7 .2 1.3zM371.8 592.8l-1.4-2 1.8 1.3-.4 .7zM137.8 593.8l-2.4-2.6 2.6 1.6 .2 .8-.4 .2zM283.8 593.9l-1.6-.1-1.6-2 .2-.8 2 1 1.1 1.2-.1 .7zM568.2 593.9l-2.4 0-1.7-1.7 .1-1 3 .9 1.2 1.1-.2 .7zM204.2 593.9l-6 0-1.2-2.1 .2-.5 1.6 .7 1.4-.5 3 .6 1.2 1.1-.2 .7zM216.2 592.3l-.2-.5 .2 .5zM254.2 593.9l-1.6-.1-.8-2.2 1-.1 1.6 1.7-.2 .7zM286.8 593.3l-1.1-1.1 .1-.7 1.5 1.3-.5 .5zM538.8 593.9l-6.6 .1-.8-.8-.2-1 2-.7 2.6 1.2 1.4-1 1.7 1.5-.1 .7zM422.8 593.9l-1.1-.1-.5-1.5 1.3 .5 .3 1.1zM474.8 593.9l-2.6 .1-.9-.8 1.5-1.2 2.1 1.2-.1 .7zM519.8 593.7l-.4-.5 .4 .5z"/>
<path fill="#00FFFF" fill-rule="evenodd" stroke="#4a3c36" stroke-width="1" stroke-dasharray="1.8 1.5" d="M501.8 593.9l-9.6 .1-3.7-3.2-2.7-5.2-4.2-2.8-4.4-9.2-7-6.7-6.1-8.1-.2-1.6-1.7-2.6-7.4-8.7-1-2.8-3.8-2.9-1.2-2.1-2-1.7-3-4-.9-3.2-2.8-3-.9-2.6-4.4-5.4-2.2-1.4-3.8-4.4-4-6.8-8-8.7-2.3-4.1-5.3-4.8-3-3.6-4.4-7.8-4.8-4.8-2.5-4-4-3.6-3.3-4.6-2.4-2-3.3-1.4-3.9-4.4-1.8-4.6-3.3-2.4-3.3-4.7-2.2-1.9-2.5-3.4-3.3-1.3-1.7 1.3-1.5 5 .4 4.4-1.9 4 1.5 4.6-2.5 3 0 9-2 5.4 1 2.6 0 9.4-1.9 4 .4 4.6-1 4 0 7 1.7 5-.7 3 .5 4-1 6 .5 1.4-1 3 .1 2.6 1.4 3-1.5 5 1 8-1 3.4 0 3.6 2.4 14.4-1.9 4.6 .5 3.4-.5 5.6 1 4.4 0 6-.5 1.6 .5 3.4-1.3 .8-9.5-.2-.2-4.6 .5-3-1.5-3.4 .5-5-.5-2 0-6.6 1.5-6-1.4-3.4-.6-4.6 1-4.4-1-3 1-2-.5-5 1-3-1-5 1-11-.5-5.6-1-3 .5-13 1-2.4-.5-6.6 .5-2 0-5.4-2.5-8.6 .4-4-1.4-2 1-5.4-.5-4 .5-3.6-1.4-2.4-.6-5 .5-3-1-2.6 .4-3-1.9-4.4 .5-2-.2-2.6-1.1-.1-3 1.9-2.4-1-4.6 1.9-2 .1-1-.2-1-2.2-1.4-.8-1.1 .4-1.9 2.7-3 1.1-1.6-.2-1-1.2-2.4-1-2.6 .9-1-.2-.3-1.5-1.1-.8-2 .1-3 1.8-3.6-1.4-2 1.6-1.8 4.1-1.2 1.2-4 .2-3.4 2.8-3.6 .1-.7-1.3 1-5-.5-1.4 0-5 1.3-2.6-.5-.7-3-.4-7.6 2.4-2.7-2.3-3.3-.8-2-1.2-3 2.2-2 .6-7.4-4-3 1.6-2.6 0-1.4 1.3-2.6 .6-4.4-2.3-3 1.1-1-2.2-1-.6-5 .6-2 1.4-3-.6-3.7-1.1-.7-3-1.2-1.2-3.4-.4-.5 2-1.1 .3-2-1.9-5-1.7-.5-1.1 1.2-2.6-1.1-2-3-.8-3.6-2.6-2.4 .7-1.6-1.1-.1-1.6 1.4-2.6-.4-2.4 1.4-1-.1-.6-2.2-1.6-3-.8 .2-2.6-2.3-3-.3-1.6-1-1-2.7-.8-1.1-1.6 0-2 .6-1 3.2 .2 1.4-1 0-2.7 1.6 .4 .4 2.7 1.6 .5 .7-2.5 2.3-1.3 7.4-7.9 1 0 3.6 1.9 2.4-.5 3 .5 2-1.1 1.1-2.2-.5-.7-2.1-.3 1.1-1.6 1 0 2 1.8 6 .6 1.4-2 2 1 2-1.4 4-.2 2-1.8 3 .2 2-2.7 3-.8 1-2.2 2-1.9 3.6 .8 8-2.3 4.4 2.8 2-1.2 2-2.2 3.2-1.3 1-2.6 .8-.7 6 .5 1.6 1.3 2.4-1.3 4 .4 3.7-2.6 .7-4-3-3-2.2-5-2.2-2.4-1.4-2.6-2.9-2.6-3.4-2-3.4-4.4-1.3-3.2-4.6-5.2-1.2-2.2-10.2-9.8-3.8-5.6-7.8-7.8-2.5-1.2-1.9-3.2-4.8-4.8-1.8-2.7-5.7-4.3-8.7-11.6-3-3.2-2-1.1-3.6-5.3-3.2-3.4-1.2-2-2.8-2.4-4.1-5-2.7-1.8-5.4-5.6-1.3-3.2-1.3-1.1-4-1.7-1.2-2.6-2.2-1.5-1.3-2.1-3.3-2.8-4.2-6.2-7.2-7.2-4.8-3.8-3.5-5.4-4-3.6-3.6-4.4-2.8-1.6-3.1-3-6.2-7.3-1.3-2.1-7.7-8.3-5.6-4.3 0-14 2 .9 1.3 2.1 3 2.6 2.3 3.1 6.7 6.3 6 8 4 3 4.5 5.6 2.2 1.3 2.8 4.1 3.8 3.8 2.5 1.8 3.5 5.6 4 2.6 2.3 3.2 2.9 2 1.7 4 4.3 2.6 5 6.4 3.4 2.6 3.6 4 2.1 3.4 4.2 2 3.2 6 4.5 4 4.5 6 4 3.6 2 3 4.5 4 1.7 2.4 2.1 1.9 2.4 3.8 2.6 1.6 1.8 2.3 2.2 .8 1.7 1.6 1.7 4.2 5.4 5.4 2.2 1.3 .7 2.1 4.7 3.8 2 2.3 5 3.3 .9 2.6 3.7 5.2 2.4 1.6 5 5.6 4 6.3 3.2 2.9 2.6 5 5.2 3.8 5.2 6.6 2.3 4 5.3 3.6 2.6 5 1.6 1.2 2.6 0 2-.9 .5-.3 .5-2.1 2.4 .7 3-1.5 1.6-2.8 3.4 .9 2.6-1 3.1-4.2 .2-3 2.3-3.6 .2-2.4 2.2-1.4 1.3-2.6 2.3-1 1.1-3.6-.5-3.4 1.1-4 2.8-3 2.1-5 1-9 0-4.6-.9-2.4 2-6.6 1.5-1.4-.1-4 1.5-3-1-2.6 .4-2.4-1.3-2.6 .7-1.6 2.1-2.4 .1-1.4-.6-1-1.7-1-.8-2.6-2.7-3 .6-1.2 3-2.2-.6-1.7-2.9-2.9 2.6-3.4-.9-3 1-2.6-.2-2-2-.7-6.6 1.4-5.4-4.3-2.6 .3-5.4-3.3-7-1.8-.4-3-2.6-3.6-1.6-1-3.4 1.3-3-1-2 .4-3.6-1.8-2.4-.2-2-1.3-9.6-2.2-3.4-2.2 1-2.5 5-.8 3.6-2.1 1.4-1.7 5.4-2 3.6-.1 2-1.9 3-.2 2.4-1.3 2.6 .4 3.4-.5 8-3.4 2 .3 5.9-5.2 3.1-.7 .6-.7-10.8-12.6-4.5-6-17-19-13-16-6.5-7-.2-1.6 1.2 .2 2 3 22.5 24.4 15 17.6 8.5 9 2.5 3.4 3.3 3.1 1.4-.4 3.7-2.7 3.9-4.7 4.4-3.1 3-5.3 1.6-.6 .5 .3 2.4 5 2.2 2 .7 3.4 2 3.6 1.6 1.6 3.6 1.6 4-.5 2.4-1 3.6 1 7 0 2.4-1.4 1 .1 .9 2.6 2.7 .4 2.2 9 4.8 2.4 3 2.3 4.4 .6 4.6-2 1.4 .5 1.6-.5 3.4 .1 3.6 1.8 7.4 1.1 7-.5 4 2.4 2.6-1.3 2.4 .9 1.6-.5 2 .4 2.4-1.4 2.6 1.9 3 1.1 4.4-1.9 2-.2 1.6-1.4 1.2 .8 2.2 3.2 2.8 1.2-1.8 2.6-3 2.1-1.4 .1-3-1-3 1-2-.5-3.6 .5-4.4 2.9-2.6 .2-2 .9-3 0-2.4-.9-3 1.1-1.2-.4-1.4-1.7-5 .4-2.4-1-2.6 2-1.4-.1-3-1.4-3.6 0-9 1.5-3-1.9-4-.6-4 1.9-4 1.1-2.4-1.4-1 0-2 2.3-3.6 .7-2.1 1.6-.5 1 1.3 2.6 0 1.4-2.3 2-.7 2.6-2.1 3 .4 1.1 8.8 8.3 4.8 5.8 10.2 9.8 8.8 9.7 8.2 7.7 21.5 22 1.5 3-.8 .8-1-.1-3.4-2.9-8.6-9.5-12.2-11.7-2-3-10.5-11-5-4.6-2.5-3.4-13.2-12.8-3.8-4.8-4.8-4.4-1.1 1.4 .4 1.6-.7 1.6-4 1.7-1.8 1.7 1.9 2.4 .5 5-1.8 3.6-.6 6-.8 1.4 1.3 3.6-1.4 2-.1 3.4 1.9 6.6 .6 4.4-1 4.6 1 8 1.9 3-.5 3.4-3.3 4-.6 1.6 .8 1.1 3 .2 1.1 1.1-.4 4 1.5 5.6 0 4 1.8 1.4 .8 2.6 1.8 2.4-.3 2.6 2.4 3.4 3.3 2.9 1.4 2.4 5.6 2.6 2.4 2.9 2.6 1.6 .3 3.6 1.4 2.6 3.3 1.8 1.2 3.2 .8 .5 .7-.5 .1-2 1.6-.8 1.6 1.1 .4 2.4 1.6 1.2 1.4-.7 2.6-2.8 3.4 .8 3-1.4-.1 3.2 1 1.4 .1 1.6 .6 .2 3.4-1.9 3-.1 6 3 2.6-1.4 3 1.4 6-.9 4 .9 2.4 1.9 2 .2 1 1.3 2.6 .1 .2 2.3 2.2 2 2.6-1.6 3.4 .2 4-1.9 1.6 .1 3 1.9 3.4-.9 1.2 .6 4.4 4.6 5.4-1.2 .6 1.2-1 1.4 .4 .7 1-.1 1-1.6 2-.1 3 2.8 5.2 .3 1 1.6 .2 2.4 .6 .7 5 .9-.2-1.6-14.5-16.4-10.7-11.4-4.7-6.2-.4-1 .5-.5 1.8 1.1 6.5 7 8 10 20.6 23.4 1.7 .8 3 .1 2 2.2 3-2.8 2 1.4 3 .2 2 1.9 6.5-.8-.4 2-3.8 6.6-.1 1 3.6 12.4 5.2 7-1 .6-2.6-1.9-.4 .6-1.6 0 .1 2.3-1.1 1.1-5 .5-1-.8-2.4-.2-1.6-2.2-2 .8-3-1.8-2 2-2.8-1 .6 1.6-.5 1-4.7 2.2-2.6-2.1-.8-2.1-1.6-.5-1.6 1.6-4 1.9 1 3-4.4 1.6-1.6 .1-3-1-2.4 1.5-5-.5-2.6 .5-1.5-1.2 .2-2.6-1.1-.7-3.6 1-1.4-.2-4 2.7-1-.6-.6-1.2-1-.2-1.1 .8-1.3 4.4-1.7 .6-1.3 1.6-6-2.1-1.2 .5-1.8 2.3-.6 0-4-2.1-1.1 .8-.3 1.5-4-.2-1.1 .7-1.5 2.4-2.4-1.5-4.6 3.1-2-1.2-4-.9-2.1 2.5 .3 2-1.6 1.3-5.6-4.5-2.4 .6-1.9 2.2-1.1 .2-1.2-.2-1.4-2.2-1-.4-.5 1 .7 1 .1 1.6-.7 .7-6-3.9-2-.6-2.6 1-2.4 2.6-.5 1.6-.5 .3-1-.1-1-1.2-1.6-.7-4-.4-1.1 .7 4.7 5.7 7.5 6.7 2.7 5.6 4.8 2.8 1.3 2.6 3.8 4.6 .9 3.1 5 4.7 1.7 3.6 5.3 4.4 4 5.8 6.4 5.7 .4 2.1 1.2 2.2 5.7 6.8 3 2.6 6.3 9.1 3.4 3.7 1.6 4.3 9 9.2 1.6 2.1 1.2 3 2.3 2.6 1.9 4.1 3.7 3.3 1 2.6 5.3 5.3 .3 1.7 1.7 2.6 3.4 3.2 3.9 6.2 2.3 2.4 .8 2.2 7.6 8.8 1.8 4 3 4.6 4.2 3.8 1.1 1.6-.1 .7zM500 379.2l-.8-.7 0 1 .8-.3zM497.2 419.3l-2.2-.5-.5-.6 .2-.4 3 1-.5 .5zM201.8 420.5l-.6-.3 0-.9 .6 0 0 1.2z"/>
<path fill="#00FF80" fill-rule="evenodd" stroke="#4a3c36" stroke-width="1" stroke-dasharray="1.8 1.5" d="M347.8 214.9l-11-.4-4.6-1.4-3.4 .4-3.6-1.9-2-.2-2.4-1.3-7.6 .3-1.4-.8-3-.2-5-2.3-4.6-.1-2.4-1.4-3-.2-2-.8-.6-.8 9.6-2.9 3-1.8 6.4-2 4-.2 3.6-2.3 6-1.2 2-1.8 8-1.1 5.4 0 2-.9 4-.6 3.6 0 6 1.5 9.4 0 5 1.6 4.6 2.3 5 .6 3-.4 2.4 1.3 4 .2 4 1 4 1.8 4.6 .7 2.4 1.4 6.6 .1 2 1.7 0 .5-4.6 1.6-4.4 .2-6.6 2.4-4.4 .1-3.6 1.8-4.4 1.1-2-.2-4 1.2-7.6-.5-2.4 1.4-7 1.6-4.6-.5-8.4 1.4zM348.2 487.5l-1 0-1.1-1.3-.2-6-1.8-3-1.2-6-1.4-2.4 1-6.6 0-7-.6-2.4-2.1-2.4-.8-1.6 1.7-4-1.6-2 .3-3-1.9-3 .5-3.6-1-4.4 .5-2-1.3-1.8-7.4-2-3 .5-5-.5-2-1.4-2.6-.6-9.4 .5-7-2-6.6 1-4.4-1.5-5.6 0-2-1.4-5-.6-4 2-6.4-2.9-4-.1-3.6-1.1-1-.7-.9-1.4 .3-1.6 2.3-3.4 .2-1.6 2.3-2.4 .1-3 .7-1.6 3.2-1.4 3.4-3.2 1.6-.4 2.7-3.4 2.7-.4 3-3.3 2.4 .3 4-2.3 4.6-.2 6-4.3 4-.7 2-2.8 2.4-.2 2-1.3 2-.2 2.2-1.2 .2-1-1.2-3-3.8-6.4-1.7-4.6-4.8-7.4-1.9-4.6 1-.2 2 .6 2 1.4 3 4.4 2.8 2.4 9.2 12.1 2 1.8 3.7-1.9 6.3-6.1 2.6-.8 3-2.3 2 .3 1.7-1.1 1.5-4.6-.5-5.4 .6-5 1.8-3 .7-3 1.8-2 .2-4 1.9-2.6-.5-6.4 .7-3.6-.7-2 1.8-1.9 .7 .9-.4 3 1.9 4.6-.4 3.4 1.5 2 0 2.6 1.9 2-1.9 2-.1 1 .8 1.6 2 1.4 .6 1.4 .6 8.6 1 2.4-.4 3 1.2 2.2 2.6 2.8 .8 2.2 5 5.1 3 2.1 1.7 2.2 .7 3 1.6 2 6.6 2.2 5-.5 3 .5 4-1.5 12 .5 4.4 1.6 3.6 3.3 4 .6 3-.3 2.3 2.6 4.7 2.6 4 1.2 4 2.3 2.4-.2 1.9 5.5 2.9 4 3.2 2.4 .4 2.2 2.1 2.4-.9 1.2-3 1.2-2.2 1.6-4.4 4.2-3 1.5-3 .2-2.4 1.1-2.6-.6-3.4 1.3-5.6 .7-1.4 .9-4-.5-4 1-3-.5-2.6 1-4 .5-4-.5-6 1.5-4.4 0-4.6-1-2.4 1-3-.4-2 1.4-3-.5-7.6 .7-1.2 6 .5 5-1.4 3.6-.1 5.4-1.2 3.6 2 5-2.7 2.4 .1 2.6-.7 3 .5 4-2.5 5 0 2.4 .9 3.6-1.5 5-1.8 2.4-1.9 4.3z"/>
<path fill="#00FF00" fill-rule="evenodd" stroke="#4a3c36" stroke-width="1" stroke-dasharray="1.8 1.5" d="M350.8 209.9l-5-.4-8-2.4-3-.2-5.6-2-6.9-3.7-.1-.4 3-1.7 7-2.2 6.6-3.3 4.4-.7 4-1.8 2-.1 2 .1 3.6 1.8 3-.4 5 1.9 2.4 .2 4 2.8 2 .2 6.6 3.2 0 .5-2 1.1-5 1.2-3.6 1.8-6 2-10.4 2.5zM347.8 435.9l-3.2-5.7-1.8-5-5.7-3.4-4.9-4.2-13-.1-8-1-5.4 .5-2-.5-7.6 0-10-5.6-.8-1.1 5.8-2.9 4-2.8 3-.7 3.6-2.3 3-.2 2.4-1.8 2-.2 6-3.3 3-.7 7.6-4.3 11-3.7 3.6-2.7 1.7-4.4 2.3-3 1.7-5 1.7-2.4 2.1 2.8 1.2 5 3 6.6 8.7 7.6 9 1.6 13.4 1 6 1.5 3 .1 6.6 2.3 3.4 .2 9.6 3.8 2.4 .2 6.6 2 9.5 4.7-1.1 1.1-2 .2-7.4 3.8-11 2.6-6.6 0-3.4 1-5-1-6.6 1-12.4-.5-9 1-3-.7-1.6 .3-11.5 7.2-1.8 7-2.1 4.1z"/>
<path fill="#FFFF00" fill-rule="evenodd" stroke="#4a3c36" stroke-width="1" stroke-dasharray="1.8 1.5" d="M356.8 207.9l-5 .1-2.6-.6-4-1.5-3-2-3-3-1.1-2.1 .1-3.7 2.6-2 6.4-.1 3.6 1.1 5 3 3.4 3.5 1.3 3.2-1 2.4-2.7 1.7zM348.8 418.4l-9.6-1.5-18-6.5-5.1-2.6 3.7-2.2 4-.7 7-2.5 6.4-3.8 2.6-.7 3.4-2.3 5-2.1 6 2.1 8.6 4.3 18 7.2 2.5 1.7-8.5 3.1-5.6 .7-12.4 4.3-8 1.5z"/>
<path fill="#FF8000" fill-rule="evenodd" stroke="#4a3c36" stroke-width="1" stroke-dasharray="1.8 1.5" d="M352.2 206.4l-4.4-1-2.2-1.2-2.4-2.3-1.2-3.1 1.8-2.8 3-.5 2.4 .6 4 2.6 1.8 2.1 .9 2-.5 2-3.2 1.6zM355.8 415.9l-7.6 .1-3-.5-7.4-3.1-3.6-3.5-1.1-2.1 0-2.6 1-2 1.1-1.1 3.6-1.6 8.4 0 3 .6 5 2.5 4 3.5 1.8 3.7-.1 2-.9 1.4-1.8 1.7-2.4 1z"/>
<path fill="#FF0000" fill-rule="evenodd" stroke="#4a3c36" stroke-width="1" stroke-dasharray="1.8 1.5" d="M352.2 203.9l-2 0-2.4-1.6-.9-1.5 .1-1 1.8-.8 2.1 .8 2 2 0 1.4-.7 .7zM351.8 413.4l-5 0-6-2.5-2.7-3.1 0-3 1.7-1.7 3-1.1 4.4 0 4.6 1.6 3.4 3 1.2 2.6-1.2 2.6-1.4 1.1-2 .5z"/><rect x="1089" y="17" width="460" height="577" fill="#0000FF"/>
<path fill="#0080FF" fill-rule="evenodd" stroke="#4a3c36" stroke-width="1" stroke-dasharray="1.8 1.5" d="M1159.8 24.9l-5.6-1-11.9-6.7 5.5-.1 5.1 3.1 2.9 2.7 4.4 1.9-.4 .1zM1332.2 593.9l-23.4 .1-2.6-1.9-4.4 .3-4.2-2.6 .2-.7 3-.6 4.4 1 1.1-.3 .2-1-.7-2 .7-1.4-.8-2.6 1.3-1-.8-2 1.8-2.4-1-2 .7-1.6-1.5-1.6-5.4-1.7-5.6-3.1 1.2-1.6 0-1-4.4-3.4-.8-2 2-.2 7.6 5.3 4.4 2 1.3-.1-.3-2 .7-1.6-.9-1.4-3.2-1.7-2.6-.2-1.9-1.7 .5-.6 1.4-.1 2.6 .6 3.4 1.8 1.6-.1-.8-5.6-3-2-.2-1.5-5-2.3-3.1-3.2 .5-.5 2 .4 8 2.7 .5-.6-.5-1-4-2.5 1.6 0 2.4 1.3 1.6-.2 .2-1-2.2-2.2-3.6-.7-11-4.1 0-.7 3 .6 .6-.9-4-1.9-1.7-1.1-.4-1 1.3-.6-.2-1.4 .4-.7 3 .5 3.4 3.2 1.8 1 .8 2 5.6 2.6 3 .6 .5-.8-1.1-1.2-4.1-2.2 .1-1.8-5.1-3.2 6.1 .2 2.6 1 .7-.8-.1-1.4-3.2-2.2-5-.7-4-1.8-1.2 .1 .3 2.6-1.5 .6-5-1.5-5-2.8-3-.1-1 .2-.1 .6 3 4.4-.5 .7-3.4 .6-10.6-5.1-.9-2.2-2.1-1.1-2-.6-2.4 .5-1.6-.6-1-.6-.4-2.1-6.6-3.3-1.1-1.2 .1-1 .6 0 8.4 1.7 1-.7-3.2-4 .8-.4-.1-2 4-3-7.9-4.7-1.6-.1-.5 .8 2.3 2-2.2 .4 2 1.9 0 .7-5.4 0 1.4 1.7 2.5 1.7-.1 .6-1.4 .2-6-1.1-2-1-3.9-3.7-6.8-4-.7-2.4-2.2-1.2-4.4 .3-5-2.8-.5 .1 .7 .6-.8 .7-3.7-.3 1.7 2.3 1.6 .9 3.4 .2 8.6 2.5 4 3.1 0 .6-1.6 .2-5-.8 2 2-1.4 .8-3.6-1.7-.3-1.1 .5-.4-.5-.6-8.7-2.8-2-1.6 .6-1-.4-.6-8.6-4.2-1.1 .2-.5 2 2.8 2.6-.2 1.5-4.6 1.6-7.4-1-4-2-2.7-2.1-.1-.6 1.2-.2 4.3 .8-6.5-5 1.8-.2 7 3.3 .1-.7-.7-1.1-6-4-3.4-.1-5-1.6-1.1-.6 .6-1.6-.5-.1-3.6-.5-.4 1.3-1 .6-6.6-.9-.6 .6 0 1 2 2.6-.8 .2-7-2.4-9.6-1.8 .3 1 2.3 1.6 9 1.7 7.4 3.3 4 1.1 1.1-.3-4.5-2.3-.9-1.1 4.3 .2 2-1 2 .1 4.2 4.1-.1 1-1.1 .7-2.5-.1 1.1 2.1 2.4 1.1 3.6-.4 1.4 .5 7 4.3 8 1.7 3.8 4.7-5.8-1.6-.7 0 .2 .6 7.5 2.8 3.6 2.3 2 .4 1-1.2 1.4-.6 4.5 1.3 .1-.7-2-1.3 0-.6 1.4-.2 5 .9 .1-.7-2.6-1.4 6.5-.2 11.2 4.6 .9 1-.5 3.2 1.4 1.5 3.6 2 12.4 4.5 .5-.2-1.1-1.4 .2-1.6 2.4 1.2 2.6 .2 2.1 1.2 1.9 1.8 .4 1.2-1 .7-3-.6-3-1.7-.4 1.1-2.3 .5 1.3 1.1 5 .7 1.1 .6-.1 1.1-3.6-.8-3.4 0-4.6-1.9-2 .1-.6 2.1 3.6 3-5 0 3.8 3-1.2 .2-6.5-2.2 0-.6 2.5-1-5.6-4.7-.7 .3 .7 2-2.4 .2-4.6-.6-6-3.5-.4-1 5 1.5 3.2 .4-2.2-2.4-.9-1.6-3.7-1.4-2.8-2.6-2.2-1.2-1.4 0-1.6 .9-2-.1-12.4-4.9-.8 .3 .1 .4 3.7 3.1 3.4 .3 1.2 .6 .4 .9-2 .5-1.2 2.6-.8 .8-2.6-.6-4.4-2.3-3.1 .1 .4 1 1.1 .7 6 1.7 2.2 1.2-.2 .7-2 .6-.1 .7 2.7 2 .6 1-.5 2 1.9 1.7 9.4 2.6 10 5.3 5 .1 3.6 1.1 1.1 1.2-.1 1-.6 .2-2-.1-7.4-2.8-6.6-.7-10.4-4.8-3 .4-1.6-.6-3.2-2.2-.3-1.4 5.5 2.5 .6-.5-3.6-2.8-1.4-2.3-5.6-3.1-7.4-1.3-.5-.5 1.7-1-.5-1.6-3.7-2.1-1.6-.1-2 .7 0 .5 3.2 2.6-.2 1.4 1.6 1.6-1 1.5-1 .1-3.6-1.9-.5-.7 .1-1.6-.4-.4-3.5-2 1-2-.7-1.2-6-1.7-8.4-4.7-.6 .6 .9 1 5.7 3-.1 .4-4.1 1.6 .2 1.2 2.4 1.4 3.6-.4 1.4 .6 .8 1.2-2.2 .3 0 .9 9.4 5.6 1.1 1.2-.1 .4-2-.3-6.4-3.5-9-6.3-5 0 .2 1.7-.8 .1-6-4.3-5-.7-1.4-.9-.3-.8 .7-.2 6.6 1.9 3.4 .4-.2-1.1-2.8-3 .6-.5 5.4 2.2 1 0 .2-.7-1.6-1.6-6.2-3.8-3.8-3.7-3-1.1-1.3 .2 3.7 3.9 1.7 .7-.1 .4-8.2-4.4-.1-.6 1.2-.4-.4-1.6 4.2 .6-5.3-5.7-7.4-2.1-3.6-.1-6-3.3-2-.5-2 .5-.6 1.2 .6 1.1 2.3 1.9 0 2 3.8 2.4-3.5 .4-.5 .6 .5 .8 7.4 3.5 3 0 1.6-.7-5.1-3.6 1.5-.1 5.6 1.5 1.2 .6-1.6 1.6 3.5 2 3.7 3.4 3.8 2.6-.2 .6-3 .5-8-3.8-2-.6-1.2 .3 1.2 1.1 16 8.7 1.8 1.6-.2 1.6-3 .8-1 1.4-5 0-3.8-.8 1.2 1.7 6.6 3.2 .7 1.1-4.3 .3-3-.5-2.4 1.2 0 1.6-1 .6-9.6-5.3-2.4 0-2.6 2.3-2.1-.6-1.1-2 .2-1.6 .6-.2 4.4 .5 2.6-.5 5.4 1 1.9-.2-1.3-1.2-6.6-2.2-2-1.6 .6-.8 1.4 0 5.6 1.9 1.2-.1-3.5-3 .3-1.2 1.4-.1 4.6 1.1 6 3.8 2 0 .5-1.2-1.9-4-2.5-2.4-5.7-3.2-6.4-2.7-2-2-.6-1.2-8.4-5.1-5.3-.8 .6 1 3.8 2.4 .4 .6-.5 .7-7.6-2.9-2.4-.6-2.3 .2 2.3 1.7 5.5 1.9-.1 .6-2.7 .4 1.3 1.1 5.9 .9 .1-.6-1.3-1.4 1.3-.3 3.4 1.5 1.1 1.8-3.3 0 1 3.4-1.2 1.2-1.6 0-4.4-2.8-6-1.6-1 .2-.1 .6 1.1 2.5-5 .2-3.6-1-2 0-.7 .7 .8 2-2.5-.7-3 .4-5.7-2.7-.1-18 .8-.6 2.2 .2-.2-.6-2.6-.9-.2-.5 0-10 .2-.8 3.6 .5 .5-.7-4.1-2.5-.2-1.1 0-406.4 .2-1.3 3.6 1.3 .5-.6-1.1-1.6-3-.8-.2-.6 0-10 .8-.5 7.4 3.3 1-.2-1-1.6 1-.1 14 6.8 4 1.2 1.2 1.1-.2 .4-6-1.2-9.4-2.9-1.3 .3 .2 1.4-.5 .5-3 0 1 .6 13 2.7 2-.8 2.6 .4 1.6 1.2-.7 2 1.5 1.1 4-.4 5.6 2 .5-.7-6.5-4.6 .4-1-.7-1.4 .3-.6 6.2 1.6-.6-3-.6-.7-5.6-2.5-1.4-.1-3 1.7 1 1 .2 .6-.8 0-1.7-1-.2-1-1.5-1.2-4-2-15-6-5-1.2-.8-1.2 .1-5.4 1.7-.2 5.4 3.5 1.3 1.7-1.3 .4 .4 1 6.2 3.2 5 1.6 1.9-.2-.5-.6-8.4-3.3-.6-1.2 3 .4 6.6 2 8 4.8 6.4 2.2 9.6 4.4 1.4-.2 1-1.2 4.6-.3-1.7-2.6 .1-1.2 4.6 1.6 3.4 2.3 3.8-.1-.2-.6-8-4.2-.6-3.4 9 2 1.1 1.2-.1 1.5 6.6 3.8 5 4.3 3.4 1.3 .9-1.9-2.6-2-.5-2-1.3-1.6 1.1-1.1 2 0 7.1 4.1 5.9 5.8 3 2 1.2-.2-.7-1.6 .2-1.4-4.7-2.5-.3-.5 7.3 .2 5.4 2.4 2.1-.2-29.5-14.8-1.6-1.2 .4-1 3.6 .9 13.6 7.3 23 10.5 2-.8 6.4 2.4 1.1-.3-.1-2 .6-.2 3 0 2.3 .8 .1-.6-3.4-1.9 0-.5 4.4-.5-.4-1.5 .4-.3 4 1.6 4 2.8 2 .1 .8-.8 .2-2.4-1.4-1.2-6-2.5-3 .3-5-2.8-5.6-2-1.4 .2 2 1.4-.1 .6-.9 .2-2-.1-5-2-1.6-1.1-3-3.7-8-3.1-.4-.8 .9-1.4-.9-1.2-9.6-4-2 .4-2.6-1.2-.4-.6 .6-.7 3 1 .7-.3-.1-.4-5.8-4-3.4-3.2-4-1.2-7.4-3.8-2.6-.6-4.4 1-7-.6-7-3.8-8.6-1.2-.5-.6 .4-1-.3-1-5.6-3.5 0-.7 2-.1 3.6 1 4 0 7.4 2.9 5 .7 8 4.8 7.6 2.2 5 2.8 .9-.1 .1-.6-2.6-1.8-1.4-3.6 1.4 .3 8 4.3 2 .6 3.6 0 5.4 1.8 0-.7-1.4-1.5-5.6-1.2-3.4-2-2.6-2.9-5.4-4.4-5-1.2-2.5-1.7 9.5-.2 3.4 1.1 4.1 2.7-1.6 1.4 .4 .6 7.1 4.3 2.6 2.3 3.4 1.5 4 .6 1-.2 .3-1.1 .7-.1 7.6 3 .5 1.1-1.1 .6 .6 .5 5 2.4 2-.2 2.4 .6 1.4 1.1-.8 .6-3-.9-1.6-1.1-5.4-.8-2 .4-4-1-.7 .4-.3 1.5-3 .2-5-1.1-3-2.8-4.8-1.4 3.8 2.9-.1 1.7 .5 .6 5.6 2.1 5.4-.5 1.6 .6 1.4 .9 5 5.4 6.6 2.7 .5 1.2-.5 .2-3.6-1.4-1.2 .2 2.2 2.6 9.6 5 7 2.2 4.4 3.3 5 .7 6.6 1.9 .7-.3-.5-1.4-2.2-2.2-2.6-.8-.2-.6 2.2-.1 4.6 2.2 .4-1.2 1.6 0 1.6 .7 .7 2 1.7 .6 8 .7 4 2.3 1-.1 0-.5-2-1.7-4.6-1.1-8-4.4-4.4-1.1-4 .4-4.6-2.5-.4-.6 1.5-1.6-2.8-2-.3-1.6-2.5-2.4 .5-.8 2 .2 2 1 2 2.3 3.6 1.5 .8-.2-.2-.4-2.6-2 0-.7 1.4-.8 3 .8 1.1 .7 .9 2.4-.4 .6-2-.2-.2 .6 3.2 2.2 5.4 1.6 2.6-1.5 6 2 2.7-.3-2.7-3.2-2.7-1.8 .2-1.4-.5-.8-7.3-3.8-.7-1 .8-1-.4-.6-2-1-5.4-1.2-1.7-1.2-.3-1 2.4-.1 4 2.3 5.6 1.6 4.4-.4 2.2 1.2 1.4 2.1 3 1.4 .4-.1 0-1.5 2.6-.3 .1-.6-3.7-2.2-5-1.2-1.7-1.6 1.3-.3 2.4 1 .8-.3 .2-1.1 2.6-.1 2 .6 3.4 1.9 .8 2.7 2.2 2.2 3.6 1.6 3.2 4.2-4.2-1.2-.8 .2 .1 .6 3.1 1.6 4 .7 5 3.8 3 .5 .5-.6-1.1-1.6 .2-2-2.2-2 .2-.6 1.4 0 5.6 3.4 7.4 .5 .6-.7-2-2.4-3 1.6-3.2-1.2-.4-1 1.8-1-.3-1.6 2-.4-.3-.6-11.2-6.6-3.4-.2-5.6-1.9-1.8 .3 .9 1.4-.5 .8-3-1.1-.6-1.1 1.5-1 0-1 .5-.3 5.6 1.1 5.4 2.1 1.6-.7 .5-1.2-5.1-2.9-8.4-1.5-4.6-1.5-2-1.5-1-2.2 1.6-.1 6.4 2 9.6 5 9.4 1.5 1.5 1.2-1.9 .3-1 1.1 1.3 3 1.1 1.2 3.6 1.6 4-.4 3.4 2.4 .8 1.8 1.8 .6 1.4 .3 .3-.9 1.3-.3 4 1 1.1-.7 1.1-8-1.9-3 0-1.6 1.4-2-2.4-3.4 .7-2.6-.9-2 1.9-.5 .5-.9-.8-1.6 .4-2-2.1-2.2-2.7-1.8-.4-1 3.5 .8 2-1 21 0 1.3 .2-.1 1.6 1.5 2 .1 .4-1.8 1 1.1 3-.8 1.6 1.4 2.4-.2 2 4.6 6-.5 .6-2.6-.8-2 .2-.1 1.6 1.1 1.7 2.6 .6 1.4-1.1 1.6 0 4 1.3 2-.8 3 0 2 .6 2.7 2.7 .3 1-2 .1-7-2.9-4.3 .2 .3 .6 3.4 1.6 9 2.7 11.6 5.3 2.4 .6 .6-.8-.6-1.4 1.1-1.6-1.7-1-.4-1 5-.3 .5-.1-.3-.6-3.6-1.6-7-1.7-3.8-4.1-4.2-2 .3-1 2.7 .3 3.4 3.3 11 5 5 1.3 .3 .5-1.4 1 3.6 2.6-4.4 1 4.5 2.4-.1 .6-2.9 .2-3-.4-.2 .6 1 1-2.4 1.8-8-3.9-2 .1 0 1.6 3.6 1.8 2.2 2.2 .3 1-1.5 .4 .7 1 4.7 2.2 5.6 1.1 1.2-.3-1-3 .2-1.1 1-.6 2 .4 .2-.7-6.3-4 .7-.1 1.4-.1 3.6 1.1 7 3.8 4 .7 .2 2.2 3 3-3.7 .4 2.1 2.6-.2 .6-3.4-.9-1.6 .2 0 .5 2.6 1.7 3.4 1 2.6 .1 2-1 4.5 .2-.5-1.1-4-2.1-.7-.8 .1-.6 11.6 1.9 2-1.4 2-.1 1.4-1 3.3 .2-2.3-2.1-5.6-2.9-.4-.4 .6-.8 4 .5 .5-.3 .1-1-2.6-2.1-5.6-2.8 0-.7 6 1.7 .6-.5-.3-1 1.3-.3 4.4 1.9 1.6 .1 .7-.3-.3-2 1-.1 2.6 1.4 .4 1.7 .8 .6 6.8 2.3 4 2.3 4 1.1 2.5-1.7-2.5-1.7-4.6-.7-2.4-1-1.6-1.6 .1-1.6-.5-.3-5-1.5-2.2-1.2-.8-1-6.7-3.4-3.5-4.6-.4-3.1-4-3.9 0-.5 1-.2 4.6 1.6 3.4 3.3 8 2.2 3 3.4 2.6 1.4 5 .6 1.7-1.2 .3-1-1.8-1.6-1.3-2 .5-.5 7.7 3.5 .1 .6-1.8 .3-.1 .7 4.1 3.1 7.6 3 .7-.1-.5-1.6 .8-.2 5 1.1 7 3 1.5 1.1-.7 1.6 2.2 1.2 .4 1.3-4 .1-6.4-2.8-1 .1-.3 .5 1.1 1.6 4.3 2.4 .1 .6-1.3 .4 .5 1.3 4.6 1.9 2.4 .1 2.6-1 4 .9 .4-1.2 2-.4-2.6-2 1.1-2-.3-.6-5.6-3.2-4.2-4.2 .2-.7 2 .5 2.4 2.3 5 .2 .7 .7-.6 1.4 .8 1 5.1 1.7 1 0 .2-.7-2.6-2.8 9.4 1.2 3 1.9 2.6 3.4 5 1.6 7-3.1 .7-1.2-1.3-2.1-2.4-2.6-4.8-2.7-.3-1 1.1-.3 3 1.1 3 2.3 4.4 2 1.6 .2-.6-2 3-.1 5.6 2.6 2 1.4 .7 1.2-5.7-1.2-1 .2 1.3 1.6 2.7 1.6 5 1.4 1-1.3 4 1.4 2-.8 1.4 .5 3.7 4.2 .6 2.4 3.9 2.6 1.7 2.4 2.1 1.2 3.6 1 .9-.6-1.2-2-3.9-3-.6-1 2.8-.5 1.4-1.3 2 0 .8 .8 0 418.4-.2 1.1-2-.1-.3 .6 2.4 1.4 0 2.6-.7 .2-5-2.9-1 0-.5 .7 2.5 2.1 4.6 1.3 .2 10-.8 .8-5-1.9-1.7 .1 6.9 3.6 .5 2-.7 .1-7-4.3-3.4-1.1-3.6-.5-2.4 .7 1.1 2.1-.1 .6-4.6-2-2.2-2.2 2.8-.3 1.2-.7-.1-.4-9.7-5.4-1.3-2.6-2.1-1.2-3-.1-.6 .7 4 3-1 3.6-1 .2-4.9-1.2 .9 1.1 3.7 1.9 1.3 2.1 4 2 7 2.2 1.4 1.7 2.2 1.2 2.2 2.8-1.2 .1-2-1-2.6-2.9-1.4-.9-9.6-2-3-1.5-.4 .2 .3 .4 2.7 .6 1.6 1.4-.6 1.2-3.1 .4 3.1 1.3 2-1.1 2.4 1.1 3 2.8 6.6 3.3 4.4 4.3 7 3.4 6 1.2 .7 .7 .1 1.4-.8 .8-4 .5-2-.4-2.3-2.3-3.7-2-.3-1.6-1.7-1.7-3.4-1-2.6 0-.4 .3 .2 .4 2.3 2 .2 1-9.3-.1-1.5 1.1 .1 2-1.4 1 5.6 3.6-.2 1.1-2.1 .3-.1 .6 1.2 1.1 8 3.2 4.5 3.1-1.5 .2-12-6-2.8-2.6-.2-1.6-2.6-3.2-6.6-3.8-.3-.4 2.5-.3 .5-.7-1.5-2.3-3.6-2-.5-1.3 1.5-.2 2 .6 5.6 3.8 4 .6 2.8-1.2-.4-1.6 3-1.4-.3-1-5.7-3.2-3-1-1.2 .2 .5 1.4-1.3 .2-1.7-1.2-.2-1.4-.5-.3-4.6-.6-3.4-1.4-2.6-.1-3.4-1.5-.4-2.1-4.6-2.5-.1-1.1 1.5-.2 5 1.6 .6-.1 .1-.7-2.7-2.2-3-1.5-6-.1-10-2.5-1.2 .3 .8 1.3 1.5 .7-.5 .1-6.6-3-1.2-1.7 4.8-.7 6 1.9 5 .6 .5-.8-.5-.7-4.6-2.9 5 .4 .8-.2-.1-.6-9.1-4.6-7-2.5-8-.6-4-1-1.5 .3 9.5 5.1 1-.1 .1-1 .9-.5 2 .3 8.1 4.2-3.1 1.2-4.6 0-1.4-.6-3.6-2.8-7-1.6-1.2 .2 1.2 2-1.4 .2-4-1.9-.3-1.7-1.7-1.3-.8 .3-.2 1.6-3.3-.2 .3 1.7-8.6-1.1 4 1.8 4.6 3.4 1.5-.2 .1-1-.7-1 .5-.8 9.8 2.2 2.2 3.2 8 3.2 4.6 3.2-.6 .5-2-.9-4-3-4 .5-9-4.3-1 .1 1 2.7 4.1 2.8-.1 .6-1.2 .4 .8 1.2 5 3 10.4 4.5 4.6 0 .2-1.7 .8-.2 5 .6 4.4 2 3.1 2.2-1 1.4 1.8 2.6 6.1 2.8 5.2 3.2 1 2.4-.7 .6 .1 1.4-1 1 6 3.8 2 2.2-.6 1.2-3.4 .6-6-1.7-.3-.5 1.2-.6-.3-.4-3.2-1.4-3.4-3-1.1-2.6 .1-1.6-.9-2-2.7-1.6-2-.6-2.5 .2 1.5 4.6-.4 .1-1 0-5.6-2.8-2-.3-.3 .4 2.4 2.6-1 1 .2 .4 3.3 2.3 1 1.8 3.6 1.9 4.2 6 3.2 1.9 4 1.2 1.4-1.6 1.6 .4 2.4 2.3 2.7 1.4 .2 1-.7 1-2.2-.4-3-1.8-5.4-.2-1-1.2 0-1.7-1-.6-7.6-1.9-3 0-2-.6-.7-1.2 1.7-.3 .2-.7-2.6-3.6-4-1.6-2.6 1-3.4-.6-.8-1.2 1.2-2-.4-.6-3.6-1.5-4-.7-4-2.8-3.4-.1-3.6-1.1-2.4-1.4-2.6-2.9-5.5-2.9 .5-.6 7.6 1.3 .1-.7-1.4-2 5.3 .1 4 2.9-1 1 0 1.2-3.6-.2 .3 1 2.7 2.2 2 .6 3.6-.9 3.4 2.3 2 .6 2.6-.1 .4-.1-.4-.6-8-3.4-.4-.6 1.8-1.1 2.6-.2 .6-.7 0-1-1.3-1.4-.3-1.6 4.8 0-1.8-2.2-2.6-1.4-2.4-.1-2 .9-3.6-1.8-2.7 .2 4.9 5 .1 .4-.7 .2-5.6-1.2-1.5-1.4-1.6-2.6-.3-1.6-2.6-2-3 .3-5-2.4-5-.5-1.4 .7-.1 .5 2.5 1.7 3 1 4-.4 3 1.2 .3 .5-1.5 .6 1.2 2-.4 .6-7-.9-1.6 1-4 .5-4-1.1-1.4-1.1 1.4-1.6 5 1.3 3-1.3-8.4-4.6-4-1.5-1 .1-.1 .6 2.1 3-2 1.1-2.6 0-5-1.8-1.2 .1 .8 1.2 5 1.2 7 3.4 .2 2.2-.2 .6-1 .1-4-1.5-3.6-2.8-4-2-1.9 .2 4.9 4.1 6.2 3.3 1.2 3 2.5 3 2.3 1.6 .3 .4-.5 .2-6.4-2.2-1.6 .8-1.4-.1-6.6-3.3-5-1.7-4.9-5.1 2.9 .1 .6-.7-2.6-1.6-3.6-1.4-.4-.4 .5-1.6-3.5-.7-2 1.6-4.4-3.1-1-.1-.2 .3 1.3 2-.1 .7-6-2.2-.3 .5 1.1 1.6 3.6 2.1 4 .7 2.2 1.2 .1 .4-1.3 .3-2-.9-1.2 .2 5 4.4-.8 2.6-3.4-.9-3-2.3-4-2-3.3 .2 1.3 1.6 7.4 2 .6 1.4-2 1.2-4 0-2.6-.6-7-3.3-.4 .1 .4 .6 5 2.1 .8 1.3-2.2 .8-3.6-.8-1 .7-1.4 0-2.6-1.4-1.8-2.3 1.8-1.1 2.9-.3 .5-1-.4-.6-3.4-1.2-4.6 1-12.4-3.4-.5 .2 .8 1 4.2 2.4-1.2 1 .1 1.6 4.6 1.6 2-.3 1.4 .5 1.6 .9 .7 1.3-.7 1.1-3.6 .1-2.7 1.2 .6 1 2.7 2-1 1.2-4-.5-5.6-2.4-1 .3 .4 1 12.2 5.6 8.4 1.2 .8 1.2-9.2-.3-1.6 1.5-4-.9 .3 1.7-.4 1 3.8 3 .6 1-7.3-1.7 .1 1.7-2.1 2.7-9.4-3.9-.6-.4 .1-2-2.8-2 1.7-.1 3.6 1.8 4.4 1.1 .8-.2-.2-1 1-1-1-1.2-2.6-.9-2 .7-4.4-1.8-6-1.6-5.3 .2 1.1 1.6 3.3 2-.1 .6-1.6 .4 1 2.5 10 4.3 1 1.2-1 .6-11.4-4.1-.6 .5 .3 1 2.7 1.6 9.6 3.1 .5 .7-1.1 1.2-1.4 .1-7.6-2.3-1.4 0 4 1.9 .5 1.1-2.1 .3-3-1-1.1 .3-.1 4-1.4 3 0 1.4 2.2 1.7 6 .7 2.1 1.6-.1 1-1.1 .6 0 1 5.1 1.8 1.5 1.2-.5 .7-3.6 0-3.4 1.4-1.4-1.1 1.9-2.6-.2-1-5.9-2.6-2.5 .2-.1 2.4 1.9 2.6-.3 3.1 1 .6 3.6 0 3.4 1.1 1.3 1.6-1.3 1.3-3.4 0-4-1-2.1 .3 1 2.4-.7 1.6 .8 1.2 8 3.6 1.6 1.6-1.2 .3-6.4-1.9-1 .6 1.2 2.6-.2 .5-2 .3-1.2 1.2 0 2 1.4 2-1.5 1.4 1 2.6 3.2 2.4-1.5 .1-1 .6zM1203.2 20.4l-6 0-4-1.5-1-1.7 8.6-.1 3.1 1.7-.7 1.6zM1226.2 33.4l-2 0-3.1-1.6 .2-2-1.1-1 .2-1.6-1.6-1.1-5-1.7-1.7-1.6-.1-1 4.2-.4 5-2.1 .4-.5-1.5-1-.3-.6 .4-.1 5.6-.1 3.6 1.8 2.4 2.8-6-2.5-2.8-.3 3.2 2.6 8.2 4.8 1 1 .1 1-.7 .2-5-2.8-1 0-1.4 3.6-2.6-.2-.8 .8 .6 1 2.2 1.4-.6 1.2zM1290.2 20.8l-2.4 .1-5.5-3.7 3.5-.1 3.6 2.1 .8 1.6zM1292.8 17.9l-1.6-.1-.4-.6 2-.2 .4 .2-.4 .7zM1410.2 22.9l-2.4 0-2.6-1-6.1-4.1 .7-.7 1.4 0 2 1.8 6.6 2.7 .6 .6-.2 .7zM1459.2 19.9l-4.4-1-2.5-1.7 2.9-.2 2 .6 1.8 1.2 .2 1.1zM1467.2 18.1l-1.2-.9 .9 0 .3 .9zM1491.8 23.4l-2.6 .1-1.4-.6-1.2-1.1-.6-2-3.5-2.6 3.3-.2 3.4 1 1.6-1 2.4 .2-1.7 2 .1 1 1.6 2-1.4 1.2zM1513.8 22.8l-1 .2-3.6-1-3 .4-5-2.5-3.2-2.7 5.8-.1 4.4 2.8 4.6 1.2 1 1.7zM1548.2 22.3l-1.4 .2-5-1.1-3-2-1.1-2.2 3.5-.2 6 1.6 1 1.2 0 2.5zM1207.2 19.3l-2-.4-.4-.7 .4-.5 2 .4 .6 .7-.6 .5zM1383.8 18.9l-1.6-.6-.2-.5 1.8 .4 0 .7zM1478.8 19.4l-1.6 0-1.7-1.6 2.3 .3 1.1 .7-.1 .6zM1267.8 22.4l-2 0-2.6-1-1.5-3.2 4.5 1.9 1.7 1.7-.1 .6zM1269.2 19.4l-1.2-1.2 1.8 .5-.6 .7zM1391.2 29.8l-4-.9-2-1.8-5-2.7-1.4-1.8-8.6-3-.5-1.4 1.1-.2 4 1 1.4-1.2 1.6 .3 3.4 2.8 12 4.7 .9 .6-.3 .6-4.3 0 1.7 3zM1440.8 19.9l-2-1.1 0-.6 1.4 .3 .7 .7-.1 .7zM1256.8 22.8l-1.6 .1-7-3-1.4-1.1 3.4 .3 6 2 .7 .7-.1 1zM1259.2 20.9l-1.4 0-1.8-1.7 2.2 .4 1.2 .6-.2 .7zM1394.2 37.4l-2 0-13.2-6.6-.7-1 1-1-.9-1-3.3-2-2.5-2.6-7.4-2.8-.7-1.2 1.7-.2 4 .9 4.2 4.3 8.5 4 .4 .6-.5 1 5.4 2.3 2.4 2.7 3.8 2-.2 .6zM1181.8 23.3l-3.7-1.5-.3-1.7 1-.6 3.1 1.3 .9 1.4-1 1.1zM1402.8 28.4l-2 0-5.6-2.5-2-2.3-6.4-2.7-.6-1 4.6 1.2 3 1.5 3.4 3.3 4.6 1.2 1.1 .7-.1 .6zM1411.8 27.4l-7.6 0-1-1.2 .2-1.4-.6-1.2-1.2-1.4-2-1-.6-1 1.2-.1 2 1.9 5 1.6 4.7 3.2-.1 .6zM1169.8 21.8l-2.8-1 .2 .5 2.6 .5zM1487.8 29.3l-2 .1-3.6-1.8-3.4-1-3.6 .4-2-.6-.5-.6 .6-1.6-3.5-3 .4-.6 1.6-.1 4 1.1 2.4 1.4 1.6 2 1.2-.2 .8-1.3 2 .6 3.7 4.1 .3 1.1zM1240.2 23.9l-1.1-.1-1.1-2.6 2.9 1 .3 .6-1 1.1zM1293.8 27.4l-10-2.9-1.3 .3 1 1.4-1.3 .3-6-1.1-1.4-.6-.1-.6 1.5-.7 3 .3-.4-2.6 6-.1 9 5.1 0 1.2zM1469.8 26.4l-6.6-3-1.7-2.2 3.7 1.4 2 1.8 2.7 1.4 .3 .4-.4 .2zM1544.2 25.9l-5-1.5-4-2-.5-1.2 1.5-.2 3 1.1 4.2 2.1 1 1-.2 .7zM1524.8 23.5l-1.2-.7 .2-1.2 .4-.1 1.1 1.3-.5 .7zM1357.2 25.8l-1 .1-2-1-2.4-2.1 0-.6 1.4-.2 1.6 .6 2.2 2.2 .2 1zM1444.8 23.4l-1.7-.6-.3-.9 2.4 .8-.4 .7zM1198.8 28.9l-8.6-1-2-.5-1.4-1.2 1.5-.4 1.3-3 1.2-.2 8.1 4.6 .4 1-.5 .7zM1144.9 25.8l.3-1.1-4.4-1.7-5.5 .8 .5 .6 2.4 .2 3.6 1.4 3.1-.2zM1548.8 33.8l-1 .1-7-2.4-3 .4-5-2.8-10.6-3.7-1-1.6 3.6 .2 3 1.9 10 3.1 7 1 1.4-1.3 1-.1 1.7 1.2-.1 4zM1537.2 26.8l-1 .1-2-1-1.4-1.5-.1-.6 3.1 .3 1.6 1.7-.2 1zM1097.8 27l-3 .2-2.3-3 1.3-.2 3 1.1 1.5 1.1-.5 .8zM1444.8 25.9l-2 0-1.8-1.7 2.8 .4 1.1 .6-.1 .7zM1452.8 38.1l-7-2.2-1.4-1.7-3.6-2.3 0-1.7-2-2.2-4.7-2.8-.3-.8 5.4 1.2 4.6 3.8 5 2.2 .8-.4-1.3-2.4 .2-.6 1.7-1.5 2.6 .4 5.1 3.1 2.9 3-.6 .8-3-1-1 .2 .3 1 2.5 2 .2 .6-.4 .1-5.6-1.4-1.4 .1-.2 .6 1.2 1.9zM1533.8 35.9l-2.6 .1-2-.6-4-4.3-5-1.6-2 .9-4.9-3.2 2.9-.4 0-2 .6-.3 4 1.1 6 4.3 6.4 2.8 .9 2.5-.3 .7zM1509.8 27.9l-5.6 0-2.2-2.7 4.8-.2 2 .6 2 1.2-1 1.1zM1258.2 26.4l-.7-.6 .9 0 .3 .4-.5 .2zM1305.2 27.8l-2 .1-1-1.7 1.6-.4 1 .3 .9 1.1-.5 .6zM1347.2 28.5l-2.4-.1-1.3-.6 .1-.6 1.6-.6 2.2 1.2 .3 .4-.5 .3zM1119.2 29.9l-3-1-1-1.5 2 .2 2.2 1.6-.2 .7zM1248.8 30.8l-2.6-.9-3.4-2.1 .1-.6 4.3 1.4 1.6 1.2 0 1zM1341.2 30.8l-5.4-.9-1.2-1.7 .1-1 1.1-.1 5 2.5 .7 .6-.3 .6zM1379.2 35.3l-1.4-.4-2.6-2.3-3-1.5-2 0-1.4 .6-.6 1.1-1 .1-1.6-1.1-.1-.6 1-.4-.8-2 2.1-1.2 1.4 0 2.6 2.3 6.6 3.3 1 1-.2 1.1zM1145.8 39.9l-4.6-1-3.4-1.5-1.6-1-.8-1.6-2.2-1.2-1.4 0-1 1.2-1-.5-.3-.5 1.2-1-.5-.8-7-2.6-.5-1.2 2.1-.2 5.4 1.6 3.6 2.8 8.4 3.7 3.3 2.7 .3 1.1zM1144.8 31.9l-6-1-1.2-.7-.4-1 6 .9 1.7 1.1-.1 .7zM1514.8 38.9l-2.6 0-4-1.9-2.5-2.8 1-2-2-2.4 .1-.6 1.4 .4 2.2 1.6 .4 .6-.6 1 .3 1 6.4 4.4-.1 .7zM1495.2 30.9l-1 0-1.2-1.1 1.2-.2 1.2 .6-.2 .7zM1258.8 34l-4.6-1.6-1.2-2.2 2.2 .4 2.6 1.5 1.5 1.1-.5 .8zM1365.2 38.4l-6.4-3.5-1-1.9-3.6-1.6-.1-.6 1.7-.8 3 1.1 6.5 4.7-.1 2.6zM1443.8 37.3l-1.6 .1-7-2.5-3.7-3.1-1-1.6 1.7-.2 5 1.6 2.9 2.6 3.3 2 .4 1.1zM1099.8 33.4l-3.6-1-1.7-1.6 1.7-.2 2.6 1 1.1 1.2-.1 .6zM1124.2 43.9l-3.4 0-6-2.5-.5-.6 .5-1.6-1.4-1.4-6.6-1.9-3-2.1-.5-1 .9-.7 5.6 2.3 2.7-.2-.3-.5-4.4-2.5 .4-.5 3.6 .9 7 3.2 1.4-1.2 1-.1 5 2.1 .5 .6-.9 .8-4.9-.8 6 4.6-.1 1.1-2 .8-.6 1.2zM1226.2 37.5l-3-.6-3-1.5-7-4.1-.2-.5 1.2-.2 4.6 1.5 6.6 3.7 1.4 1-.6 .7zM1279.8 32.9l-1.6 0-1.7-1.7 2.3 .4 1 .6 0 .7zM1512.8 50.8l-3.6 .2-2-.6-3-2.8-8.1-3.8-1.2-1.6 .3-2.1-1.4-1.5-4-2.3-2.6-4.1 2.6 .4 4.4 2.9 2.2 2.3 .3 2 2.1 1.4-.1 1 1.1 .7 2.4 .6 1.6-1 4 1.4 2.4-.4 3.6 1.2 0 .7-4-.9-1 .8-2.1 .5 5.7 4 .4 1zM1518.2 33.8l-1.1-.6-.6-1 1.9 .6 .4 .4-.6 .6zM1410.2 33.3l-1.4 0-.8-.5 1.8-.1 .4 .6zM1424.8 35.5l-2.6-.6-2.4-1.7 1.4-.2 2 .6 2.1 1.2-.5 .7zM1252.2 38.8l-3.6-1.6-2.1-2-.3-1 4 .8 .5-.2-.5-1.4 6.7 2.8 .1 .6-.8 .2-4-.3 0 2.1zM1220.8 38.3l-3.6-1.4-.7-1.1 1.7-.2 2 1 1.1 1.2-.5 .5zM1485.8 37.9l-3-.5-1.1-.6 0-1 2.5 .3 1.7 1.1-.1 .7zM1106.2 43.8l-1.4 .1-8-2.5-.7-.6-.3-2 .4-2 3.6-.7 5 2.5 .4 .6-1 1.6 2.1 2-.1 1zM1347.8 38.3l-2.2-1.1 0-1 2.2 .8 .5 .8-.5 .5zM1435.8 37.9l-2.6-.5-.7-1.2 2.7 .4 .7 .6-.1 .7zM1138.2 40.8l-6-1.9-1.4-.9-.8-1.2 1.8-.3 3 1.1 3.4 1.9 .6 .7-.6 .6zM1531.8 40.8l-3.6-1.4-2.2-1.6-.2-.9 4 .7 2.1 2.2-.1 1zM1172.2 39.9l-4.4-1.4-3-.2-.5-.5 3.9-.7 4.6 2.1-.6 .7zM1428.2 41.2l-4.4-1.8-2.3-1.6 1.7-.2 3.6 1.5 1.7 1.1-.3 1zM1204.2 45l-1-.2-1.3-1.6-4.7-2.4-.2-.6 1.8-.7 2 .6 3.4 4 0 .9zM1134.2 42.5l-2.4-1.1-.8-1.2 .8-.1 3 1.6-.6 .8zM1185.4 43.8l.3-.6-.5-1.5-1.4-.7-2.1 .2 .1 1.1 3.6 1.5zM1520.8 45.8l-7.5-4.6 1.5 0 5 2.4 1.5 1.6-.5 .6zM1456.8 45.3l-5.6-1.4-2.2-1.7 1.2-.1 6.6 2 .5 .7-.5 .5zM1185.8 57.3l-1 .1-6.6-2.5-6.4-4.3-4-.5-5.6-3.2-6.4-.5-8.6-2.5-1.2-1.1 1.2-.3 4 1.4 3 .1 4.6 1.1 13.4 4.8 4 .7 2.6 2.3 6 2.7 1 1.7zM1359.8 45.3l-2 .1-2.6-1-.9-1.2 .5-.5 2.4 .4 2 1 .6 1.2zM1394.8 49.3l-12-4.4-1-1.1 1.4-1.2 1 0 9.6 5 1.4 1.2-.4 .5zM1119.8 48.4l-3.6-.5-4.1-3.1-.6-1 1.7-.2 2 1 4.7 3.2-.1 .6zM1225.8 45.4l-1.6 0-.5-1.2 .5-.5 1.6 .4 .4 .7-.4 .6zM1484.8 47.4l-2 .1-3-1.1-2.2-1.2-1.3-1.4 1.9-.3 2 .6 4.2 2.1 .5 .6-.1 .6zM1236.2 45.3l-1.2-1.1 1.7 .6-.5 .5zM1381.2 46.8l-3.4-.9-.6-1.1 1-.5 2.6 .8 .6 .7-.2 1zM1548.8 59l-3.4-3.2-4.2-2.2-2-.6-2.4 1-4.6-2.1-1.2-1.7 2.2-.2 8 2 .8-.8-.6-1-1.2-.6-5.4-1.2-6-2.5-.8-1.1 1.8-.2 5.4 2.3 5.6 .7 7.4 3.5 .8 1.1-.2 6.8zM1145.8 48.4l-3.6-1-1.7-2.2 3.7 .4 3 1.1-.3 1.1-1.1 .6zM1452.2 48.3l-5-.4-2.1-1.1-.7-1 1.4-.8 3.4 .6 3.2 1.6 .4 .6-.6 .5zM1178.8 48.4l-2-.5-4-2.2 5 .9 1.1 1.2-.1 .6zM1423.8 47.8l-.6-1.3-2-.9-1.4 0-.6 .6 .4 1 1.6 .7 2.6-.1zM1466.8 46.8l-1-.6 .1-.4 1.3 .4-.4 .6zM1334 46.8l-.2-.6-1.5 0 .5 .6 1.2 0zM1196.8 51.2l1.3-2-3.9-2.1-1.2 .1 .5 2.6 3.3 1.4zM1344.3 52.8l-1.1-1-1.4-3.2-4-1.5-1.8 .1 4.2 4.6 2.6 1.1 1.4 .2 .1-.3zM1116.2 49.9l-3-.4-.4-.7 2.4-.7 1.2 1.1-.2 .7zM1135.8 49.9l-2.6-1.1 .1-.6 1.9 .4 .7 .6-.1 .7zM1211.2 48.9l-1.4-.7 1.9 .6-.5 .1zM1385.2 51.9l-5-1-.6-.7 .1-1 1.5-.6 3 1 2.2 1.2 .1 .4-1.3 .7zM1451.8 59.8l-.4-1-4.3-2.6 .1-1 .6-.2 3.9 .2 .1-.6-1.6-1-3-.1-3.4 1.3-3-.9-10.6-5.3-2 .2-.2 1 .6 1 4.6 2.6 6 1.7 5.6 2.5 1.4 0 2.6 1.8 2 .6 1-.2zM1109.2 51.9l-3-.5-1-1.6 1.6-.8 2.4 1.1 .6 .7-.6 1.1zM1296.3 49.8l-1.3-.6 .2 .6 1.1 0zM1339.8 54.2l-.4-2-.6-.6-6-2.1-1.6 0-.8 .7 .4 1.7 2.4 1.7 6.6 .6zM1422.7 50.2l-.5-.5-1.2 .1 .2 .5 1.5-.1zM1169.2 52.4l-2-.5-1.2-1.1 1.8-.4 1.6 1.4-.2 .6zM1215.2 54.9l-2-.5-1.2-1.2 1.2-.1 2.1 1.1-.1 .7zM1224.2 55.9l-3.4-1-1-1.5 3 .7 1.6 1.1-.2 .7zM1353.4 67.8l.4-1.2-4-3.9-7-2.8-4.6-3.3-5-2.7-2.5 .3-.1 1 1.6 3.6-.6 2 1.2 1.1 9.4 4.5 5 .1 5 1.5 1.2-.2zM1492.8 55.9l-1 0-2.8-1.7 1.2-.2 2 .6 .7 .6-.1 .7zM1356.5 55.2l.2-.4-.6 0 .4 .4zM1221.2 57.5l-1-.1-1.7-1.6 2.7 .6 .6 .4-.6 .7zM1272.8 56.2l-1.8-.4 .2 .5 1.6-.1zM1548.8 66.8l-6.6-1.9-1.4-1.1-.4-2.6-3.4-4-.3-1 1.1-.6 1.4 0 4.6 2.5 1.4 1.7 3.2 1.4 .6 1-.2 4.6zM1281.3 64.8l-.3-1-3.2-3.3-2.6-1.4-4.4-.2-10-3 .7 1.3 1.7 1.2 7 3 3-.3 2 .5 4.6 3.3 1.5-.1zM1356 60.2l-.1-1.4-.7-.7-5.4-2-1.5 .1 4.5 3.2 2 1 1.2-.2zM1425.3 63.8l-.4-1.6-6.7-4.1-4-1.5-2.8-.4 3.4 3.8 2 1.4 5.4 2 3.1 .4zM1194.2 58.9l-2-.5-.1-1.2 1.1-.1 1 .6 0 1.2zM1304.3 57.8l-1.3-.6 .2 .6 1 .3 .1-.3zM1455.4 65.2l.5-1-.5-1-1.6-1.1-3.6-.7-7-4-2 .8 .3 1.6-.7 1.4 3.4 3 .6 1.1 4.4 .2 1-1.7 5.2 1.4zM1499.2 60.4l-2.4-.5-1-1.5 3 .7 .6 .7-.2 .6zM1190.2 62.8l-1 .2-3.4-1.1-2.3-2.1 3.3 .1 .4-1.4 .6-.1 2.4 .7 1.6 .9 .7 1.2-1.7 .5-.6 1.1zM1292.8 62.2l.1-1-1.1-1.2-2.8-.8 2.1 2.6 1.7 .4zM1341.2 61.9l-3.4-1-1.5-1.1 2.9 .3 2.2 1.1-.2 .7zM1172.8 62.4l-2.6-.5-.4-.7 3 .5 .4 .5-.4 .2zM1437.4 66.2l.3-.4-.8-1-4.1-2.2-4.6-1.5-1.7 .1 .7 1.2 6.6 3.5 2 .6 1.6-.3zM1203.8 64.4l-3-1-1.6-1.2 0-.7 4.8 1.3 .6 .4-.8 1.2zM1464.2 62.4l-.7-.6 .8 0-.1 .6zM1363.8 65.8l.1-1-1.1-1.2-2.6-1.5-1.5 .1-.9 2 1 1.2 1.4 .6 3.6-.2zM1207.2 63.4l-.9-.2 0-.4 1.4 0-.5 .6zM1531.8 67.8l-.4-1-3.2-2.2-4-1.4-.1 1.6 2.1 1.6 4 1.5 1.6-.1zM1200.2 66.9l-2.4 0-.4-1.1 .8-.8 2 .6 .5 .6-.5 .7zM1151.4 70.8l1-1 0-1-4.2-2.7-2.4-.4-1.6 2.1 0 .5 3 1.6 3 1 1.2-.1zM1488 68.8l-.8-1.2-2-.6-2 .1-.4 .7 2.4 1.2 2.8-.2zM1176.5 70.2l-.3-.5-4.4-2.1-3.2 .2 5.6 2.6 2.3-.2zM1449 73.2l2.2-.3 .6-1.1-7-3.2-6.3-.8 1.3 1.7 3.4 2.4 4 1.5 1.8-.2zM1525.8 70.2l-.6-1.1-4.4-1.6-2.4 1.7 .8 .7 3.6 .6 3-.3zM1462.3 71.8l-.1-.7-1.4-1.5-3-1.5-1.6-.1 .3 1.2 2.3 1.7 2.4 1 1.1-.1zM1162.5 70.2l-.7-1.1-1.6 .1 .6 1.2 1.7-.2zM1099.2 69.8l-1 0 1 0zM1346.8 71.2l-1.6-1-1.4 0 2.4 1.3 .6-.3zM1137 74.8l-2.2-1.7-3.6-1.5-1 .2 .4 1 1.6 1.1 3.6 1.1 1.2-.2zM1395.5 76.2l-.3-.5-3-1.6-5.2-.9 1.1 1.6 2.1 1.1 2.6 .6 2.7-.3zM1201.8 75.8l-1-1.7-3-.7-.8 .4 .1 1 1.1 .6 2 .6 1.6-.2zM1184 75.2l-.2-.5-1 .1 1.2 .4zM1177.8 76.2l-.6-.5-2.2-.5 1.2 1.1 1.6 .3 0-.4zM1418.3 76.2l-1 0 1 0zM1540.3 78.8l-3.3-1 1.2 1 2.1 0zM1124.2 81.8l.1-.6-1.5-1.1-2-1-1.3 .1 .2 1 1.5 1.2 3 .4zM1350.5 83.8l-.7-1.2-4.6-2.5-2.4 .1 .4 .9 3.6 1.8 2.4 1 1.3-.1zM1385 82.8l-2.2-2.2-2.1-.4 1.1 1.7 3.2 .9zM1358.3 86.8l0-1-1.1-.7-1.4-.6-1.3 .3 1.7 1.6 2.1 .4zM1133.2 89.8l0-.6-2.4-1.8-.6-1.2-1.4-1.1-1.3 .1 2.1 3.6 2.2 1.1 1.4-.1zM1425 88.2l-.2-.5-3-1.6-1.6-.3-.5 .4 .3 1 1.8 1.2 3.2-.2zM1116 94.2l-.2-.5-1 .1 1.2 .4zM1152 115.8l-.2-.6-1.5 0 1.7 .6zM1429.1 256.8l.1-.6-1.7-.4 .3 .5 1.3 .5zM1302.9 264.8l-.7 0 .7 0zM1505 298.2l-.8-1.1-1.7-.3 .7 1.1 1.8 .3zM1465.6 453.2l-2.4-1.6-3-1-7.7-.4 .7 1.2 4 2 1.6 .1 2-1 4.8 .7zM1482.8 456.8l-1.6-1.7-5-3-3.4-1.5-1.6 .2 1 1.6 9.6 4.5 1 .2 0-.3zM1450.3 462.2l-.5-3.4-1-.7-8-1.2-1.1-.7-1.8-2.4-3.1-1.7-2.6-.6-4 .3 .6 1.1 6.4 3.5 4.6 1.7 2.3 2.1 2.1 1.2 4 1.1 2.1-.3zM1424.2 455.8l-1 0 1 0zM1478.8 458.2l-.4-1-1.2-.6-2-.6-1.2 .2 .6 1 2.2 1.2 2-.2zM1455.2 458.8l-1.4-1.2-2.3-.4 .7 1.2 3 .4zM1403.4 470.2l.5-.4-.7-.7-6.4-1.2-4-3.3-5-2.2-2.4-2.2-2.2-1.1-3.4 .7 1 1.1 5.4 2.2 6 4.3 3 1.5 5 1.6 3.2-.3zM1440.8 475.2l.2-1.4-.5-1-4.3-2.5 0-.5 2-1.7 4.3 .1-1-2 1.5-.4-.2-.6-7-1.8-2.2-1.2-2.4-2.1-1.4-.3 .8 2.4 3.9 4.6-1.7 .2-5-1.5-2 .1-2 1.6 .6 2 3.8 1.7 .6-.1 0-1 2.4-.2 8.6 5.8 1-.2zM1411.7 470.2l-3.4-3.4 .9-1.7 3-.2 .2-.7-7.2-4-1.4 1.6 2 2.4-.6 1.2-2.4 0-5.3-1.6 .3 .5 6 3.1 7 3 .9-.2zM1124.3 462.8l-.4-1-2.2-1-.1 1 1.2 1.1 1.5-.1zM1159 462.2l-.8-1.1-1.8-.3-.1 .4 .8 .6 1.9 .4zM1174 461.8l-.2-.6-2.6-.7-.8 .7 1.4 .8 2.2-.2zM1475.5 463.2l-2.3-2.1-2-.6-3 .3 .4 1 1.6 1.1 5.3 .3zM1378 463.8l-1.2-1.2-2.6-.4 .6 1.2 3.2 .4zM1418 463.8l-1.2-1.1-1 .1 1.4 1 .8 0zM1124.8 466.2l-1-1.7-2.6-1.4-1.1 .1-1 1.6 .7 1.1 5 .3zM1458.3 470.2l-.1-1.6-4-4.1-1-.5-1.4 .2 4.2 3.6-.2 .6-2.6-.3-.4 .7 1.4 1.1 2.6 .6 1.5-.3zM1110.5 466.2l-1.7-1.6-1.6 .2 .4 1 1.6 .9 1.3-.5zM1132 467.2l-.8-1.1-3.4-.7 .3 .8 2.1 1.2 1.8-.2zM1134.8 465.8l-1-.8 .4 .8 .6 0zM1179.5 469.8l-1.3-1.1-10.7-2.9 2.7 2.1 2 .6 3-.1 4.3 1.4zM1155.9 469.8l.8-1-.9-1.2-2.6-1.1-2.2 .3 2.2 2.1 2.7 .9zM1121.3 474.2l-4.5-5.6-6.6-1.3-.4-.5-1.2 1 0 1 .6 .6 7.6 2.7 3.4 2.3 1 .2 .1-.4zM1306.1 471.8l-1.2-1.6 2.3-.4 0-1.2-1.4-1-3.2-.4-.4 1 1.4 1.6 0 1 1.6 1.1 .9-.1zM1389.3 478.2l-.3-1-4.9-5-3.3-1.1-1.9-1.9-2.1-1.1-3.4-.9-.1 .6 1.5 1.1 6 2.5 1.4 1.2 1.2 1.2 .4 1.6 1.4 1.5 2.6 1.5 1.5-.2zM1365 471.2l-.1-1-1.7-1.6-2-1-2 .2 1.6 2.6 3 1 1.2-.2zM1256.5 475.2l.1-2 2.2-1-.4-1-5.2-2.1-2.6 .1-.4 .6 .3 1 3.6 3.4 2.1 1.5 .3-.5zM1511.4 477.2l.8-1-1.4-1.1-15.6-6-1-.1-1.4 1-3.6-1-.9 .8 5.9 3.2 4-1.5 3 .4 2 3.5 6.6 2 1.6-.2zM1388.5 473.2l-2.7-2.6-2.8-.8 2.4 3 3.1 .4zM1397.3 473.2l-.4-1-1.7-1.1-4.2-1.3 2.2 2.6 2 1 2.1-.2zM1274.3 474.8l-5.5-3.7-1 .7 5.4 3 1 .3 .1-.3zM1303.7 473.2l0-.4-2.5-1.2-2-.6-1.2 .2 2.2 1.7 3.5 .3zM1420.8 473.8l-4.6-2.7-1.2 .1 2.8 2.2 3 .7 0-.3zM1147.8 483.2l.6-1.4-.6-1.2-4-1.6-1.6 .9-2 0-7-4-3-2.8-2.4-1-1.1 .1 .3 1 4.2 4.7 8.6 2.7 5.4 2.8 2.6-.2zM1454.5 480.2l-1.7-2 1.9-.4-3.5-4.3-3-1.4-2.2 .1 .6 3 3.2 3.8 1.4 .9 3.3 .3zM1113.9 481.2l.2-1-.7-1-6.6-3.4 .5-1.6-1.1-.6-3-1.1-1.4 .8-5-.4 .4 1 4.6 2.5 5 1.7 6 3.3 1.1-.2zM1504.9 484.2l.4-1-1.3-1.4 1.7-.6-.2-.4-6.7-3.4-3.6-2.8-5-.1-5.4-1.9-1.3 .2 .6 1 2.1 1.1 6.6 .7 5.7 3.6 .7 1-.5 1.6 1.1 1.1 3.4 1.5 1.7-.2zM1167.5 473.8l-.3-.6-.7 0 .3 .6 .7 0zM1380.4 480.2l1.1-1.4-.7-1.7-4.6-2-7-2-1.2 .1 1.9 2-.6 1 .5 .7 1.4 .5 1-.7 1.6 .4 3 2.3 3.6 .8zM1199.5 475.8l-1.3-1.7-1.4-.4-.5 .5 1.5 1.2 1.7 .4zM1238.8 475.2l-.4-1-1.2-.6-2.2 .2 2.2 1.6 1.6-.2zM1434.8 475.2l-.4-1-1.2-.6-1 0-.5 .6 .5 1.2 2.6-.2zM1308.4 513.2l.6-1-.1-1.4-2.9-3 2.3 0-.8-4-5.3-2.7-2 .8-1.7-1.7 3.7 0 4 .8 1.6-.7 .7-2.1-.6-4-6-3.4 1.1-1.6-8.2-4.3-1.2-1.1 .2-.7 2.4-.6 4 .5 .6-.9-1-1-6.6-2-1 .1-1 1.1-1.7-1.1-.6-2-1.1-1.1-4-1.5-2.7-.4-.3 1.2 3 2.4 .3 1.4 1.7 1.8 6 4.4 5 2.2 1 1.2-1.6 1.7-4-.8 0 .7 2 1.8-1 .8-2-.1-4-1.4-1.4 .3 2 2-2 2.2-6-.8 0 .6 2.4 1.6 8 2.2 5.6 3.2-.1 .4-.9 .3-4-1.4-1.3 .1 1.7 2.2 1.6 .6 3-.4 3.8 2.2-1.8 1.5-1 .2-9-1.5-.6 .8 .5 1.4 6.5 3 3-1.2 4 1.5 3 0 3 1 1.2-.3zM1116 476.8l-.8-1.2-4.7-.8 2.3 1.6 2 .6 1.2-.2zM1294.5 476.2l-1.7-1.6-1.5 .2-.1 .5 2 1.1 1.3-.2zM1531 477.8l1.2-.8 2.6 .5 .5-.7-3.1-1.7-2.4-.4-.5 .5 .8 1.6-.4 .4 .5 .6 .8 0zM1161.8 475.8l-.6-.6-1.4 0 1 .6 1 0zM1491.2 479.2l-.7-1-4.7-2.1-2.6 .3-2.4-.9-1.1 .3 .9 1.4 2.6 1.2 8 .8zM1432.8 479.8l0-1.1-4-2.1-3.3-.4 1.3 1.7 4 2 2-.1zM1526.4 477.8l.2-.6-.8-.6-3.5-.4 .9 1.2 3.2 .4zM1256.6 478.8l-2.8-2.2-1.3 .2 1.3 1.1 2.8 .9zM1266 477.2l-.2-.5-1 .1 1.2 .4zM1160.7 479.2l.1-.5-2-1.1-3.3-.4 1.3 1.2 3.9 .8zM1217.8 480.2l.1-1-.7-.6-4-1.5-1.3 .1 1.9 2.2 2 1 2-.2zM1305.7 479.2l-1.9-1.6-2-.6-1.5 .2-.1 .6 2 1.1 3.5 .3zM1403.7 479.2l.1-.5-3-1.6-5.6 .1 .4 1 2.2 1.2 5.9-.2zM1359.4 479.8l.3-.6-.9-1.1-2-.4-.6 .5 .4 1 1.2 .7 1.6-.1zM1170.4 480.8l.4-.6-.4-1-2.7-1-.5 1.6 2 1.1 1.2-.1zM1230.3 479.2l-2.1-1-.8 0 1.4 1.1 1.5-.1zM1265 480.2l-1.8-1.6-2.7-.4 1.3 1.7 2 .6 1.2-.3zM1408.5 479.2l-.3-.5-2-.7-.8 .8 1.4 .7 1.7-.3zM1472.5 480.8l-.6-1-1.7-.7-5-1.1-1 .2 .6 1.2 3.4 1.5 4.3-.1zM1102.3 480.2l-1.1-1.6-1.7 .2 .7 1.1 2.1 .3zM1251.5 482.2l-.7-1.1-3-1.5-6.5-.8 1.7 2 2.2 1.1 3.6 .6 2.7-.3zM1240.5 482.2l1.5-.4-.8-1.2-2.4-1.1-1.6 .1-.5 .6 1.1 1.7 2.7 .3zM1276.9 482.8l1.7-1.6-.4-.6-3-1.1-2 1.3 1 1.6 1.6 .6 1.1-.2zM1211.3 483.2l.1-1-1.6-1.6-1.6-.5-1 .7 1 1.6 3.1 .8zM1428.5 483.2l-1.7-1.6-5.3-.8 .3 .5 5 2.1 1.7-.2zM1159 482.2l-.2-.5-.8 .1 .2 .5 .8-.1zM1195.8 486.2l.5-1.4-.5-.7-8.9-2.3 .7 1 4.2 2.6 2.4 1.1 1.6-.3zM1224.7 486.8l-6.9-4.2-4-.9 3.8 3.5 2.2 1.2 2 .6 2.9-.2zM1375.9 483.8l0-1-1.1-.7-2-.6-2.5 .3 1.9 1.6 3.7 .4zM1398.5 488.2l-1.2-2 .5-.2 9.4 1.8 .6-.6-.6-2-2.4-1.1-2.6 .9-7.4-1.6-4.6-1.8-2.2 .2 1.1 1.4 3.7 1.9 2 1.8 3.7 1.3zM1142.7 486.8l-.9-1.2-4.6-2.5-1.4-.6-1.3 .3 .6 1 3.7 2.6 3.9 .4zM1207.5 486.8l1.3-.5 0-.5-1-1.2-3-1.5-2.6 .1 .3 1 1.7 1.7 2 1 1.3-.1zM1333.5 484.8l-.2-1-1.1-.7-1 0-.4 .7 1.4 1.1 1.3-.1zM1385 485.2l-2.2-2.1-2 .1 0 .6 3 1.6 1.2-.2zM1410.3 483.8l-1.3-.6 .2 .6 1 .3 .1-.3zM1529.5 489.2l-.7-2 10.4 .2 2 .9 1.5-.1-.5-.5-7.4-2.2-1 .2-1 1.1-1-.3-6-3.4-2.3 .1 .2 1 1.4 1.6-1.2 1.4 3.9 2.2 1.7-.2zM1100.5 486.2l-1.3-1.6-3.4-1.1-2.6 .3 .3 1 1.7 1.6 5.3-.2zM1344 486.2l-.8-1.2-1.4-.9-2.3 .1 1.7 1.7 2.8 .3zM1373.5 487.8l-2.3-2.2-3-1.5-2 .1 1 2.2 4.6 1.5 1.7-.1zM1137.8 491.8l.1-1-.7-.7-1.4-.6-2 .4-2-.5-5-3-1-1.2-1.6-.6-3.5 .2 .5 1.1 11.6 5.5 2 .6 3-.2zM1291.7 487.2l-.5-1.1-2.7-.9 .7 1.2 2.5 .8zM1438.8 485.8l-.6-.6-.9 0 .5 .6 1 0zM1519.5 486.8l-2.3-1.7-.9 .1-.1 .6 1.6 1.1 1.7-.1zM1382 506.8l3.8-.3 .1-.7-3.4-2.6-.7-1.6-2.5-1.8 .1-.6 3.8 1-.7-2 .7-1.1 5 .8 .5-.7-.3-1.4-1-1-8.6-3.8-3 0-1.6 1.9-2.4 0-1.6-1-.4-1.2-2-1-2 .7-3-1-4-2.8-1.7-.4-.1 1 6 5 2.2 3.3 4 1.6 2 1.5 .8 1.6-.2 .6-1.5 .4-.1 .6 2 1.7 4 2.4 5.8 .9zM1265.5 491.8l-3.7-3.7-5-1.8 .3 1.5 1.1 1.1 7.3 2.9zM1438.4 497.2l-.9-1.4 2.3-.4 0-.7-6-2.3-2.4-2.6-3.2-1.7-3.4-1.5-1.1 .2 .3 1 3.4 3 .2 3.4 1 1 3.2 1.3 2.4 0 4 1.1 .2-.4zM1116 489.2l-2.8-1.6-1.8-.4-.1 .6 1.9 1.1 2.8 .3zM1418.3 491.2l-1.4-2-4.2-2 .1 2 .8 1 4.7 1zM1515.4 490.2l0-1-1.6-1.1-2.6-1-1.2 .1 1.2 1.7 4.2 1.3zM1095.2 489.8l-1-1.2-3.3-.8-.1 .4 1.4 1.2 3 .4zM1115.2 492.8l-.2-1-2.2-1.7-4-2-2-.6-1.1 .3-.1 1 .6 .6 9 3.4zM1286.8 489.2l.2-.4-.8-.7-2-.3 .6 1.1 2 .3zM1307.7 488.8l-.5-.8-1.4-.1 .4 1 1.5-.1zM1389.8 491.8l.4-1.1 1.6-.4 .2-.5-1.2-1.2-2-.6-3 .5-3-1-1.5 .3 1.3 1.4 2.6 1.7 3 1.1 1.6-.2zM1500.6 497.8l.2-.6-1.4-2.4 2.1-1-2-2-.2-1.6-4.5-2.1-2.3-.3 .3 .5 3.5 1.9-1.5 .3-3.6-.8 1 .8 .8 1.7 4.1 3.6 3.5 2zM1155 488.8l-1.2-.9 .3 .9 .9 0zM1271.5 493.2l.3-1.1 5.7 .1-1.7-1.6-4.6-2-3 .6 0 3 2 1.2 1.3-.2zM1246.8 490.8l.1-1-.7-.7-4.4 .1 0 .6 2 1.1 3-.1zM1362 496.8l1.2-.6 .1-.4-4.1-1.9-2.4-2.3-4.6-1.7 .4 .9 2.6 1.7 3.6 3.9 1.4 .6 1.8-.2zM1114.9 498.2l.4-.4-.4-1-3.8-1.6-.3-1.4-1-1.2-5-2-1.1 .2 .6 1.4-.1 1.6 1.6 1.1 9.1 3.3zM1168.5 495.2l-2.7-3-1.3 0 2.1 2.6 1.9 .4zM1450.3 496.2l.9-1.4-.4-.7-3-1.5-2.1 .2-.1 1 1 1 2.6 1.6 1.1-.2zM1300.2 494.4l-2.4-.6-.3-.6 1.7-.1 1.2 .7-.2 .6zM1266.3 497.2l.3-2-.8-1.1-1-.5-4.6 .3 1.6 2 3 1.5 1.5-.2zM1339.7 495.8l-1.5-1.2-1.4-.2 .3 .8 1.1 .7 1.5-.1zM1514 496.2l-.6-1-2.2-1.1-1.3 .7 1.3 1.1 2.8 .3zM1356.8 498.2l-.5-1.4-1.5-1.2-1.6-.6-1 .2 .3 1 2.3 1.7 2 .3zM1158.5 502.2l-3.1-3.4-5.2-2.6 0 1.2 2.4 1.8 3.2 2.2 2.7 .8zM1174.3 499.8l-.5-2 3.4 0-4.4-1.8-1.6 1.4-2 .1-.7 .7 .3 .8 1 .4 2.4 .6 2.1-.2zM1409.3 502.8l-3.2-2.6 .1-.6 2-.1 .6-.8-4.6-2.1-2.5 .2 1.9 4 3.6 2.1 2.1-.1zM1139.8 499.3l-3 .1-2.3-1.6 5.3 1.5zM1167.5 501.2l1.3-.8 0-.8-4.6-.7-4-1.4-2 .3 .4 1 2.6 1.6 3.6 1.1 2.7-.3zM1448.9 500.2l.3-.4-.8-1-3.2-1 0 1 1.4 1 2.3 .4zM1345 501.2l-.8-1.1-3-1.5-2.4-.4-.5 .6 .8 1 2.1 1.1 2 .6 1.8-.3zM1537.7 499.2l-.9-1.1-2 .1 2 1.2 .9-.2zM1213.2 501.4l-2.4-.5-1.7-1.1-.4-1 2.1-.3 3 1.1 .5 1.2-1.1 .6zM1368.7 501.8l.1-.6-3-1.6-2-.4-.5 .6 1.5 1.1 3.9 .9zM1246.2 502.8l-3-2.2-2.4-.7 1.4 2 2.6 1 1.4-.1zM1268 501.8l-2.8-2.2-1.4 .2 0 .5 2 1.1 2.2 .4zM1338.8 503.2l-1-1.7-2.6-1.4-2-.6-1.7 .3 .7 1.1 5 2.5 1.6-.2zM1469.2 501.4l-2-.5-.7-1.1 1.3-.2 1.2 .6 .8 .6-.6 .6zM1489.8 506.6l-2-.2-4.6-2.4-1.1-1.8 .1-2 1-.1 4 2.4 2.6 4.1zM1110.3 507.2l-.5-1.1-3.6-1.2-5-2.8-3.4-1.1-1.1 .2 .4 1 3.7 2.2 3 .7 4.4 2.3 2.1-.2zM1189.3 503.2l-.4-1-2.1-1.1-3.3 .1 2.3 1.7 2 .6 1.5-.3zM1196.6 503.8l-1.4-1.2-1.7-.4 1.3 1.2 1.8 .4zM1275.7 504.2l-1.5-1.6-1.4-.6-1.1 .2 .4 1 1.1 .7 1.6 .6 .9-.3zM1360 504.2l-2.2-1.6-2.8-.4 .2 .6 3.6 1.6 1.2-.2zM1477.8 503.4l-1 0-.8-1.2 1.8 .5 0 .7zM1268.7 505.2l-1.5-1.1-3.7-.9 2.3 1.7 2.9 .3zM1338.5 506.2l-1.3-1.6-4.7-1.4 2.3 2.2 2.4 1 1.3-.2zM1523.8 504.4l-1.3-.6 1.3-.1 0 .7zM1194.3 508.2l-7.5-3.6-2-.1-.9 .7 4.3 2.2 5 1.1 1.1-.3zM1368.3 506.8l.5-1.1 3 .2 .1-.7-1.7-.7-2.4 .1-1.1 1.2 1.6 1zM1511.4 507.8l-7.2-3.2-2 0-.5 .6 .5 1.2 3.6 1.5 5.6-.1zM1291.4 505.8l-.6-.6-.5 .6 .9 .3 .2-.3zM1180.3 513.2l-.4-1.4-1.7-1.7-11.7-4.3 .7 1.1 3 1.2 2 2.4 2 1.4 4.6 1.5 1.5-.2zM1263.8 506.2l-1.3-.4 .3 .5 1-.1zM1349.2 507.8l-.4-1.2-1.6-.2 .6 1 1.4 .4zM1339.4 510.8l.8-1-.4-.7-7-2.7 .3 .8 4.1 3.2 2.2 .4zM1093.5 509.2l-1.7-1.6-1.9 .2 1.9 1.6 1.7-.2zM1181.8 509.8l-4.3-1.6 1.3 1.2 3 .4zM1188.9 510.2l-1.1-.7-1.5 .3 .5 .7 1.4 .2 .7-.5zM1353.5 515.8l-.7-1.2-3-1.2-2.6-2.8-3-1-1.2 .2 .8 1.1 6.4 4 2 1 1.3-.1zM1541.2 512.9l-3.4-1-2.4-1.7 .8-.6 2 0 3.1 1.6-.1 1.7zM1335.5 512.2l-1.7-1.6-1.8 .2 1.8 1.6 1.7-.2zM1478.1 511.8l.1-.6-1-.5-1.7 .1 .3 .5 2.3 .5zM1308.4 524.8l.6-2-.6-2-4.6-2.5 0-2.1-.6-.6-7-3.1-7.4 .5-6-1.4-1 .6 1 2.2 4.4 1.2 3.6 1.8 2 .4 1-.7 2-.1 3.4 1.1 2.2 1.1 .8 1-.4 .7-1.8 .3 .2 .6 5.6 2.6 2.6 .4zM1356 514.2l-.8-1.2-1-.1 .6 1.1 1.2 .2zM1132.2 515.3l-1 .2-2-.6-1.1-.7-.4-1 4.1 .9 .4 1.2zM1406.8 517.9l-5.8-1.1-.5-.6 .8-1-.3-2 2.2 .4 3 1.5 1 2.1-.4 .7zM1490.8 515.8l-.6-1.2-3.4-1.5-2.8 .1 .6 1 2.2 1.2 2 .6 2-.2zM1139.2 515.8l-4.4-.9-.8-1.1 1.8-.2 3.4 2.2zM1195.3 517.2l-1.5-2.5-2.6-1.1-1.7 .2 .6 1 3.1 2.1 2.1 .3zM1407.2 514.5l-.9-.7 1.1 0 .3 .4-.5 .3zM1546.2 516l-2.4-.6-1.4-1.6 3.6 1 .8 .4-.6 .8zM1206.9 516.8l.2-.6-.6-.4-2.7-1.2-3-.6-1 .2-.4 .6 2.4 1.1 5.1 .9zM1221.9 514.8l.5-.6-1.6 0 1.1 .6zM1290.8 521.2l-1.4-2.4-6.2-3.2-1.4-.5-4 .4-5-1.3 12.4 6.7 3 .6 2.6-.3zM1515.8 516.9l-3-.5-2.2-1.2-.6-1 5.8 2 .4 .6-.4 .1zM1342.9 519.8l.1-1-1.2-1.2-6-2.1-3-.3-1.7 2 .1 1.2 2 1.1 3.6-.5 4 1 2.1-.2zM1439.8 516.8l-1.6-.4-.7-1.2 1.9 0 .8 1-.4 .6zM1479.2 517.2l-1-1.1-2.4-.7 1 1.5 1.4 .6 1-.3zM1110.8 531.3l-2 .1-3.7-1.6-1.5-1.6-.8-3.1-2.6-1.6-1.1-1.7-9.9-4.5 0-1.5 6.6 1.3 3.2 2.7 .5 2 10.3 4.9-.5 2.1 1.5 2.5zM1233.1 517.2l.1-.4-1.3-1-.9 0 .6 1 1.5 .4zM1105.2 520.3l-1.4 .1-2.3-1.6-.3-1 1-1.6 4.3 1.6 .3 1-1.6 1.5zM1395.2 517.8l-2.4-1-.3-.6 2.4 .6 .8 .4-.5 .6zM1142.2 516.8l-.5 0 .5 0zM1353.2 518.2l-1-1.1-2-.3 .4 1 1.2 .6 1.4-.2zM1388.2 520.9l-2 .1-3-1.1-5.3-3.1 4.9 1.2 1-.6 1.4 .2 2.8 1.6 .6 1-.4 .7zM1126.8 520.4l-8.6-1-2.7-1.2-.7-1 1.4-.2 5 1.5 4.6 .1 1.1 1.2-.1 .6zM1143.2 517.4l-.4-.2 .9 0-.5 .2zM1249.5 522.2l-1.3-1.1-5.4-1.1-1.3 .2 .3 .6 3 1.6 4.7-.2zM1379.2 521.5l-1.1-.3-.6-1 1.3-.1 1 .6-.6 .8zM1477.4 522.2l-2.2-1.6-2.9-.4 3.5 2.2 1.4 .2 .2-.4zM1296.5 521.8l-.3-.6-1.7-.4 .3 .5 1.7 .5zM1343.5 526.8l-1.7-2.7-1.6-1-4.4-1-3-1.6-1.6 .1-.4 .6 1 1.2 4 0 1.4 .7 2.2 1.1 1.8 2.2 1 .5 1.3-.1zM1465.2 546.9l-3-.5-4.4-3.3-3.6-1.1-4.4-.5-.8 .3-.8 1.6-3-.5-3.4-1.9-1-2.4-7-4.5-4.6 .3-4.4-2.3-5-.2-5.6-2.8-3.4-.6-.6 .7 .6 .7 5 1.7 1.4 1 .3 .6-3.3-.7-2 .9-5-3.3-2-.1-2 1-3-.4-4-2-5.4-1.7-2.2-1.1-.6-1 4.8-.2 5.4 2.4 4.5-.8-.9-1.1-4-.7-3.2-1.6-.9-1.6 1.1-.7 10.4 4.9 3.6 .6 1.4-.8 2 1.7 4.6 2.1 3.4 0 2.6-1 2.4 .5 1.6-1.3 1.4-.1 2.2 1.1 5 4 1.8 2.2 5.2 2.4 2.4 3.1 1.4 .3 1.6-.7 3.4 .5 4-.4 7.2 4.2 3 2.4-.2 .7zM1441.2 521.6l-1.3-.8 1 0 .3 .8zM1548.8 523.8l-1 .1-3-1.5-1.3-1.6 1.7-.3 2 .6 1.7 1.7-.1 1zM1122.8 524.9l-4.6-1.5-1.7-1.6 1.3-.2 3.4 1.5 1.7 1.1-.1 .7zM1419.8 523.9l-4.6-1-.7-1.1 .7-.3 4 1.1 1 1.2-.4 .1zM1468.2 540.5l-2.7-1.3-.3-2.1-7-2.2-3.6-3.1 .2-.7 2.4 0 8 3.7 1.6-1.6-2-2.7-2.2-1.3-.8-1.7-6-3.1-1.8-2.2 3.2 .4 10.6 5 1.6 1.6-.3 2 3.3 2 2.8 2.7 4.2 1.9-11.6-1.6-.9 1.6 1.8 2.4-.5 .3zM1117.8 527.4l-6-1.5-3-1.9-.6-1.2 2.6-.3 3 1.1 3 1.9 1.1 1.3-.1 .6zM1473.7 523.8l-.9-1.2-1 .2 1 1.1 .9-.1zM1243.8 525.8l0-1.6-1-.6-2-.6-2.8 .2 .6 1 2.6 1.8 2.6-.2zM1094.8 526.4l-5 0-.7-.6-.1-1.6 .2-.5 1-.1 5 2.6-.4 .2zM1355 526.2l-2.2-1.6-1.6-.2 .6 1 3.2 .8zM1534.8 528.6l-6-1.2-3.8-2.6 1.2-.3 6 1.6 1.8 1.1 .8 1.4zM1174.2 528.3l-1 .1-2.2-1.6 1.8-.2 1.1 .6 .3 1.1zM1225.8 530.9l-3.6-1-3-1.6 .1-.5 3.9 .8 2.6 1.6 0 .7zM1296.2 528.3l-1.4 0-.6-1 2 1zM1548.8 535l-1.6-.2-.8-1.6-4.6-2.3-3.8-3.1 4.2 .6 5.6 4.4 1.1 1.4-.1 .8zM1170.8 533.3l-1.6 .1-1.7-1.2-.2-.4 1.7-.6-1.7-2 .1-.4 3.8 1.3 3.2 2.1-.2 .7-2.4-.4-1 .8zM1203.8 530.4l-1 0-2.5-1.6 1.5-.2 2.1 1.2-.1 .6zM1239.8 534.9l-3.6-.5-2.4-1-2.3-2.6-1.9-1-.4-1 2 .3 1.8 2.1 5.8 2.4 1.1 .6-.1 .7zM1445.2 530.4l-3.4-.5-.6-1.1 1-.3 2 .6 1.2 .7 .3 .4-.5 .2zM1535.8 532.3l-1.6 .1-4.4-1.5-2.2-1.1-.6-1 4.2 .3 3.6 1.5 1 1.7zM1503.2 536.8l-1.4-.4-2.6-2.3-6.4-2.7-1.8-1.6 7.8 2.3 4.4 3.4 .5 .7-.5 .6zM1102.2 531.3l-1.1-.5 1.1 .5zM1267.8 535.3l-3.6 .2-3.4-1.4-.6-.9 .6-1-.3-1.4 5.7 .8 1.7 2.6-.1 1.1zM1420.2 549.4l-6.4-2.9-.8-1.3 1.3-2-5.1-2.8-1-1.2-2.4-1.2-.8 .2-.8 1.3-2.4-1-.6-1.3 1.1-.4 .1-1.6-3.7-3-.2-1 1.7-.3 6.6 4 4 1.4 .4-.1 .4-1.4 1.2-.3 5.4 3.4 5.6 .1 2 .6 4.2 2.6 1.2 3.4-6.4-3.5-4-1.5-.8 .2-.8 1.2-4.2-.2 .8 1.2 3 1.9 1.4-.6 3.1 1.5-.1 .3-4-.5 .4 1.2 2.2 .9 .2 .5-1.2 .9-.6 1.3zM1153.2 536.5l-1.7-.3 .3-1.4-3.2-2-.6-1 6.8 1.4 .2 .6-1.9 1 .6 1.4-.5 .3zM1127.8 534.8l-2.6-.4-2.2-1.6 1.2-.3 2 .6 1.2 .7 .4 1zM1163.2 534.8l-2.4-.4-2.3-1.6 1.3-.3 2 .6 1.1 .7 .3 1zM1089.8 534.4l-.3-.6 .7 .4-.4 .2zM1209.2 538.4l-4.4-1.5-2-2.7 1-.2 1.4 .6 4.3 3.2 .2 .4-.5 .2zM1548.2 541.8l-11.4-4.7-6-1.2-.8-1.1 1.2-.3 4 1.4 3 .1 .6-.8-.3-1 1.7-.1 5.6 3.1 .4 1.7 2.6 2.3-.6 .6zM1137.8 536.3l-2-.4-.8-1.1 2.2 .3 .6 1.2zM1153.2 539.9l-7.4-3-1.3-1.7 6.3 1.4 2.6 2.6-.2 .7zM1121.8 539.3l-2.6-.4-3.4-2.6 0-.5 2-.2 2 1 2 1.5 0 1.2zM1513.2 537.1l-1.9-.9 .1-.4 1.5 .4 .3 .9zM1202.8 539.3l-4.6-1.9-.7-1.2 4.3 1.4 1.4 1.2-.4 .5zM1435.2 539.9l-3 .1-2.4-.6-3.6-1.4-1.2-1.2 6.2-.2 4.3 2.2 .4 .4-.7 .7zM1092.8 538.4l-2-1.2 2 .5 0 .7zM1375.2 540.9l-4.1-1.1 .1-2.6 2 .8 2.2 2.2-.2 .7zM1287.8 544.9l-2 0-5.6-2.8-2.4-.2-1.3-1.7 2.3-1.2 4 .5 5-1.9 .8 .6-.1 1.6-1.7 1.4 1 3.7zM1458.2 539.4l-2.4-.5-.6-1.1 1-.3 1.6 .6 .6 .7-.2 .6zM1492.2 546.9l-1.4 .1-4-1.4-2.6-.2-4.6-2.2-.4-.8 5.6 1.6 1-.8-2.6-3.7-3-1.7 3 .3 2.2 1.1 2.4 3.8 4.7 2.8-.3 1.1zM1118.8 543.8l-7.6-2.7-2.4-.2-3.6-1.5-.9-1.2 .9-.1 5 1.9 3 0 2 .6 3.6 1.9 .5 .7-.5 .6zM1298.2 540.8l-4-.9-1.4-1.1 2.4-.2 3 2.2zM1258.2 539.9l-1-.1-.2-.6 1.2 0 0 .7zM1200.2 542.3l-1 .2-3.4-1.1-.6-1.2 1-.2 3.6 1.1 .4 1.2zM1548.8 548.8l-4.6-1.3-3.4 .4-5.6-2.8-6-.7-.9-1.2 0-1-1.8-2 1.3-.1 4 1.8 6 1.2 5 2.3 4.4 .7 1.7 1.1-.1 1.6zM1408.8 546.3l-1 .4-4-.7-2 .5-3.7-3.7 .1-2 2.6-.2 5 2 3 2.6 0 1.1zM1171.8 550.9l-4.6-1-5.4-3-5-4.4-.6-1.1 2.6 .7 1.4 1.8 3 1.2 3 2.8 6 2.9-.4 .1zM1255.8 546.2l-7-1.3-2.9-1.7 .9-.7 4 .1 4.4 2 .9 1.2-.3 .4zM1369.8 547.4l-3-.5-4-2-1.9-1.7 .3-.4 1.6 .2 5.4 1.1 2.2 1.7 0 1-.6 .6zM1242.2 549.4l-4.4-.5-7.6-4-.7-1.1 1.7 .3 2.6 2 8.4 2 .5 .7-.5 .6zM1273.8 549.4l-8-3-2.7-1.6-.6-1 1.7-.2 7.6 3.5 2.1 1.7-.1 .6zM1525.8 580.4l-1.6 .1-8-2.1-4.4-2.8-3.6-.7-5.4-3.4-3.8-4.3 7.8 2.5 2.5-.5-.5-1.2-2.6-1.4-7-1.2-6-1.9-3-.1-3-1.5-.4-2.8 7.4 3.4 2 0 1.6-1 4-1 3 2.4 3 1.5 2.7 .4-2.8-3-.5-2.8-7.4-3.6 .9-2.2-.3-1-5.4-6 3.8 .9 4.4 2.8 3 .6 1.1-.3-.3-1-3.2-2.2-2.8-3.2 11.2 2.4 .5 .6-.5 .2-2.7-.2 .1 1 1.6 1.6 4.6 2 4-.4 5.6 2.2-10.1 0 .5 .6 5.5 2 .6 2-1.9 1 .2 .5 7 2.2 3-1 2 .1 1.2 .6 .1 .6-1.7 .4-.1 .6 3.3 3 .2 1-4-.5-2 .7-4-.4 .6 2-4.6-1.2 .6 .9 6 3.4 0 .7-2 0-5-2.8-4.6-1.1-1 .1-1 1.2 .4 1 3.2 2-.6 .5-3-.4 0 .3 3.6 2.2 2.4-.4 5.6 1.5 2-1 1.1 .3-.1 2-1.2 .4-.8 1.6-1 .6zM1458.8 546.9l-3-.5-1.3-1.6 1.3-.2 2.4 1 .7 .6-.1 .7zM1131.8 546.4l-1.6 0-1.2-1.2 1.8-.1 1.1 .7-.1 .6zM1152.8 547.9l-4.6-1.5-.5-1.2 3.1-.1 2.1 2.1-.1 .7zM1187.2 548.8l-2.6-.6-2.4-2.8 3 .7 1.8 1.7 .2 1zM1354.2 547.4l-2.4-.4-3.6 .4-1.7-2.2 1.3-.2 5 1.1 1.5 .7-.1 .6zM1207.8 548.9l-5-1.5-1.3-1.6 3.7-.2 2.7 2.6-.1 .7zM1092.8 548.9l-2.6-.5-.9-1.2 1.5-.1 2.1 1.1-.1 .7zM1344.8 549.9l-3.6-1-1.7-1.7 4.3 .9 1.1 1.1-.1 .7zM1435.8 549.9l-1.6 0-2-1-.6-.7 .1-1 3.1-.2 2.4 1.2-.3 1-1.1 .7zM1296.8 551.8l-1 .2-2-.6-1.6-1.2-.1-1.4 2.1-1.3 1.6 .7 1 3.6zM1203.8 551.4l-2-.5-3.3-2.7 1.3-.1 3 1.5 1.1 1.2-.1 .6zM1404.8 552.4l-5.6-1.5-2.1-1.1-1.3-1.6 1.4-.2 6.6 1.6 1.5 1.6-.5 1.2zM1539.8 560.9l-3.6-.5-.9-.6 .1-1-3.6-3.7-2-.6-1.6 .2-2.3-.9 .9-.3 1.1-1.7-.9-2 1.8-.2 8 3.8 1.2-.2-.6-1-4.2-3-.2-1 1.2-.1 4 1.5 10.7 5.6 .1 1.6-.8 .7-5.4-1.5-1 .8 0 1-2-1.7-2.6-1-2.1 .7 .1 1.2 5.1 3.2-.5 .7zM1129.8 555.3l-5-2.2-5.6-1.2-2.4-1.6-.5-1.1 .9-.6 2.6 .9 2.4-1 4 0 2.6 .7 .4 .6-2.4 .2-.8 .8 .8 1.2 3.4 2.6-.4 .7zM1132.2 549.9l-1.1-.1-.3-1 1.4 .4 0 .7zM1457.2 550.4l-1.4 0-2-1.1 0-.5 2.4 .3 1.2 .7-.2 .6zM1191.2 571.5l-9-2.2 0-.7 2.6-.8 .2-1-.8-1.2-3-1.5-1.4-.3-2.6 .7-4-1-2 .9-5.4-1-.7-.6 .1-1.1 3.6 .3 .7-.2-.1-.6-7.3-4.4-.6-1 .2-1 1.5-.2 7 2.4 3-1.5 6.6 2 .5-.3 .3-1.4 .6-.3 5.6 1.3-.8-2 .7-.6-.3-.4-2.2-.7-1 .6-1.1-.5-.1-1.4-1.4-1.6 .1-1 .5 0 3.6 1.4 7.4 4.8 4 1.6 2.6-.1 .1-.7-4.7-2.3-2.2-2.1 10.2 .8 1.6 .9 1.4 1.9 3.6 1.6 1.9 3.8 .1 1.1 4 2.9-.6 .7-2 .3 7.6 3.9 .2 .5-1.2 .3-3.6-1.1-8.4-4.3-2.6-.2-2.4-1-1.7-1.7 .1-1 2.6 .4 5.4 2.8 1.6 .4 .1-.6-2.7-2.6-7.4-3-2.6-.6-3 0-4 1.5-8.2-.7 .8 1.6 4.6 2.4-.2 .5-4.4-1.8-.8 .3 .6 1 8.3 3.4 .3 .6-1.9 1 2.4 3.4-.5 .3zM1116.8 554.4l-1 0-5-3-1.4-1.6 .4-.5 2.4 .8 1.6 1.8 3 1.6 0 .9zM1378.8 559.4l-1.6 0-2-1-4.4-3.8-4.6-.2-2.9-1.6 3.9-1.7 2.6 .1 2-1.2 4.4 .6 1.6 2.4 3.6 2.2-.1 1.6-2.4 1-.1 1.6zM1160.8 553l-5-1.1-1.6-.6-.2-.5 3.8-.2 3.1 1.6 .3 .6-.4 .2zM1433.2 551.4l-1.3-.6 1.3-.1 .5 .5-.5 .2zM1446.8 552.4l-3.1-1.6 1.1-.1 2 1 0 .7zM1351.8 553.5l-2.6-.6-1.7-1.7 3.7 .9 1.1 .7-.5 .7zM1467.2 553.4l-2.4-.5-1.8-1.7 2.2 .4 2.1 1.2-.1 .6zM1170.8 553.4l-2.6-.5-.7-1.1 2.3 .3 1.1 .7-.1 .6zM1267.8 570.4l-10-3.9-2 0-2.6 1-1.4-.5-1.6 .5-2-.6-1.7-2.1 2.3-3-1.6-1.2-5.1-1.4-.2-1 .9-1.4-3.8-3.6-.3-1.4 1.1-.2 2.6 1.2 3.9 3.4 .8 2 4.1 1.9 2.6 2.9 2 1.4 2.4 1 .1-1.2 .9-.7 4 1.1 1.8 2.6 2.9 2.6-.1 .6zM1270.8 552.9l-1.3-.1-.7-1 2 .4 0 .7zM1391.8 555.8l-6-2.4-.6-1.2 2-.2 1.6 .6 3.2 2.2 .2 .8-.4 .2zM1229.8 556.9l-1 0-2.2-1.7-1.6-2 4.8-.7 5.6 2.3-1.6 .9-4-1.1 0 2.3zM1534.9 553.8l-1.7-1.2-1.4-.3 .3 .9 1.1 .7 1.6 .2 .1-.3zM1219.2 554.9l-2-.5-.7-1.2 2.3 .4 .6 .6-.2 .7zM1285.2 565.4l-2 0-6-3-1-.6-1-1.6-2.4-1.1-2.3 .1 1.4 2-.1 .7-2 0-2-1-2-1.5-2.2-3.2-.3-2.4 .5-.7 1.4 0 10.6 4 4.4 3.8 6.7 3.3 .1 .6-1.8 .6zM1287.2 556.2l-3.4-.8-2.2-1.2-.6-1 1.8-.1 4 1.5 .8 1.2-.4 .4zM1429.8 558.9l-3.3-.7-.7-1-3.6-1.9 0-1.1 1-.6 2.6 .5 4.6 2.1 .4 .6-.8 .4-.2 1.7zM1365.2 557.9l-4 .1-1.4-.6-1.6-3.2 1.6-.1 5 2.5 .6 .6-.2 .7zM1424.8 560l-2-.1-2.6-1-5.4-3.7 5.4 .4 6 2.6 .3 .6-1.7 1.2zM1449.2 561.3l-1.4 .2-5.6-1.9-6-.7-2.9-1.7 2.6-.4 .1-1-.7-.6 .5-.1 5 1.9 1-.2 0-1.6 1.4-.2 6 1.1 4.6 2.3 6.4 1.4-.4 .6-3 .6-4-1.9-2.6-.1-.5 .2-.5 2.1zM1510 556.8l-.8-1.2-2-.6-1.2 .2 .8 1.2 2 .6 1.2-.2zM1453.2 588.9l-6.4-1.5-.6 .1-.4 1.3-1 .1-9-3-1.1-.7 .6-2-1.5-1.1-4-1.8-1.6 .6-1.6-.7-.3-1 2.9 .8 .6-.1 0-.7-3.9-4-3.7-1.6-2 .2 .7 2-.5 2.4-2.2 .3-7-3.1-2.4-1.8-6-1.1-3.6 0-4-1.1-.4-.6 1-.8 3 0 7 2 5-.5 1.4-.9 2.8-.4-.2-.5-5.7-2.9-.6-1 1.3-1-.3-1-6.3-3.3-2.7-2.7 .2-2 1.1 .1 2 2 2.4 1 .5-.1-.2-.6-1.7-1.4 3 .2 4-1.5 3 1.1 1 1.6-3.8 1.6 1.4 1.4-.3 1.6 8.7 5.6 6 3 4.4 1.3 .3 .5-2.3 1-.1 1.6 1.5 2 2.2 1.1 2 .1 1.1-.8-.1-1.1-1.8-1.3-.2-.6 .4-.1 8 3.3 2.6 .4-.8-2 2.8-.2 .1-.4-4.1-3.2 0-.9 3 0 3 1.8 .4-.1-2-2 1.6-.3 5.4 2.1 .6 .6-.6 .8-3.4-.2 1.2 2.4-2.3 .6 .3 .4 2.8 1.7 3 .7 7 3 .4 1.2-2 .9-5-.3-12-4.9-2 .1-1.4 1.4-3.6-.5-.5 .7 .9 1.6 2.2 1.1 1.4 .4 1.6-.8 1 .1 6.4 2.5 2.2 1.1-.2 .7zM1154.2 557.9l-3-1.1-.4-.9 3.4 1.3 0 .7zM1148.8 558.3l-2-.4-1-1.1 2.4 .3 .8 .7-.2 .5zM1264.8 563.8l-1.6-.4-6-4.3-3-1.2-.7-1.1 4.3 .8 1.4 1.8 5 2.6 1.1 1.2-.5 .6zM1390.2 558.4l-2 0-1.2-1.2 1.8-.1 1.5 .7-.1 .6zM1136.2 560.4l-4-1-.9-1.2 1.5-.2 2 .6 1.6 1.2-.2 .6zM1534.8 559.8l-3-.4-1-.6 .1-.6 3.3 1 .6 .6zM1147.8 564.4l-4.6-1-2.1-1.2-.8-1 .4-2 1.1-.1 2.6 1.7 3.4 3 0 .6zM1237.8 562l-6-1.6-1-1.2 4.4 .4 2.6 1.4 .4 .8-.4 .2zM1348.8 560.4l-.8-.6 .8 0 0 .6zM1102.8 562l-3-.6-1.6-.6-.2-.6 2.2-.2 2 .6 1.1 .6-.5 .8zM1129.2 566.8l-1 .2-9-1.6-4.1-2.2-2.6-2-.3-1 4-.2 3.6 1 4-.4 4 .7 1.4-.6 .6 .5-.5 2-2.3 .6 2 2 .2 1zM1371.8 568.8l-1 .1-4.6-1.8-5-.7-2-1-1-1.2 1.6-1.4-1.1-2 .5-.7 2-.1 2.8 .8 .6 .4-.3 1 .5 .8 7 4.7 0 1.1zM1226.2 563.3l-2.4-.4-2.2-1.1-.6-1 1.8-.2 3.1 1.6 .3 1.1zM1380.8 563.3l-2-.9 .3-1.2 2.1 .9-.4 1.2zM1392.8 563.8l-3-.9-.8-.7 .2-.4 3.6 .8 .5 .6-.5 .6zM1441.8 563.1l-1.6-.2-1.2-1.1 1.2-.2 1.2 .6 .4 .9zM1429.2 564l-2.4-.7-.3-1.1 .7-.2 1.8 .8 .8 .4-.6 .8zM1519.3 565.2l.1-1-1.5-1.4-1.7-.8-1 .2 0 1.1 4.1 1.9zM1105.8 570.4l-8-1.9-5.6 0-2-.6-1.2-1.1 0-3 .2-.6 1-.1 7 3.3 7.6 2.2 1 .6 0 1.2zM1479.2 566.4l-6.2-2.6 3.8-.8 3.4 .5 1.3 1.7-2.3 1.2zM1389.2 566.4l-3-1-1-1.6 1-.3 2 .6 1.6 1.1-.6 1.2zM1108.2 567.4l-2 0-4-2-.7-1.2 2.7-.2 2 .6 2 1.5 0 1.3zM1122.8 564.2l-.6-.4 0 .5 .6-.1zM1153.8 566.9l-4-2.1 1.4-.3 1.6 .6 1.1 1.1-.1 .7zM1407.8 568.4l-6.6 0-3.2-2.6-.3-1 8.1 1.3 2.1 1.1-.1 1.2zM1226.2 566.9l-3-.5-.9-1.2 2.9 .4 1.2 .6-.2 .7zM1302.5 566.8l-.7-1.2-1.3 .2 .7 1.1 1.3-.1zM1439.2 568.3l-3-.4-1.9-1.7 .9-.7 2 .1 2 1.5 0 1.2zM1548.8 572.8l-1 .2-1.7-.8-4.1-4-.2-1.1 1.4-.5 5.2 2.2 .6 1-.2 3zM1140.8 569.4l-3-1-1-1.2 1-.2 1.4 .6 2 1.6-.4 .2zM1217.2 581.9l-1 0-4.4-2.2-.6 .1 0 2.1-3 .1-2-.6-.4-.6 .6-1.6-.9-1.4-8.4-6.6-.2-1.4-3.4-2.6 1.7-.1 2.6 1 2.3 2.7 5.7 2.8 3 3.4 1.4 .9 3-.4 4 1.4 2 .1 .8-.2-.2-1.4 4 1.3 .4 .5-1.2 .6 .3 1-.5 .7-4-.5-1.6 .9zM1246.2 570.8l-2 .2-2.4-.6-3-1.6-.3-.6 3.3 .2 2-1.4 6.1 1.8-.1 .6-3 .2-.6 1.2zM1118.8 568.8l-1.2-.6-.4-.8 2 .8-.4 .6zM1150.8 570l-2-.1-1-1.5 3.4 .1 1.1 .7-1.5 .8zM1541.2 572.9l-1 0-5.4-3-.8-1.1 2.8-.3 2.4 1.1 .7 .6-.2 1 2 1.6-.5 .1zM1159.8 572.1l-6.1-2.9 3.1 .4 2.1 1.2 .9 1.3zM1173.2 570.9l-2.4 0-1.5-1.1 .5-.7 1 0 2.4 1.1 0 .7zM1267.2 576.3l-8-1.8-1.4 .2-2-.8-2-1.5-.9-2.2 1.3-1.1 1.6-.1 4 1.4 2.4 .2 3.6 2 1.6 2.6-.2 1.1zM1488.2 569.9l-1.4-.1-.4-.6 .4-.4 1.4 .4 0 .7zM1096.8 573.4l-2 .1-4-1.1-1.6-.6-.2-1 .8-.6 3.4-.1 2.6 1.4 1 1.3 0 .6zM1139.8 572.9l-3 0-1.2-1.7 .6-1 2 .4 1.7 1.6-.1 .7zM1510.5 572.8l.6-.6-.2-.4-3.7-2-1.4 1 3 2.1 1.7-.1zM1210.8 572.4l-2-.5-.8-1.1 2.8 .9 0 .7zM1281.2 573.3l-5.4-1.4-.6-1 3 .2 2.7 1.1 .3 1.1zM1355.2 576.9l-3.4-1-4-2-2.3-2.1 1.3-.2 5.4 2.4 .6-.8-1-2.4 3 .8 1.2 1.2-.7 1.4-.8 .6 .9 1.4-.2 .7zM1151.8 576.1l-2-.7-3.7-2.6-1.2-1.6 .9 0 1.6 1 4 3 .4 .9zM1376.2 571.8l-.9 0 .9 0zM1366.2 574.9l-4-.5-1-.6 0-1 2.6-.2 2.1 1.2 .5 .4-.2 .7zM1199.8 593.9l-9.6 0-4-1.5-2.4-2.8-5.6-2.5-1 .1 0 1.6-2 .2-2.4-.4-2.6-1.5-5-1.1-5 .4-3-1.9-1-1.7 1-.2 6.6 2.4 .5-.8-1.5-1.3-.1-.7 2.1-.2 .5-.8-2.5-1.6-8-2.7-2.2-2.1 .1-1 1.5-.2 3 2.3 5 2.1 1-.8-1.7-2 1.7-.2 2 .6 2.9 2.6 2.8 1.6 .3 1.4 1.4 1.6 3.2 1.2 2 0 .5-.8-5.5-3 0-.4 4-1.3 3 .6 3.7 2.1-.1 1-1.4 .6 1.9 2.4 .1 .6-1.5 .4 1.1 1.6 4.6 2.6 3 1 1.1-.6-.1-2.2 1.6-.5 5.6 2.7 .4 3.1zM1185.2 576.9l-2.4-.6-.2-1.5 2.2-.8 2.6 .2 .6 1-.2 1-2.6 .7zM1090.8 575.6l-1.5-.8 .9-.1 .6 .9zM1148.8 584.9l-2 .1-3.6-1.1-7.2-3.7-.7-1 7.5 1.3 .4-.8-4.9-2.9 2.9-2.1 4 .9 2.1 1.2 1.1 1.4-.2 2 3.1 3-.5 .9-2 .8zM1219.2 590.4l-4.4-1.4-2.6 .4-10-4.1 .2-2.1-1.6-1.6-6-1.7-2-1.1 .1-2-1.7-1.4 0-.6 2.6-.3 2 .6 1 .7 .4 2.4 .8 .6 9.8 4.6 4 1 7 .6 1.4-.9 2.6-.1 4 1.4 2.4 .1 3.6-.7-.6-2 1-1.2 1-.1 4.6 1.1 8.4 3.5 2.8 2.1-2.8 .3-7.4-2.2-1.2 .9-.4 1.3-6-1.5-3 1-3.4 0-2 1-4.6-.9 0 2.3zM1278.2 576.4l-4-.5-.8-1.1 .8-.5 2 .3 1.7 .6 .5 .6-.2 .6zM1267.8 591.4l-6.6-1.5-2-1.1-2.4-2.4-2.2-3.2 .2-.6 3.2-.4-.2-1.3 8 2 1.2-.1-1.8-2.2-6.4-3.1-1-2.4 .4-.3 6 2.8 2.7 3.6 2.5 1.6 3 3-.2 .5-4.4-1.8-3.1 .3 1.1 2.2 4.2 2.2-.2 1.3-2 .9zM1538.2 576.4l-1.4 0-1.3-1.2 2.7 .5 0 .7zM1477.2 578.3l-1 .2-3.4-1.1-1.1-1.6 1.5-.3 2.6 .6 1.4 1 0 1.2zM1509.2 581.8l-1.4 .2-1.6-.6-2-2.8-5.4-1.7-.5-.7 1.5-.7 4 .6 5.1 3.1 .6 1-.3 1.6zM1285.8 577.8l-2-.4-.8-1.2 1.2-.2 1.6 .6 .4 .6-.4 .6zM1108.8 578.3l-1.3-1.1 1.7 .6-.4 .5zM1276.2 582.9l-1.4 0-2.6-1.5-3.1-2.2-.6-1 2.7 .4 5 2.5 .6 .7-.6 1.1zM1548.8 585.8l-1 .1-4.6-2.4-.8-1.3 .4-1-2.8-3 3.8-.2 2 1 1.3 2.8 1.8 2-.1 2zM1247.2 584.3l-1.4 .2-2-.6-2.6-1.8-4-1.7-1.4-1.1 0-.5 4.4-.3 3.6 1.1 2 1.5 1.4 3.2zM1408.8 579.4l-.8-.6 .8 0 0 .6zM1460.2 578.9l-.4-.1 .9 0-.5 .1zM1369.2 583.8l-2 .2-2-.6-7.4-3.6-.3-.6 1.7-.1 7 2 2.7 1.7 .3 1zM1095.2 583.5l-5.4-1.6-.7-.7 .1-1 5.6 1.9 1 .7-.6 .7zM1101.8 583l-1.7-.2-1.3-1.9 2.1 .3 1 1-.1 .8zM1422.8 584.4l-2 0-1.4-2.2-2.2-1.4 2.6 .3 3.4 1.5 .5 .6-.9 1.2zM1534.8 584.7l-3.7-1.5-.4-.4 .3-2 .8-.2 2 1.1 1.3 2.5-.3 .5zM1298.2 583.8l-2 .1-1.4-1.7 .4-.5 2 .4 1 1.7zM1114.8 582.9l-1.5-.7 1.5 0 0 .7zM1502.8 585.6l-5-2.2-.8-1.2 1.8-.2 1.4 .6 2.6 3zM1504.8 583.6l-2-.8-.3-.6 1.7 .5 .6 .9zM1482.8 583.9l-1 0-1.3-1.1 1.3-.2 1.1 .6-.1 .7zM1388.8 584.4l-.8-.6 .8 0 0 .6zM1172.2 585.8l-1.4-1.2-1.3 .2 1.3 1.1 1.4-.1zM1531.8 588.1l-4-.6-2.6 .4-4-2.1-.2-.6 .8-.7 4.4 .1 5 2.5 .6 1zM1135.2 588l-4.4-1.6-.6-1.2 1-.1 3.6 1.5 .9 1.2-.5 .2zM1089.8 586.4l-.3-.6 .7 .4-.4 .2zM1280.8 589.9l-2.6-.5-3-2.2 2-.2 1.6-1 1.4 .1 2.6 1.7-2 2.1zM1405.2 593.4l-2.4 0-8.6-4.6-.2-.6 1.3-.4-.1-1.6 2.6 .4 1.3 2.6 5.7 2.9 .6 .7-.2 .6zM1414.2 588.9l-1.4 0-2.3-1.1-.8-.6 0-1 2.1-.2 3.4 1.1 .6 1.1-1.6 .7zM1197.2 587.4l-.7-.6 1.2 0-.5 .6zM1367.8 590.9l-4-1-1.7-1.1-.4-1 5.1 .8 1.1 1.2-.1 1.1zM1482.2 589.4l-2-.5-1.2-1.1 1.2-.2 2.1 1.2-.1 .6zM1525.2 593.8l-3.4 .1-4-3.3-6.6-1.7-.7-1.1 7.7 .2 6 1.9 5.2 .9 0 1-1.2 .4-2.4-.7-1.3 .3 .7 2zM1127.8 590.9l-2.6 0-1.7-1.1-.3-1 1.6-.2 3 1.6 0 .7zM1093.2 590.4l-2.4-1.2 2.9 1-.5 .2zM1160.2 591.4l-1 .3-3.4-.8-1.8-1.7 .8-.2 4 1.1 1.6 .7 .3 .4-.5 .2zM1184.2 593.8l-3.4 .2-7-2.5-1.1 .3 .5 2.1-4.4 .1-2-.6-1.6-1.6 2.8-1-.2-1.8 5-.1 5.4 2 2-.4 2 .6 1.8 1.7 .2 1zM1387.8 593.8l-2 .2-5-1.5-3.6-2.5-.4-1.1 3 .7 8 4.2zM1475.2 591.8l-2.1-.6-.9-1.4 2.6-.8 5 2.2-3-.2-1.6 .8zM1418.8 593.8l-1 .2-6.6-1.6-3.2-2.6 1.2-.3 6 1.1 2.6 1.4 1 1.8zM1545.8 592.4l-4.6 .1-2.4-.6-1.1-1.1 .5-1.1 2.6-.2 3.4 1.1 1.7 1.2-.1 .6zM1259.2 593.9l-3.4 .1-1.6-.5-1.4 .5-8 0-1.1-.8 .1-.5 2-1.1 3-.3-.1-1.1 .5-.2 8 2.1 2.2 1.1-.2 .7zM1290.2 593.9l-2.6-.7-1.6-3 1.2-.1 1.6 .9 1.6 2.2-.2 .7zM1266.2 593.9l-3-.5-3.4-2.2 .1-.4 4.9 1.3 1.6 1.1-.2 .7zM1393.2 593.6l-2.1-.8-1.3-1.9 3.1 1.9 .3 .8zM1472.8 594l-3.6-.1-2.6-1.7-.6-1 1.2-.2 4 1.1 2.1 1.1-.5 .8zM1215.8 593.8l-4 .1-1.6-1.1-.2-1 6.8-.3 3.2 1.7-4.2 .6zM1106.8 593.9l-2.6-1.1-.2-.6 2.8 1 0 .7zM1120.8 593.4l-1.3-1.2 1.7 .5-.4 .7zM1144.2 593.9l-2-.5-.7-1.2 2.7 1 .5 .6-.5 .1zM1351.8 593.8l-2 .1-2.3-1.7 2.7 .4 1.6 1.2zM1370.2 593.9l-2 0-1.7-1.7 2.7 .4 1.2 .6 .3 .6-.5 .1zM1380.2 593.9l-3.4 0-1.7-1.7 2.1-.2 2 .6 1.2 .6-.2 .7zM1112.8 593.9l-1.5-1.1 1.1 0 .5 .4-.1 .7zM1356.8 593.9l-4.2-.1 1.2-1.2 1-.1 2.1 .7 .3 .6-.4 .1zM1240.8 593.9l-1-.1-.3-.6 1.3 0 .4 .6-.4 .1z"/>
<path fill="#00FFFF" fill-rule="evenodd" stroke="#4a3c36" stroke-width="1" stroke-dasharray="1.8 1.5" d="M1498.2 206.8l-1 .1-13-6.3-7-2.7-62.4-29-6-3.3-11.6-4.7-31.4-14.8-2 .3-3.6-.9-5.4 1.5-5 .1-2 1.4-7-2.5-2.6 1-8 0-2.4 1.4-3 .2-1.6 2.8-1.4 1.5-6 1.6-3-1.2-1.6-1.7-2.4-.2-6-2.5-5.6-4.5-4 .1-7.4-1-3-1.2-2 .7-6-.5-4.6 .5-5.4-2.4-3 1.8-2.6-.9-3 .4-2-1.1-4.4 .2-1.6 .7-2 2.7-1.4 0-3.6-3-.8-2.2-2.8-3-3.6-7-3.2-2.5-2.7-.9-1.4-1.6 .1-.6 2.4-2 2.7-.8 5.3-4.7 2.6 .3 5-3.3 4-.6 1.4 1.4 1.6 .1 2.4-.6 1.6-1.3 2.4 .4 6.6-2 3 1 2-1 1.3-2.3-22.9-12.1-84.4-41.7-1.6-1.6 .6-.6 1.4 .4 16.6 8.3 12 5.2 86.4 41.3 7.6-.4 2-.6 2.4-1.9 6 .5 5-1.5 1.6 .2 .7 1.5 1.3 .6 2-2.7 3.4-.7 1.6-1.3 1-.1 4.4 1.6 1.6 1.7 4.4-.2 2 .9 2 2.4 3.6 .1 3.4 1.5 4.6-1.1 4-1.9 6 0 2.4 2 4-1 2 1.4 3.6 .6 6.4-1.5 3 .5 3.6-.5 4.4 .5 2-.5 4 1 5.6 0 4-.9 4.4 4 1.6 2.7 4.4 .3 1.6 1.5 1.3 2.7 10.1 4.4 1.6 2.6-1 1.1-5 2.2-3 2.3-6 1.2-1.6 1.9-3 .1-8.4 6.8-3.6 .2-2.4 1.4-1.4-2.2-1.2-.2-2 2.3-4-.4-1.4 .6-1.4 2.1 20.8 10.7 76 37 6.6 2.7 20 10 .4 1.2zM1318.2 200.4l-1 0-1-1.2 1-1.6 1 0 .7 .6 0 1.6-.7 .6zM1319.2 211.4l-1.4 0-1.7-1.6 .6-2 1.1-.7 1.4 0 1.2 1.1 0 2-1.2 1.2zM1319.8 491.8l-.8-1-.6-6.6-2.3-3.4-.5-2-.1-4.6-1.5-5 0-4-2.5-6.4-1-8 0-6-1.5-4.6-1-16.4-1.4-3-.2-3.6-1.4-3 .5-8.4-.5-5.6-2.8-10-3.4 2.3-6.6-1.5-3 .8-.7-1 .4-2.6-1.7-1.5-2.4 1.7-2 .2-2-2-5.6-.8-.8-2.6-1.2-.7-1.1 .7-.9 2.6-5.4 2.1-3-.5-1.6-1.8-2-.1-4.4 1.2-2.6 3.2-3 0-1-2.2-2.4-.2-1.6 1.8-2 1.1-6 1.6-5-.5-2 .9-2.4-1.7-2.6 .8-2.4-.6-2.6-1.8-5-.6-1.2 1.3 .3 3-1.1 .1-1.9-4.1 .5-2.6-1-.2-2.7 1.2-.4 1.6 .8 2-1.3 1.2-1.1-.2-1.9-2.2-4.4-.3-.6-2.2-1.4-.6-2 0-2 .9-5.6-.3-1 2.2-4.4 2.2-3-2.9-2-.2-3-1.8-3.6 1.4-2.4-.7-2 .7-1.6-.9-2.4-.1-2.6-1.1-3.4-.5-1.7-1.6-.1-2-.8-.8-3.4 0-4 .9-2.6-1.8-5-.1-.5-.2-.3-2.6-.6-.6-2 0-1.9 2.2-.7 0-1.1-1-.9-2.7-2-1.3 0-3.1-8.4 3.1-.7-.6-.3-2-2-.3-3-1.9-2.6 .6-3.4 2.9-1.6-.1-3.6-1.6-1.3-3-.5-.3-4.6 0-3.4 1.9-3.6 .4-.2-6.6 1.4-1.4 .1-1-1.5-2.6 0-33.4 .2-1 1.6-.4 .7-1.2-.7-1.1-1.6-.3 0-1.1 1.6-.7 3.4-.1 2.6-1 2.7-2.1 .7-2.1 3.6 .2 2-1.8 1.6-.3 1-1-.2-1.1-1-.2-2 .7-.6-.4 0-1 1.6-1.6 3.2 1 .8 2.6 1.6 .7 2-.1 3.4-2.3 3 .8 3.6-1.9 8 1.5 3.4-1.7 2.6 .4 1.4 1.3 1.2-.7 .2-3.6 1-1.4 2.2-1.1 1 .5 2-.1 2.4 1.5 1-.1 .6-.7-.3-2 .7-2.2 2-.7 4-2.8 2.6-.6 3 .1 1.1 1.2 .9 2.1 1 .6 4-1.7 .4-1-4.4-3.2-3-.2-8-3.8-4.6-1.2-6-3.3-11-4.2-2.4-1.8-3.6-1.2-2.4-2.3-6.6-2.2-5.4-3.8-2.6 .3-7-3.8-12-5.2-2.2-2.1 .2-9.6 6 1.9 6 3.8 5 1.7 14 8.3 4 .7 8.6 4.8 3.4 .7 6 3.3 5 .7 7 5.8 3.6 1.5 6.4 1.7 5 3.3 6.6 3 2.4-.5 3-1.7 1.6 1.7 4.4 .7 4.6 1.9 1.1-.7 .2-3 .7-.8 1-.5 3 .1 .6 .6 0 1.6-3.2 1.8-.2 2.2 1.2 1.1 2.6 .6 1-.6 .3-1.7 .7-.4 3 1.9 3.4-.4 .4-2.1 2.2-2.2 1 .6 .4 1.6 .6 .3 2-.1 2-1.4 3.4-.1 .8-1.1-.4-2 1.2-.8 2 .5 2-.4 3 1.8 2-.4 2.4 .5 5-3 3 .5 17.6-1.5 4.4 2.5 2.2-.7 2.8-4.2 1.6 0 2.4 1.4 4-2 5 .6 1.6 1.3 3.4 .9 1-1.8 2 .5 1.7-.7 2.9-3.6 1.8 2 1.6 .8 3-1.1 1.2-1.1 .2-2 1.4-2-1.4-2 0-1 1.7-1 .8-1.6 1.1 0 1.2-1 1.5-3.4 .2-4 2.1-2.4 .7-1.6 .6-3 0-5 1.5-3.6 0-3 2.5-10 0-4 2-6.4 0-3.6 .7-1.2 1-.3 .8 1.1 0 4 1.1 4 3.3 5.4 1.7 7 2.3 4.6 .1 4.4 1.5 4.6 1.5 11.4 1.9 2.6 .1 4 1.5 4-.7 2.4-.5 .3-6.6 .3 .3 1 2.3 1.6 3-.4 2.4 1.5 2-.5 4.6 .3 .5-.5-.2-2 1.7-1 1 .8 .7 1.6 4.7 4.7 4-.4 2 1.1 2-.1 1.6 .8 3.1-2.1 1.7-2 1.2-.1 2.4 3.4 1.6 .2 3-1.1 8 3.4 2-1 2 .5 2.4-.4 1.1 .7 2.9 4.1 1.2-.1 2.8-2.7 1 .1 1 1.6 3.1 0 .1 1-1.6 1.4 .4 1.1 4 1.1 2-.5 4.6-2.6 3.4 1.7 2-1.4 2.6-.2 3-1.8 1.4 0 2.7 4.2 .9 4 3 2.6 5.4 .3 1.3 3.1 2.3 1.2 1.6-.8 .2-2 1.3-1.4 .2-1.6 1.7-1.6 3 .4 3-1.4 2.4-.1 4 .6 .7 .7 .7 3 .8 0 1.4-1.6 3.8 3.6 1.6 .7 3.6-.1 2-1.9 3 1 7-1 3 1.4 3 .6 3.4-1.5 1 .5 4 4.4 2 .2 1.6 1.3 3.4 .2 1.6 2.1-.3-2.5 .7-.5 1.9 2.1 1.7 .7 3-1 3.4 1 6-1 2 2.8 2-.2 2 1.3 4.6 1.2 4.4 4.8 4.6 1.2 1.4 1.3 1.2-.1 4.4-4.1 1.4-.4 1.6 .8 1.2 4.1-.1 39.6-2.3 1-2.4 2.2-1-.6-2.3-3.2-1.7-.1-2.4 3.1 1.4 .4 2.3 1.6 .5 1-.2 1.6-2.6-.3-2 1.9-2.4 .2-1.6 2.4-1.4-.2-1.6-1.6-2 1.6-6.4-.2-1.2 1.2-.1 1 1.7 3-2.4 .3-4 2.8-4 .8-1.7-1.5-1.1-3-.8-.6-1.4 0-2.2 1.6-.8 3.6-2.6 .8-.2 2.2-.8 .5-3.4-1.9-.9-3.2-1.1-1.1-5.6 1.9-2-.1-2-.9-5 .5-2.4-.6-4-2-1.6-1.9-1.4-.9-3.6-.1-1.1 .8 .1 1 3.6 .4 .5 1.6-1.2 1-1.3 3-3 1.2-2.6 0-3.4-1.1-3-2.1-3 2.6-7 .7-3.6 1.9-6-1.3-1 2.2-1.4 .6-4-.6-3-3.8-3-.1-1.2 .8-.7 2.4-1.1 1.1-2-.8-2.6 .3-1.4-.8-4 1.2-1 .8-1.6 0-2-1.9-4.4-.6-3 2.1-2.6-.4-2.7 2.6 .7 1.1 9 5.5 6.6 2.2 5.4 2.8 6 1.7 4.6 2.5 4 3.3 4 .7 4 2.3 4.4 .7 7 5.3 6 2.2 2 1.8 2.6 .2 8 3.8 11 3.7 4.4 3.8 3 .7 2 1.8 5 1.7 5 2.8 5 .7 2.6 2.3 4.4 2.5 3.6 .7 7 4.8 3 .2 6.4 4.3 9.6 3.7 3 1.8 6 1.7 1.2 1.7-.2 10.2-6.6-2.1-3.4-2.3-5-1.2-3.2-2.2-1.8-2.1-4-.7-8-4-4.6-3.3-3.4 .3-3.6-2.8-5-1.7-3-2.8-5-2-5-.7-2.6-1.6-3.4-3.2-4-2-3-.7-4.4-2.3-3.6-.7-6.4-3.3-6.6-2.2-6-4.3-11-5.5-3-.7-5-3.3-4-.7-9.4-4.8-1.6-.2-4-3.3-4-1.2-2.4-2.3-12-3.7-4.6-3.3-5-1.7-7.4-4.5-2.6-2.3-7.4-1.7-2.7-1.7-2.9-2.6-4-1.6-1.1 .8 .3 2.4-1.6 2 .7 1.6-1.3 1.6-6.4-1-3-2.3-1-.1-3.6 2.2-1.6 3.6 .4 5.4-2 10.6 .5 5.4-1.5 5.6 0 4-.6 3.4-2.3 4.6-.1 4-1 3-.1 2.4-1.9 4.6 .5 6-1 2 0 3.4-1 3.6 .5 8-1.9 5.4-.7 4.6-2.8 6-.8 6zM1390.2 286.9l-.7-.1-.1-.6 .8-.6 .6 .6-.6 .7zM1401.2 288.3l-1.5-.5 .5-1.2 1.6 .2 .1 1-.7 .5zM1109.4 366.8l.4-1.2-1.6-.4 0 1.6 1.2 0zM1516.9 378.2l1.5-2-1.2-1.5-1.4 .5-.8 1.6 .6 1.4 1.3 0zM1128.2 378.8l-1 .1-1-1 0-1.7 1.6 .4 .4 2.2zM1156.8 378.8l-.6-1.1-.9 .5 .9 1 .6-.4zM1265.3 386.2l-.5-1.1-1 0-.5 .7 .9 .7 1.1-.3zM1304.6 386.2l-.4-.5-.4 .2 .4 .7 .4-.4zM1181.8 388.8l-.5-2-1.1-.1 0 1.7 1.6 .4zM1385 388.2l-.8-1.1-1.5-.3-.3 .4 1.4 1.2 1.2-.2zM1418.8 391.9l-1-.1-.3-.6 1.3-1 .7 .6-.7 1.1zM1319.8 503.4l-1.6 0-1.1-1.2 0-1.4 1.1-1.2 1.6 0 1.1 1.2 0 1.4-1.1 1.2z"/>
<path fill="#00FF80" fill-rule="evenodd" stroke="#4a3c36" stroke-width="1" stroke-dasharray="1.8 1.5" d="M1349.2 138.8l-2-.4-2.4-2.3-4.6-2.6-14 0-2.4-.5-6.6 .5-3-1-13.4 .5-5.6-.5-5.4-1.1-7-3.5-1.7-1.1-.4-1 6.1-3.7 2-.2 2-1.8 6.4-1.1 6 .5 2-.5 11 0 5-1 5.6 .5 3.4-1 4 1 4.6 0 5-1 12.4-.4 1.8 1.1 3.5 4 .6 2-7.1 10-3.9 2.6-1.9 2zM1317.8 403.4l-.6 .2-1.4-1.7-1-2.8-2.1-1.3 .2-3.6-4.3-6-.6-1.4 .4-2-2.3-3-3.3-6.6-2.6-.7-4 .5-5-.7-3 1.7-3.4-1-3.6-.1-4-1.4-4 1-3-1-4.4 1.5-2-1-7-.6-2.6-1.4-2 .1-2.4 1.2-4.6-3.2-4.4-1.1-3.6 .5-4.4-1.1-3-2.3-6-.2-2-1.7-2.6 1.1-2.3-3.1-7.3-4.4-2.8-3.3-3.7-2.3-2.7-2.4-1.8-.6-.6-2 1.8-4.1 6-2.7 2.3-3.2 3.7-2.6 4-.7 3-2.3 2.4-.2 3.6-2.3 3.4-.2 5.6-2.8 2.9 .1 .1-.5-5.6-4.1-7.4-4.2-9-6.6 2.4-.3 6.6 1.6 10 5.3 3 .7 2 1.3 3 .7 6 2.8 3.4 .6 5.6-2.5 4 1 2.4-.1 2-1.3 7-2.1 4.6 .7 7-.7 2.4 .3 1.6-.8 3 0 3.4-1.2 2 .4 6-1.7 6 1 9-11.7 2.1 1 .8 3 1.1 1.2 3 .6 1.8 1.2 1.8 4 2.4 .3 2.6 1.8 7 .6 2.4 1.4 4 .6 4.6-.5 4 .6 2.4 1.4 2-.5 2.6 2.2 7.4-.7 4 1.9 3 .2 2 .9 2.6 .2 2-1.1 2.4-.1 3.6 2.5 4.4-1 3.6 .1 3.4 2.3 3 .2 2 1.3 3.6-.3 6 3.8 4 1.2 3 2.3 5 .7 4.4 3.6 1.6 2.1 2.1 1 1.4 1.4-1 2-2.1 1.6-2 2.6-7.4 3.7-3.6 2.8-4.4 .2-4.6 3.3-8.4 .6-2.6-.4-2.4 2.8-4-.9-5.6 2.4-2.4-.4-2 .9-3 .2-2.6 2.3-1.4 .6-5-2.4-1.6-.1-3 2.4-2.4 1-3-.9-5.6 1.5-3-.5-3.4 1.1-3 1.9-11.6-.4-1 .7-1.1 2-1.7 6-2.8 1.4-2.2 6-3.3 4-.2 2-1 2-4.1 5.2z"/>
<path fill="#00FF00" fill-rule="evenodd" stroke="#4a3c36" stroke-width="1" stroke-dasharray="1.8 1.5" d="M1335.2 131.9l-8.4 .1-1.6-.5-2 .5-12.4-1-5.6-1.2-2 .2-6-2.5-1.1-1.3-1.1-3 1.6-2 2.2-.7 5 0 4.4-1 13.6-.4 15.4 2.5 5 1.5 1.8 1.1 .4 2.6-1.6 2.2-4.6 2.4-3 .5zM1321.8 375.4l-1 .3-2-.8-9-5.9-9-.5-15-2-3.6 .5-7-2.9-3-.1-3.4-1.4-3.6-.2-5.4-4.5-1.1-2.1 5.9-5 6.2-3.7 5-.7 4-1.8 2.4-.2 23.6-6.8 11-2.2 4-1.4 4 1.9 7 1.2 8 2.8 4.4 .7 6 2.8 6 2 9.6 1.1 4.4 1.1 2 2 2 3.2 1.7 1 1.5 2-2.5 2.4-5.7 3.7-29 6.6-5.4 0-4.6 1.1-5.4 4.3-3 1.5z"/>
<path fill="#FFFF00" fill-rule="evenodd" stroke="#4a3c36" stroke-width="1" stroke-dasharray="1.8 1.5" d="M1330.8 130.9l-10-.9-6.6-1.6-4.7-2.6-.9-1.6 0-1.4 .6-1.1 1.6-.7 2.4-.5 6.6 0 6.4 1.1 4.6 1.5 4.1 2.1 2.1 2.6-.1 1-1.1 1.1-5 1zM1329.2 366.4l-12 .1-17.4-2.1-11.6-4.5-1.1-1.1 0-2.6 .7-1 3-1.6 11-2.1 21.4 .5 13 1.5 6 1.6 6.6 3 2.1 2.7-1.1 1.7-2.6 1.4-10.4 2.1-7.6 .4z"/>
<path fill="#FF8000" fill-rule="evenodd" stroke="#4a3c36" stroke-width="1" stroke-dasharray="1.8 1.5" d="M1330.2 129.4l-6.4 .1-5.6-1.1-5.4-2.9-.7-.7 0-1.6 1.1-1.1 2.6-.6 4.4 0 6.6 1.6 3.4 2 1.7 1.7 0 1-1.7 1.6zM1327.8 365.4l-12-.4-12-2.6-4.8-3.2-.9-1 0-1.4 1.1-1.2 1.6-.5 5.4-1.1 15 0 11.6 1.6 3.4 1 4 2 1.2 1.2 .1 1.4-.7 1.6-2 1.1-11 1.5z"/>
<path fill="#FF0000" fill-rule="evenodd" stroke="#4a3c36" stroke-width="1" stroke-dasharray="1.8 1.5" d="M1326.2 128.4l-1.4 .1-4.6-1.1-2-1.2-.5-1.4 1.5-1.3 4 0 2 .6 2.2 1.1 1 1.6-.5 1-1.7 .6zM1328.8 364.4l-12 0-11-3-2.3-1.6-.4-1.6 2.7-1.6 2.4-.6 11.6-.5 12 2.1 3 1.5 1.6 1.7-.5 1.4-2.1 1.2-5 1z"/>
<g font-family="'Liberation Sans', Arial, sans-serif" font-weight="bold" fill="#000">
<rect x="117" y="17" width="459.5" height="577" fill="none" stroke="#000" stroke-width="2"/>
<line x1="117.00" y1="594.00" x2="117.00" y2="604.50" stroke="#000" stroke-width="2" />
<line x1="174.44" y1="594.00" x2="174.44" y2="599.50" stroke="#000" stroke-width="2" />
<line x1="231.88" y1="594.00" x2="231.88" y2="604.50" stroke="#000" stroke-width="2" />
<line x1="289.31" y1="594.00" x2="289.31" y2="599.50" stroke="#000" stroke-width="2" />
<line x1="346.75" y1="594.00" x2="346.75" y2="604.50" stroke="#000" stroke-width="2" />
<line x1="404.19" y1="594.00" x2="404.19" y2="599.50" stroke="#000" stroke-width="2" />
<line x1="461.62" y1="594.00" x2="461.62" y2="604.50" stroke="#000" stroke-width="2" />
<line x1="519.06" y1="594.00" x2="519.06" y2="599.50" stroke="#000" stroke-width="2" />
<line x1="576.50" y1="594.00" x2="576.50" y2="604.50" stroke="#000" stroke-width="2" />
<line x1="106.50" y1="17.00" x2="117.00" y2="17.00" stroke="#000" stroke-width="2" />
<line x1="111.50" y1="99.38" x2="117.00" y2="99.38" stroke="#000" stroke-width="2" />
<line x1="106.50" y1="181.77" x2="117.00" y2="181.77" stroke="#000" stroke-width="2" />
<line x1="111.50" y1="264.15" x2="117.00" y2="264.15" stroke="#000" stroke-width="2" />
<line x1="106.50" y1="346.53" x2="117.00" y2="346.53" stroke="#000" stroke-width="2" />
<line x1="111.50" y1="428.92" x2="117.00" y2="428.92" stroke="#000" stroke-width="2" />
<line x1="106.50" y1="511.30" x2="117.00" y2="511.30" stroke="#000" stroke-width="2" />
<line x1="111.50" y1="593.68" x2="117.00" y2="593.68" stroke="#000" stroke-width="2" />
<text x="98.5" y="26.6" font-size="36" text-anchor="end" >3.3</text>
<text x="98.5" y="191.4" font-size="36" text-anchor="end" >3.2</text>
<text x="98.5" y="356.1" font-size="36" text-anchor="end" >3.1</text>
<text x="98.5" y="520.9" font-size="36" text-anchor="end" >3.0</text>
<text x="117.0" y="640.0" font-size="35.3" text-anchor="middle" >-0.04</text>
<text x="231.9" y="640.0" font-size="35.3" text-anchor="middle" >-0.02</text>
<text x="346.8" y="640.0" font-size="35.3" text-anchor="middle" >0.00</text>
<text x="461.6" y="640.0" font-size="35.3" text-anchor="middle" >0.02</text>
<text x="576.5" y="640.0" font-size="35.3" text-anchor="middle" >0.04</text>
<text x="347.8" y="703" font-size="35" text-anchor="middle">Qx <tspan font-weight="normal">(</tspan>nm<tspan dy="-14" font-size="23">-1</tspan><tspan dy="14" font-weight="normal">)</tspan></text>
<text transform="translate(35.7,305.5) rotate(-90)" x="0" y="0" font-size="35" text-anchor="middle">Qz <tspan font-weight="normal">(</tspan>nm<tspan dy="-14" font-size="23">-1</tspan><tspan dy="14" font-weight="normal">)</tspan></text>
<rect x="651.5" y="17.30" width="48.2" height="57.97" fill="#808080"/>
<rect x="651.5" y="74.97" width="48.2" height="57.97" fill="#FF0000"/>
<rect x="651.5" y="132.64" width="48.2" height="57.97" fill="#FF8000"/>
<rect x="651.5" y="190.31" width="48.2" height="57.97" fill="#FFFF00"/>
<rect x="651.5" y="247.98" width="48.2" height="57.97" fill="#00FF00"/>
<rect x="651.5" y="305.65" width="48.2" height="57.97" fill="#00FF80"/>
<rect x="651.5" y="363.32" width="48.2" height="57.97" fill="#00FFFF"/>
<rect x="651.5" y="420.99" width="48.2" height="57.97" fill="#0080FF"/>
<rect x="651.5" y="478.66" width="48.2" height="57.97" fill="#0000FF"/>
<rect x="651.5" y="536.33" width="48.2" height="57.97" fill="#000000"/>
<rect x="651.5" y="17.3" width="48.2" height="576.7" fill="none" stroke="#000" stroke-width="1.3"/>
<line x1="699.70" y1="74.97" x2="711.20" y2="74.97" stroke="#000" stroke-width="1.6" />
<text x="724.2" y="85.3" font-size="29" text-anchor="start" >1.000</text>
<line x1="699.70" y1="132.64" x2="711.20" y2="132.64" stroke="#000" stroke-width="1.6" />
<text x="724.2" y="142.9" font-size="29" text-anchor="start" >0.1334</text>
<line x1="699.70" y1="190.31" x2="711.20" y2="190.31" stroke="#000" stroke-width="1.6" />
<text x="724.2" y="200.6" font-size="29" text-anchor="start" >0.01778</text>
<line x1="699.70" y1="247.98" x2="711.20" y2="247.98" stroke="#000" stroke-width="1.6" />
<text x="724.2" y="258.3" font-size="29" text-anchor="start" >0.002371</text>
<line x1="699.70" y1="305.65" x2="711.20" y2="305.65" stroke="#000" stroke-width="1.6" />
<text x="724.2" y="316.0" font-size="29" text-anchor="start" >3.162E-4</text>
<line x1="699.70" y1="363.32" x2="711.20" y2="363.32" stroke="#000" stroke-width="1.6" />
<text x="724.2" y="373.6" font-size="29" text-anchor="start" >4.217E-5</text>
<line x1="699.70" y1="420.99" x2="711.20" y2="420.99" stroke="#000" stroke-width="1.6" />
<text x="724.2" y="431.3" font-size="29" text-anchor="start" >5.623E-6</text>
<line x1="699.70" y1="478.66" x2="711.20" y2="478.66" stroke="#000" stroke-width="1.6" />
<text x="724.2" y="489.0" font-size="29" text-anchor="start" >7.499E-7</text>
<line x1="699.70" y1="536.33" x2="711.20" y2="536.33" stroke="#000" stroke-width="1.6" />
<text x="724.2" y="546.6" font-size="29" text-anchor="start" >1.000E-7</text>
<rect x="1089" y="17" width="460" height="577" fill="none" stroke="#000" stroke-width="2"/>
<line x1="1089.00" y1="594.00" x2="1089.00" y2="604.50" stroke="#000" stroke-width="2" />
<line x1="1146.50" y1="594.00" x2="1146.50" y2="599.50" stroke="#000" stroke-width="2" />
<line x1="1204.00" y1="594.00" x2="1204.00" y2="604.50" stroke="#000" stroke-width="2" />
<line x1="1261.50" y1="594.00" x2="1261.50" y2="599.50" stroke="#000" stroke-width="2" />
<line x1="1319.00" y1="594.00" x2="1319.00" y2="604.50" stroke="#000" stroke-width="2" />
<line x1="1376.50" y1="594.00" x2="1376.50" y2="599.50" stroke="#000" stroke-width="2" />
<line x1="1434.00" y1="594.00" x2="1434.00" y2="604.50" stroke="#000" stroke-width="2" />
<line x1="1491.50" y1="594.00" x2="1491.50" y2="599.50" stroke="#000" stroke-width="2" />
<line x1="1549.00" y1="594.00" x2="1549.00" y2="604.50" stroke="#000" stroke-width="2" />
<line x1="1078.50" y1="17.00" x2="1089.00" y2="17.00" stroke="#000" stroke-width="2" />
<line x1="1083.50" y1="74.70" x2="1089.00" y2="74.70" stroke="#000" stroke-width="2" />
<line x1="1078.50" y1="132.40" x2="1089.00" y2="132.40" stroke="#000" stroke-width="2" />
<line x1="1083.50" y1="190.10" x2="1089.00" y2="190.10" stroke="#000" stroke-width="2" />
<line x1="1078.50" y1="247.80" x2="1089.00" y2="247.80" stroke="#000" stroke-width="2" />
<line x1="1083.50" y1="305.50" x2="1089.00" y2="305.50" stroke="#000" stroke-width="2" />
<line x1="1078.50" y1="363.20" x2="1089.00" y2="363.20" stroke="#000" stroke-width="2" />
<line x1="1083.50" y1="420.90" x2="1089.00" y2="420.90" stroke="#000" stroke-width="2" />
<line x1="1078.50" y1="478.60" x2="1089.00" y2="478.60" stroke="#000" stroke-width="2" />
<line x1="1083.50" y1="536.30" x2="1089.00" y2="536.30" stroke="#000" stroke-width="2" />
<line x1="1078.50" y1="594.00" x2="1089.00" y2="594.00" stroke="#000" stroke-width="2" />
<text x="1070.5" y="26.6" font-size="36" text-anchor="end" >5.3</text>
<text x="1070.5" y="142.0" font-size="36" text-anchor="end" >5.2</text>
<text x="1070.5" y="257.4" font-size="36" text-anchor="end" >5.1</text>
<text x="1070.5" y="372.8" font-size="36" text-anchor="end" >5.0</text>
<text x="1070.5" y="488.2" font-size="36" text-anchor="end" >4.9</text>
<text x="1070.5" y="603.6" font-size="36" text-anchor="end" >4.8</text>
<text x="1089.0" y="640.0" font-size="35.3" text-anchor="middle" >-0.04</text>
<text x="1204.0" y="640.0" font-size="35.3" text-anchor="middle" >-0.02</text>
<text x="1319.0" y="640.0" font-size="35.3" text-anchor="middle" >0.00</text>
<text x="1434.0" y="640.0" font-size="35.3" text-anchor="middle" >0.02</text>
<text x="1549.0" y="640.0" font-size="35.3" text-anchor="middle" >0.04</text>
<text x="1321.0" y="703" font-size="35" text-anchor="middle">Qx <tspan font-weight="normal">(</tspan>nm<tspan dy="-14" font-size="23">-1</tspan><tspan dy="14" font-weight="normal" dx="4">)</tspan></text>
<text transform="translate(1005.7,305.5) rotate(-90)" x="0" y="0" font-size="35" text-anchor="middle">Qz <tspan font-weight="normal">(</tspan>nm<tspan dy="-14" font-size="23">-1</tspan><tspan dy="14" font-weight="normal">)</tspan></text>
<rect x="1623.5" y="17.30" width="49.0" height="57.97" fill="#808080"/>
<rect x="1623.5" y="74.97" width="49.0" height="57.97" fill="#FF0000"/>
<rect x="1623.5" y="132.64" width="49.0" height="57.97" fill="#FF8000"/>
<rect x="1623.5" y="190.31" width="49.0" height="57.97" fill="#FFFF00"/>
<rect x="1623.5" y="247.98" width="49.0" height="57.97" fill="#00FF00"/>
<rect x="1623.5" y="305.65" width="49.0" height="57.97" fill="#00FF80"/>
<rect x="1623.5" y="363.32" width="49.0" height="57.97" fill="#00FFFF"/>
<rect x="1623.5" y="420.99" width="49.0" height="57.97" fill="#0080FF"/>
<rect x="1623.5" y="478.66" width="49.0" height="57.97" fill="#0000FF"/>
<rect x="1623.5" y="536.33" width="49.0" height="57.97" fill="#000000"/>
<rect x="1623.5" y="17.3" width="49.0" height="576.7" fill="none" stroke="#000" stroke-width="1.3"/>
<line x1="1672.50" y1="74.97" x2="1684.00" y2="74.97" stroke="#000" stroke-width="1.6" />
<text x="1697.0" y="85.3" font-size="29" text-anchor="start" >1.000</text>
<line x1="1672.50" y1="132.64" x2="1684.00" y2="132.64" stroke="#000" stroke-width="1.6" />
<text x="1697.0" y="142.9" font-size="29" text-anchor="start" >0.1334</text>
<line x1="1672.50" y1="190.31" x2="1684.00" y2="190.31" stroke="#000" stroke-width="1.6" />
<text x="1697.0" y="200.6" font-size="29" text-anchor="start" >0.01778</text>
<line x1="1672.50" y1="247.98" x2="1684.00" y2="247.98" stroke="#000" stroke-width="1.6" />
<text x="1697.0" y="258.3" font-size="29" text-anchor="start" >0.002371</text>
<line x1="1672.50" y1="305.65" x2="1684.00" y2="305.65" stroke="#000" stroke-width="1.6" />
<text x="1697.0" y="316.0" font-size="29" text-anchor="start" >3.162E-4</text>
<line x1="1672.50" y1="363.32" x2="1684.00" y2="363.32" stroke="#000" stroke-width="1.6" />
<text x="1697.0" y="373.6" font-size="29" text-anchor="start" >4.217E-5</text>
<line x1="1672.50" y1="420.99" x2="1684.00" y2="420.99" stroke="#000" stroke-width="1.6" />
<text x="1697.0" y="431.3" font-size="29" text-anchor="start" >5.623E-6</text>
<line x1="1672.50" y1="478.66" x2="1684.00" y2="478.66" stroke="#000" stroke-width="1.6" />
<text x="1697.0" y="489.0" font-size="29" text-anchor="start" >7.499E-7</text>
<line x1="1672.50" y1="536.33" x2="1684.00" y2="536.33" stroke="#000" stroke-width="1.6" />
<text x="1697.0" y="546.6" font-size="29" text-anchor="start" >1.000E-7</text>
<text x="410.6" y="791.8" font-size="45.6" text-anchor="middle" >(a)</text>
<text x="1391.7" y="791.8" font-size="45.6" text-anchor="middle" >(b)</text>
<text x="417.2" y="1607.6" font-size="45.6" text-anchor="middle" >(c)</text>
<text x="1395.4" y="1617.0" font-size="45.6" text-anchor="middle" >(d)</text>
</g>
<path d="M132.6,1373.7 L136.0,1373.7 L140.2,1373.7 L144.3,1373.7 L148.5,1373.7 L152.6,1373.7 L156.8,1373.7 L160.9,1373.7 L165.1,1373.7 L169.2,1373.7 L173.4,1373.7 L177.5,1373.7 L181.7,1373.7 L185.8,1373.7 L190.0,1373.7 L194.1,1373.7 L198.3,1373.7 L202.4,1373.7 L206.6,1373.7 L210.7,1373.7 L214.9,1373.7 L219.0,1373.7 L223.2,1373.7 L227.3,1373.7 L231.5,1373.7 L235.6,1373.7 L239.8,1373.7 L243.9,1373.7 L248.1,1373.7 L252.2,1373.7 L256.4,1373.7 L260.5,1373.7 L264.7,1373.7 L268.8,1373.7 L273.0,1373.7 L277.1,1373.7 L281.3,1373.6 L285.4,1373.6 L289.6,1373.6 L293.8,1373.6 L297.9,1373.6 L302.0,1373.6 L306.2,1373.6 L310.3,1373.5 L314.5,1373.5 L318.6,1373.5 L322.8,1373.4 L326.9,1373.3 L331.1,1373.2 L335.2,1373.1 L339.4,1373.0 L343.5,1372.8 L347.7,1372.5 L351.8,1372.2 L356.0,1371.7 L360.1,1371.0 L364.3,1370.0 L368.4,1368.7 L372.6,1366.7 L376.8,1363.7 L380.9,1359.3 L385.0,1352.6 L389.2,1342.2 L393.3,1326.1 L397.5,1301.2 L401.6,1263.5 L405.8,1208.9 L409.9,1136.1 L414.1,1052.9 L418.2,980.6 L422.4,947.8 L426.5,970.4 L430.7,1037.3 L434.8,1120.4 L439.0,1196.2 L443.1,1254.4 L447.3,1295.1 L451.4,1322.1 L455.6,1339.6 L459.8,1350.9 L463.9,1358.2 L468.0,1363.0 L472.2,1366.2 L476.3,1368.3 L480.5,1369.8 L484.6,1370.8 L488.8,1371.5 L492.9,1372.1 L497.1,1372.5 L501.2,1372.7 L505.4,1372.9 L509.5,1373.1 L513.7,1373.2 L517.9,1373.3 L522.0,1373.4 L526.1,1373.4 L530.3,1373.5 L534.5,1373.5 L538.6,1373.6 L542.8,1373.6 L546.9,1373.6 L551.0,1373.6 L555.2,1373.6 L559.4,1373.6 L563.5,1373.6 L567.6,1373.7 L571.8,1373.7 L576.0,1373.7 L580.1,1373.7 L584.2,1373.7 L588.4,1373.7 L592.5,1373.7 L596.7,1373.7 L600.9,1373.7 L605.0,1373.7 L609.1,1373.7 L613.3,1373.7 L617.5,1373.7 L621.6,1373.7 L625.8,1373.7 L629.9,1373.7 L634.0,1373.7 L638.2,1373.7 L642.4,1373.7 L646.5,1373.7 L650.6,1373.7 L654.8,1373.7 L659.0,1373.7 L663.1,1373.7 L667.2,1373.7 L671.4,1373.7 L675.5,1373.7 L679.7,1373.7 L683.9,1373.7 L688.0,1373.7 L692.1,1373.7 L696.3,1373.7 L700.5,1373.7 L704.6,1373.7 L707.8,1373.7" fill="none" stroke="#FF0000" stroke-width="1.9" stroke-linejoin="round"/>
<path d="M132.6,1373.6 L136.0,1373.6 L140.2,1373.6 L144.3,1373.6 L148.5,1373.6 L152.6,1373.6 L156.8,1373.6 L160.9,1373.5 L165.1,1373.5 L169.2,1373.5 L173.4,1373.5 L177.5,1373.5 L181.7,1373.4 L185.8,1373.4 L190.0,1373.4 L194.1,1373.3 L198.3,1373.3 L202.4,1373.2 L206.6,1373.2 L210.7,1373.1 L214.9,1373.1 L219.0,1373.0 L223.2,1372.9 L227.3,1372.8 L231.5,1372.7 L235.6,1372.5 L239.8,1372.4 L243.9,1372.2 L248.1,1372.0 L252.2,1371.7 L256.4,1371.4 L260.5,1371.1 L264.7,1370.7 L268.8,1370.3 L273.0,1369.7 L277.1,1369.1 L281.3,1368.4 L285.4,1367.6 L289.6,1366.6 L293.8,1365.4 L297.9,1364.0 L302.0,1362.4 L306.2,1360.5 L310.3,1358.2 L314.5,1355.6 L318.6,1352.4 L322.8,1348.7 L326.9,1344.3 L331.1,1339.1 L335.2,1333.0 L339.4,1325.8 L343.5,1317.3 L347.7,1307.5 L351.8,1296.1 L356.0,1282.8 L360.1,1267.6 L364.3,1250.4 L368.4,1230.9 L372.6,1209.2 L376.8,1185.3 L380.9,1159.5 L385.0,1132.0 L389.2,1103.6 L393.3,1074.7 L397.5,1046.5 L401.6,1019.8 L405.8,995.9 L409.9,975.8 L414.1,960.6 L418.2,951.1 L422.4,947.8 L426.5,950.9 L430.7,960.3 L434.8,975.4 L439.0,995.4 L443.1,1019.2 L447.3,1045.8 L451.4,1074.0 L455.6,1102.9 L459.8,1131.4 L463.9,1158.8 L468.0,1184.7 L472.2,1208.6 L476.3,1230.4 L480.5,1249.9 L484.6,1267.3 L488.8,1282.5 L492.9,1295.8 L497.1,1307.2 L501.2,1317.1 L505.4,1325.6 L509.5,1332.8 L513.7,1338.9 L517.9,1344.2 L522.0,1348.6 L526.1,1352.3 L530.3,1355.5 L534.5,1358.2 L538.6,1360.4 L542.8,1362.4 L546.9,1364.0 L551.0,1365.4 L555.2,1366.5 L559.4,1367.5 L563.5,1368.4 L567.6,1369.1 L571.8,1369.7 L576.0,1370.3 L580.1,1370.7 L584.2,1371.1 L588.4,1371.4 L592.5,1371.7 L596.7,1372.0 L600.9,1372.2 L605.0,1372.4 L609.1,1372.5 L613.3,1372.7 L617.5,1372.8 L621.6,1372.9 L625.8,1373.0 L629.9,1373.1 L634.0,1373.1 L638.2,1373.2 L642.4,1373.2 L646.5,1373.3 L650.6,1373.3 L654.8,1373.4 L659.0,1373.4 L663.1,1373.4 L667.2,1373.5 L671.4,1373.5 L675.5,1373.5 L679.7,1373.5 L683.9,1373.5 L688.0,1373.6 L692.1,1373.6 L696.3,1373.6 L700.5,1373.6 L704.6,1373.6 L707.8,1373.6" fill="none" stroke="#000080" stroke-width="2.0" stroke-linejoin="round" stroke-dasharray="8.2 8.8"/>
<rect x="132.6" y="862.5" width="575.2" height="575.1" fill="none" stroke="#000" stroke-width="2"/>
<line x1="204.50" y1="1437.60" x2="204.50" y2="1433.00" stroke="#000" stroke-width="2" />
<line x1="204.50" y1="862.50" x2="204.50" y2="867.10" stroke="#000" stroke-width="2" />
<line x1="276.40" y1="1437.60" x2="276.40" y2="1428.60" stroke="#000" stroke-width="2" />
<line x1="276.40" y1="862.50" x2="276.40" y2="871.50" stroke="#000" stroke-width="2" />
<line x1="348.30" y1="1437.60" x2="348.30" y2="1433.00" stroke="#000" stroke-width="2" />
<line x1="348.30" y1="862.50" x2="348.30" y2="867.10" stroke="#000" stroke-width="2" />
<line x1="420.20" y1="1437.60" x2="420.20" y2="1428.60" stroke="#000" stroke-width="2" />
<line x1="420.20" y1="862.50" x2="420.20" y2="871.50" stroke="#000" stroke-width="2" />
<line x1="492.10" y1="1437.60" x2="492.10" y2="1433.00" stroke="#000" stroke-width="2" />
<line x1="492.10" y1="862.50" x2="492.10" y2="867.10" stroke="#000" stroke-width="2" />
<line x1="564.00" y1="1437.60" x2="564.00" y2="1428.60" stroke="#000" stroke-width="2" />
<line x1="564.00" y1="862.50" x2="564.00" y2="871.50" stroke="#000" stroke-width="2" />
<line x1="635.90" y1="1437.60" x2="635.90" y2="1433.00" stroke="#000" stroke-width="2" />
<line x1="635.90" y1="862.50" x2="635.90" y2="867.10" stroke="#000" stroke-width="2" />
<line x1="132.60" y1="1416.29" x2="137.20" y2="1416.29" stroke="#000" stroke-width="2" />
<line x1="707.80" y1="1416.29" x2="703.20" y2="1416.29" stroke="#000" stroke-width="2" />
<line x1="132.60" y1="1373.70" x2="141.60" y2="1373.70" stroke="#000" stroke-width="2" />
<line x1="707.80" y1="1373.70" x2="698.80" y2="1373.70" stroke="#000" stroke-width="2" />
<line x1="132.60" y1="1331.11" x2="137.20" y2="1331.11" stroke="#000" stroke-width="2" />
<line x1="707.80" y1="1331.11" x2="703.20" y2="1331.11" stroke="#000" stroke-width="2" />
<line x1="132.60" y1="1288.52" x2="141.60" y2="1288.52" stroke="#000" stroke-width="2" />
<line x1="707.80" y1="1288.52" x2="698.80" y2="1288.52" stroke="#000" stroke-width="2" />
<line x1="132.60" y1="1245.93" x2="137.20" y2="1245.93" stroke="#000" stroke-width="2" />
<line x1="707.80" y1="1245.93" x2="703.20" y2="1245.93" stroke="#000" stroke-width="2" />
<line x1="132.60" y1="1203.34" x2="141.60" y2="1203.34" stroke="#000" stroke-width="2" />
<line x1="707.80" y1="1203.34" x2="698.80" y2="1203.34" stroke="#000" stroke-width="2" />
<line x1="132.60" y1="1160.75" x2="137.20" y2="1160.75" stroke="#000" stroke-width="2" />
<line x1="707.80" y1="1160.75" x2="703.20" y2="1160.75" stroke="#000" stroke-width="2" />
<line x1="132.60" y1="1118.16" x2="141.60" y2="1118.16" stroke="#000" stroke-width="2" />
<line x1="707.80" y1="1118.16" x2="698.80" y2="1118.16" stroke="#000" stroke-width="2" />
<line x1="132.60" y1="1075.57" x2="137.20" y2="1075.57" stroke="#000" stroke-width="2" />
<line x1="707.80" y1="1075.57" x2="703.20" y2="1075.57" stroke="#000" stroke-width="2" />
<line x1="132.60" y1="1032.98" x2="141.60" y2="1032.98" stroke="#000" stroke-width="2" />
<line x1="707.80" y1="1032.98" x2="698.80" y2="1032.98" stroke="#000" stroke-width="2" />
<line x1="132.60" y1="990.39" x2="137.20" y2="990.39" stroke="#000" stroke-width="2" />
<line x1="707.80" y1="990.39" x2="703.20" y2="990.39" stroke="#000" stroke-width="2" />
<line x1="132.60" y1="947.80" x2="141.60" y2="947.80" stroke="#000" stroke-width="2" />
<line x1="707.80" y1="947.80" x2="698.80" y2="947.80" stroke="#000" stroke-width="2" />
<line x1="132.60" y1="905.21" x2="137.20" y2="905.21" stroke="#000" stroke-width="2" />
<line x1="707.80" y1="905.21" x2="703.20" y2="905.21" stroke="#000" stroke-width="2" />
<g font-family="'Liberation Sans', Arial, sans-serif" font-weight="bold" fill="#000">
<text x="122.1" y="1383.6" font-size="34.3" text-anchor="end" >0.0</text>
<text x="122.1" y="1298.4" font-size="34.3" text-anchor="end" >0.2</text>
<text x="122.1" y="1213.2" font-size="34.3" text-anchor="end" >0.4</text>
<text x="122.1" y="1128.1" font-size="34.3" text-anchor="end" >0.6</text>
<text x="122.1" y="1042.9" font-size="34.3" text-anchor="end" >0.8</text>
<text x="122.1" y="957.7" font-size="34.3" text-anchor="end" >1.0</text>
<text x="122.1" y="872.5" font-size="34.3" text-anchor="end" >1.2</text>
<text x="132.6" y="1474.3" font-size="34" text-anchor="middle" >-0.02</text>
<text x="276.4" y="1474.3" font-size="34" text-anchor="middle" >-0.01</text>
<text x="420.2" y="1474.3" font-size="34" text-anchor="middle" >0.00</text>
<text x="564.0" y="1474.3" font-size="34" text-anchor="middle" >0.01</text>
<text x="707.8" y="1474.3" font-size="34" text-anchor="middle" >0.02</text>
<text x="420.2" y="1533.4" font-size="34" text-anchor="middle">Qx (nm<tspan dy="-14" font-size="22">-1</tspan><tspan dy="14">)</tspan></text>
<text transform="translate(63.9,1149.3) rotate(-90)" font-size="33.7" text-anchor="middle">Normalized Intensity</text>
<text x="147.3" y="909.0" font-size="34">Ge thickness: (<tspan font-family="'Liberation Serif', serif">&#956;</tspan>m)</text>
<line x1="147.40" y1="939.50" x2="223.70" y2="939.50" stroke="#FF0000" stroke-width="2.2" />
<line x1="147.40" y1="982.10" x2="223.70" y2="982.10" stroke="#000080" stroke-width="2.2" stroke-dasharray="8.2 8.8"/>
<text x="241.6" y="951.3" font-size="34" text-anchor="start" >5</text>
<text x="241.6" y="993.4" font-size="34" text-anchor="start" >0.5</text>
<text x="694.3" y="908.5" font-size="34.3" text-anchor="end" >Ge (111)</text>
<text x="697.3" y="956.2" font-size="33.6" text-anchor="end">Qz: 3.064 nm<tspan dy="-13.5" font-size="22">-1</tspan></text>
<text x="142.1" y="1415.8" font-size="33.6" text-anchor="start" >Cyclic annealing at 800 &#176;C</text>
</g>
<path d="M1102.8,1373.7 L1105.7,1373.7 L1109.8,1373.7 L1114.0,1373.7 L1118.1,1373.7 L1122.2,1373.7 L1126.4,1373.7 L1130.5,1373.7 L1134.7,1373.7 L1138.8,1373.7 L1143.0,1373.7 L1147.2,1373.7 L1151.3,1373.7 L1155.5,1373.7 L1159.6,1373.7 L1163.8,1373.7 L1167.9,1373.7 L1172.0,1373.7 L1176.2,1373.7 L1180.3,1373.7 L1184.5,1373.7 L1188.7,1373.7 L1192.8,1373.7 L1197.0,1373.7 L1201.1,1373.7 L1205.2,1373.7 L1209.4,1373.7 L1213.5,1373.7 L1217.7,1373.7 L1221.8,1373.7 L1226.0,1373.7 L1230.2,1373.7 L1234.3,1373.7 L1238.5,1373.7 L1242.6,1373.7 L1246.8,1373.6 L1250.9,1373.6 L1255.0,1373.6 L1259.2,1373.6 L1263.3,1373.6 L1267.5,1373.6 L1271.7,1373.6 L1275.8,1373.5 L1280.0,1373.5 L1284.1,1373.5 L1288.2,1373.4 L1292.4,1373.4 L1296.5,1373.3 L1300.7,1373.2 L1304.8,1373.1 L1309.0,1372.9 L1313.2,1372.7 L1317.3,1372.4 L1321.5,1372.0 L1325.6,1371.5 L1329.8,1370.8 L1333.9,1369.8 L1338.0,1368.4 L1342.2,1366.4 L1346.3,1363.4 L1350.5,1358.8 L1354.7,1351.9 L1358.8,1341.3 L1363.0,1324.8 L1367.1,1299.1 L1371.2,1260.1 L1375.4,1203.2 L1379.5,1127.8 L1383.7,1043.0 L1387.8,972.8 L1392.0,947.8 L1396.2,980.8 L1400.3,1055.0 L1404.5,1139.7 L1408.6,1212.7 L1412.8,1266.7 L1416.9,1303.6 L1421.0,1327.6 L1425.2,1343.1 L1429.3,1353.1 L1433.5,1359.6 L1437.7,1363.9 L1441.8,1366.7 L1446.0,1368.7 L1450.1,1370.0 L1454.2,1370.9 L1458.4,1371.6 L1462.5,1372.1 L1466.7,1372.5 L1470.8,1372.7 L1475.0,1372.9 L1479.2,1373.1 L1483.3,1373.2 L1487.5,1373.3 L1491.6,1373.4 L1495.8,1373.4 L1499.9,1373.5 L1504.0,1373.5 L1508.2,1373.5 L1512.3,1373.6 L1516.5,1373.6 L1520.7,1373.6 L1524.8,1373.6 L1529.0,1373.6 L1533.1,1373.6 L1537.2,1373.6 L1541.4,1373.7 L1545.5,1373.7 L1549.7,1373.7 L1553.8,1373.7 L1558.0,1373.7 L1562.2,1373.7 L1566.3,1373.7 L1570.5,1373.7 L1574.6,1373.7 L1578.8,1373.7 L1582.9,1373.7 L1587.0,1373.7 L1591.2,1373.7 L1595.3,1373.7 L1599.5,1373.7 L1603.7,1373.7 L1607.8,1373.7 L1612.0,1373.7 L1616.1,1373.7 L1620.2,1373.7 L1624.4,1373.7 L1628.5,1373.7 L1632.7,1373.7 L1636.8,1373.7 L1641.0,1373.7 L1645.2,1373.7 L1649.3,1373.7 L1653.5,1373.7 L1657.6,1373.7 L1661.8,1373.7 L1665.9,1373.7 L1670.0,1373.7 L1674.2,1373.7 L1678.0,1373.7" fill="none" stroke="#FF0000" stroke-width="1.9" stroke-linejoin="round"/>
<path d="M1102.8,1372.9 L1104.2,1372.9 L1108.3,1372.8 L1112.5,1372.7 L1116.6,1372.6 L1120.8,1372.5 L1124.9,1372.4 L1129.0,1372.3 L1133.2,1372.1 L1137.3,1372.0 L1141.5,1371.8 L1145.7,1371.6 L1149.8,1371.4 L1154.0,1371.1 L1158.1,1370.9 L1162.2,1370.5 L1166.4,1370.2 L1170.5,1369.8 L1174.7,1369.4 L1178.8,1368.9 L1183.0,1368.3 L1187.2,1367.7 L1191.3,1367.0 L1195.5,1366.2 L1199.6,1365.4 L1203.8,1364.4 L1207.9,1363.3 L1212.0,1362.1 L1216.2,1360.7 L1220.3,1359.1 L1224.5,1357.3 L1228.7,1355.4 L1232.8,1353.1 L1237.0,1350.6 L1241.1,1347.9 L1245.2,1344.7 L1249.4,1341.2 L1253.5,1337.3 L1257.7,1332.9 L1261.8,1327.9 L1266.0,1322.5 L1270.2,1316.4 L1274.3,1309.6 L1278.5,1302.1 L1282.6,1293.8 L1286.8,1284.7 L1290.9,1274.7 L1295.0,1263.8 L1299.2,1251.9 L1303.3,1239.0 L1307.5,1225.2 L1311.7,1210.3 L1315.8,1194.5 L1320.0,1177.8 L1324.1,1160.3 L1328.2,1142.1 L1332.4,1123.4 L1336.5,1104.3 L1340.7,1085.1 L1344.8,1066.0 L1349.0,1047.3 L1353.2,1029.4 L1357.3,1012.5 L1361.5,996.9 L1365.6,983.0 L1369.8,971.1 L1373.9,961.4 L1378.0,954.2 L1382.2,949.6 L1386.3,947.8 L1390.5,948.8 L1394.7,952.5 L1398.8,958.9 L1403.0,967.8 L1407.1,979.1 L1411.2,992.4 L1415.4,1007.4 L1419.5,1024.0 L1423.7,1041.6 L1427.8,1060.1 L1432.0,1079.1 L1436.2,1098.3 L1440.3,1117.4 L1444.5,1136.3 L1448.6,1154.7 L1452.8,1172.4 L1456.9,1189.4 L1461.0,1205.5 L1465.2,1220.6 L1469.3,1234.8 L1473.5,1248.0 L1477.7,1260.2 L1481.8,1271.4 L1486.0,1281.7 L1490.1,1291.1 L1494.2,1299.6 L1498.4,1307.3 L1502.5,1314.3 L1506.7,1320.6 L1510.8,1326.3 L1515.0,1331.4 L1519.2,1335.9 L1523.3,1340.0 L1527.5,1343.7 L1531.6,1346.9 L1535.8,1349.8 L1539.9,1352.4 L1544.0,1354.7 L1548.2,1356.7 L1552.3,1358.6 L1556.5,1360.2 L1560.7,1361.6 L1564.8,1362.9 L1569.0,1364.1 L1573.1,1365.1 L1577.2,1366.0 L1581.4,1366.8 L1585.5,1367.5 L1589.7,1368.1 L1593.8,1368.7 L1598.0,1369.2 L1602.2,1369.7 L1606.3,1370.1 L1610.5,1370.4 L1614.6,1370.8 L1618.8,1371.0 L1622.9,1371.3 L1627.0,1371.5 L1631.2,1371.7 L1635.3,1371.9 L1639.5,1372.1 L1643.7,1372.3 L1647.8,1372.4 L1652.0,1372.5 L1656.1,1372.6 L1660.2,1372.7 L1664.4,1372.8 L1668.5,1372.9 L1672.7,1373.0 L1676.8,1373.0 L1678.0,1373.0" fill="none" stroke="#000080" stroke-width="2.0" stroke-linejoin="round" stroke-dasharray="8.2 8.8"/>
<rect x="1102.8" y="862.5" width="575.2" height="575.1" fill="none" stroke="#000" stroke-width="2"/>
<line x1="1174.70" y1="1437.60" x2="1174.70" y2="1433.00" stroke="#000" stroke-width="2" />
<line x1="1174.70" y1="862.50" x2="1174.70" y2="867.10" stroke="#000" stroke-width="2" />
<line x1="1246.60" y1="1437.60" x2="1246.60" y2="1428.60" stroke="#000" stroke-width="2" />
<line x1="1246.60" y1="862.50" x2="1246.60" y2="871.50" stroke="#000" stroke-width="2" />
<line x1="1318.50" y1="1437.60" x2="1318.50" y2="1433.00" stroke="#000" stroke-width="2" />
<line x1="1318.50" y1="862.50" x2="1318.50" y2="867.10" stroke="#000" stroke-width="2" />
<line x1="1390.40" y1="1437.60" x2="1390.40" y2="1428.60" stroke="#000" stroke-width="2" />
<line x1="1390.40" y1="862.50" x2="1390.40" y2="871.50" stroke="#000" stroke-width="2" />
<line x1="1462.30" y1="1437.60" x2="1462.30" y2="1433.00" stroke="#000" stroke-width="2" />
<line x1="1462.30" y1="862.50" x2="1462.30" y2="867.10" stroke="#000" stroke-width="2" />
<line x1="1534.20" y1="1437.60" x2="1534.20" y2="1428.60" stroke="#000" stroke-width="2" />
<line x1="1534.20" y1="862.50" x2="1534.20" y2="871.50" stroke="#000" stroke-width="2" />
<line x1="1606.10" y1="1437.60" x2="1606.10" y2="1433.00" stroke="#000" stroke-width="2" />
<line x1="1606.10" y1="862.50" x2="1606.10" y2="867.10" stroke="#000" stroke-width="2" />
<line x1="1102.80" y1="1416.29" x2="1107.40" y2="1416.29" stroke="#000" stroke-width="2" />
<line x1="1678.00" y1="1416.29" x2="1673.40" y2="1416.29" stroke="#000" stroke-width="2" />
<line x1="1102.80" y1="1373.70" x2="1111.80" y2="1373.70" stroke="#000" stroke-width="2" />
<line x1="1678.00" y1="1373.70" x2="1669.00" y2="1373.70" stroke="#000" stroke-width="2" />
<line x1="1102.80" y1="1331.11" x2="1107.40" y2="1331.11" stroke="#000" stroke-width="2" />
<line x1="1678.00" y1="1331.11" x2="1673.40" y2="1331.11" stroke="#000" stroke-width="2" />
<line x1="1102.80" y1="1288.52" x2="1111.80" y2="1288.52" stroke="#000" stroke-width="2" />
<line x1="1678.00" y1="1288.52" x2="1669.00" y2="1288.52" stroke="#000" stroke-width="2" />
<line x1="1102.80" y1="1245.93" x2="1107.40" y2="1245.93" stroke="#000" stroke-width="2" />
<line x1="1678.00" y1="1245.93" x2="1673.40" y2="1245.93" stroke="#000" stroke-width="2" />
<line x1="1102.80" y1="1203.34" x2="1111.80" y2="1203.34" stroke="#000" stroke-width="2" />
<line x1="1678.00" y1="1203.34" x2="1669.00" y2="1203.34" stroke="#000" stroke-width="2" />
<line x1="1102.80" y1="1160.75" x2="1107.40" y2="1160.75" stroke="#000" stroke-width="2" />
<line x1="1678.00" y1="1160.75" x2="1673.40" y2="1160.75" stroke="#000" stroke-width="2" />
<line x1="1102.80" y1="1118.16" x2="1111.80" y2="1118.16" stroke="#000" stroke-width="2" />
<line x1="1678.00" y1="1118.16" x2="1669.00" y2="1118.16" stroke="#000" stroke-width="2" />
<line x1="1102.80" y1="1075.57" x2="1107.40" y2="1075.57" stroke="#000" stroke-width="2" />
<line x1="1678.00" y1="1075.57" x2="1673.40" y2="1075.57" stroke="#000" stroke-width="2" />
<line x1="1102.80" y1="1032.98" x2="1111.80" y2="1032.98" stroke="#000" stroke-width="2" />
<line x1="1678.00" y1="1032.98" x2="1669.00" y2="1032.98" stroke="#000" stroke-width="2" />
<line x1="1102.80" y1="990.39" x2="1107.40" y2="990.39" stroke="#000" stroke-width="2" />
<line x1="1678.00" y1="990.39" x2="1673.40" y2="990.39" stroke="#000" stroke-width="2" />
<line x1="1102.80" y1="947.80" x2="1111.80" y2="947.80" stroke="#000" stroke-width="2" />
<line x1="1678.00" y1="947.80" x2="1669.00" y2="947.80" stroke="#000" stroke-width="2" />
<line x1="1102.80" y1="905.21" x2="1107.40" y2="905.21" stroke="#000" stroke-width="2" />
<line x1="1678.00" y1="905.21" x2="1673.40" y2="905.21" stroke="#000" stroke-width="2" />
<g font-family="'Liberation Sans', Arial, sans-serif" font-weight="bold" fill="#000">
<text x="1092.3" y="1383.6" font-size="34.3" text-anchor="end" >0.0</text>
<text x="1092.3" y="1298.4" font-size="34.3" text-anchor="end" >0.2</text>
<text x="1092.3" y="1213.2" font-size="34.3" text-anchor="end" >0.4</text>
<text x="1092.3" y="1128.1" font-size="34.3" text-anchor="end" >0.6</text>
<text x="1092.3" y="1042.9" font-size="34.3" text-anchor="end" >0.8</text>
<text x="1092.3" y="957.7" font-size="34.3" text-anchor="end" >1.0</text>
<text x="1092.3" y="872.5" font-size="34.3" text-anchor="end" >1.2</text>
<text x="1102.8" y="1474.3" font-size="34" text-anchor="middle" >-0.02</text>
<text x="1246.6" y="1474.3" font-size="34" text-anchor="middle" >-0.01</text>
<text x="1390.4" y="1474.3" font-size="34" text-anchor="middle" >0.00</text>
<text x="1534.2" y="1474.3" font-size="34" text-anchor="middle" >0.01</text>
<text x="1678.0" y="1474.3" font-size="34" text-anchor="middle" >0.02</text>
<text x="1390.4" y="1533.4" font-size="34" text-anchor="middle">Qx (nm<tspan dy="-14" font-size="22">-1</tspan><tspan dy="14">)</tspan></text>
<text transform="translate(1033.8,1149.3) rotate(-90)" font-size="33.7" text-anchor="middle">Normalized Intensity</text>
<text x="1116.7" y="905.9" font-size="34">Ge thickness: (<tspan font-family="'Liberation Serif', serif">&#956;</tspan>m)</text>
<line x1="1116.40" y1="936.60" x2="1193.00" y2="936.60" stroke="#FF0000" stroke-width="2.2" />
<line x1="1116.40" y1="979.20" x2="1193.00" y2="979.20" stroke="#000080" stroke-width="2.2" stroke-dasharray="8.2 8.8"/>
<text x="1202.3" y="948.5" font-size="34" text-anchor="start" >5</text>
<text x="1202.3" y="991.5" font-size="34" text-anchor="start" >0.5</text>
<text x="1663.8" y="907.0" font-size="34.3" text-anchor="end" >Ge (110)</text>
<text x="1668.8" y="955.6" font-size="33.6" text-anchor="end">Qz: 5.004 nm<tspan dy="-13.5" font-size="22">-1</tspan></text>
<text x="1107.6" y="1421.1" font-size="33.6" text-anchor="start" >Cyclic annealing at 800 &#176;C</text>
</g>
</svg></body></html>
